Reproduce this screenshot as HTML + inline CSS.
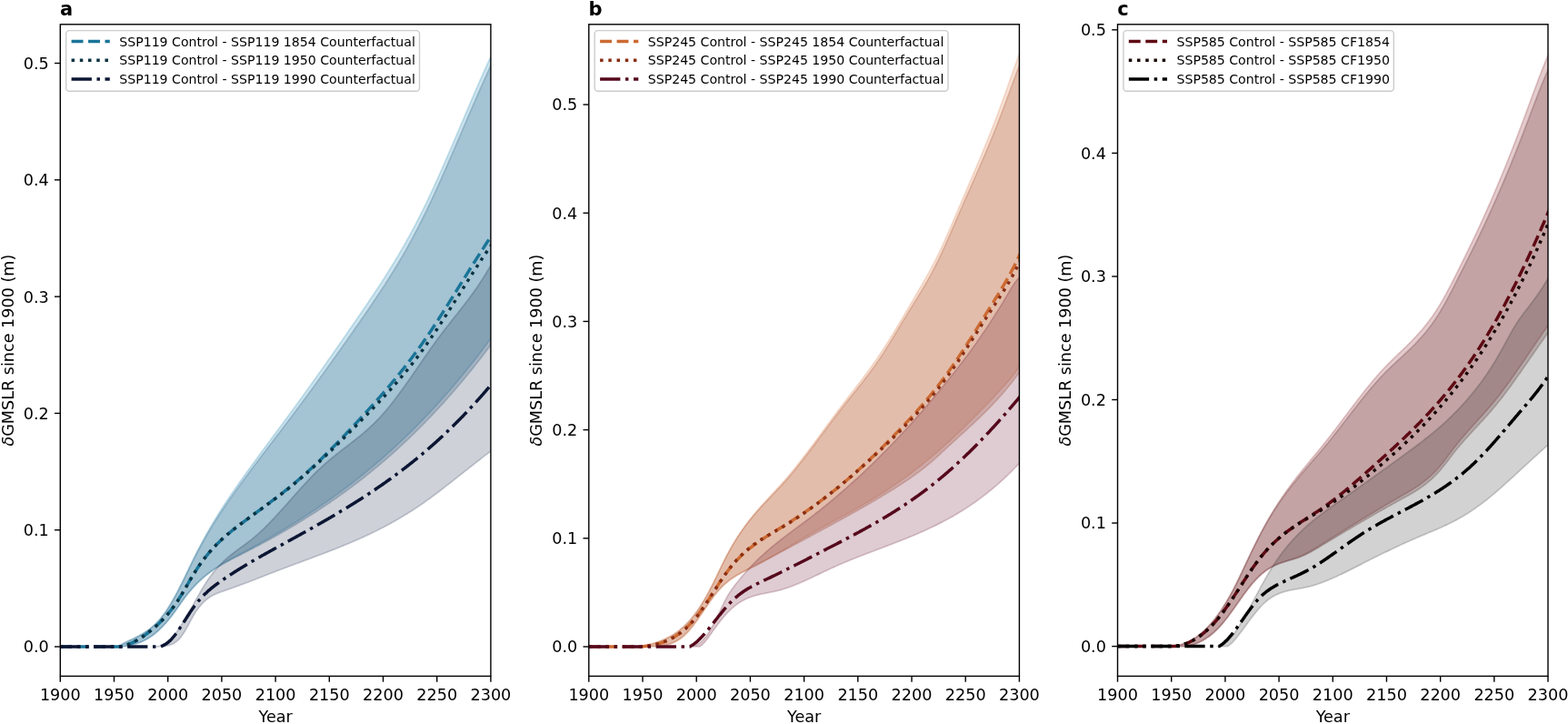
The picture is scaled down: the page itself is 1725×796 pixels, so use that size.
<!DOCTYPE html>
<html><head><meta charset="utf-8"><title>Sea level rise figure</title>
<style>html,body{margin:0;padding:0;background:#fff;}svg{display:block;}</style>
</head><body>
<svg width="1725" height="796" viewBox="0 0 1725 796" font-family='"DejaVu Sans", "Liberation Sans", sans-serif' fill="#000">
<rect width="1725" height="796" fill="#fff"/>
<clipPath id="clip0"><rect x="66.30" y="26.80" width="473.60" height="716.60"/></clipPath>
<g clip-path="url(#clip0)">
<path d="M129.0,711.0 L130.0,710.7 L131.0,710.1 L132.0,709.5 L133.0,709.0 L134.0,708.4 L135.0,707.9 L136.0,707.4 L137.0,706.9 L138.0,706.3 L139.0,705.9 L140.0,705.4 L141.0,704.9 L142.0,704.4 L143.0,703.9 L144.0,703.4 L145.0,703.0 L146.0,702.5 L147.0,702.0 L148.0,701.5 L149.0,701.0 L150.0,700.5 L151.0,700.0 L152.0,699.5 L153.0,699.0 L154.0,698.4 L155.0,697.9 L156.0,697.3 L157.0,696.7 L158.0,696.1 L159.0,695.5 L160.0,694.8 L161.0,694.2 L162.0,693.5 L163.0,692.8 L164.0,692.0 L165.0,691.3 L166.0,690.5 L167.0,689.7 L168.0,688.8 L169.0,687.9 L170.0,687.0 L171.0,686.0 L172.0,685.1 L173.0,684.0 L174.0,683.0 L175.0,681.9 L176.0,680.7 L177.0,679.5 L178.0,678.3 L179.0,677.0 L180.0,675.7 L181.0,674.3 L182.0,672.9 L183.0,671.4 L184.0,669.9 L185.0,668.3 L186.0,666.7 L187.0,665.1 L188.0,663.4 L189.0,661.7 L190.0,660.0 L191.0,658.2 L192.0,656.4 L193.0,654.6 L194.0,652.7 L195.0,650.8 L196.0,648.9 L197.0,646.9 L198.0,645.0 L199.0,643.0 L200.0,640.9 L201.0,638.9 L202.0,636.9 L203.0,634.8 L204.0,632.7 L205.0,630.6 L206.0,628.5 L207.0,626.5 L208.0,624.4 L209.0,622.3 L210.0,620.2 L211.0,618.1 L212.0,616.1 L213.0,614.0 L214.0,612.0 L215.0,610.0 L216.0,608.0 L217.0,606.0 L218.0,604.1 L219.0,602.1 L220.0,600.2 L221.0,598.3 L222.0,596.5 L223.0,594.6 L224.0,592.8 L225.0,590.9 L226.0,589.1 L227.0,587.3 L228.0,585.6 L229.0,583.8 L230.0,582.1 L231.0,580.3 L232.0,578.6 L233.0,576.9 L234.0,575.3 L235.0,573.6 L236.0,571.9 L237.0,570.3 L238.0,568.7 L239.0,567.0 L240.0,565.4 L241.0,563.8 L242.0,562.3 L243.0,560.7 L244.0,559.1 L245.0,557.6 L246.0,556.0 L247.0,554.5 L248.0,553.0 L249.0,551.5 L250.0,550.0 L251.0,548.5 L252.0,547.0 L253.0,545.5 L254.0,544.0 L255.0,542.6 L256.0,541.1 L257.0,539.7 L258.0,538.2 L259.0,536.8 L260.0,535.3 L261.0,533.9 L262.0,532.5 L263.0,531.1 L264.0,529.6 L265.0,528.2 L266.0,526.8 L267.0,525.4 L268.0,524.0 L269.0,522.6 L270.0,521.2 L271.0,519.8 L272.0,518.4 L273.0,517.0 L274.0,515.6 L275.0,514.3 L276.0,512.9 L277.0,511.5 L278.0,510.1 L279.0,508.8 L280.0,507.4 L281.0,506.0 L282.0,504.7 L283.0,503.3 L284.0,501.9 L285.0,500.6 L286.0,499.2 L287.0,497.8 L288.0,496.5 L289.0,495.1 L290.0,493.8 L291.0,492.4 L292.0,491.1 L293.0,489.7 L294.0,488.4 L295.0,487.0 L296.0,485.7 L297.0,484.3 L298.0,483.0 L299.0,481.6 L300.0,480.3 L301.0,478.9 L302.0,477.6 L303.0,476.3 L304.0,474.9 L305.0,473.6 L306.0,472.2 L307.0,470.9 L308.0,469.5 L309.0,468.2 L310.0,466.8 L311.0,465.5 L312.0,464.1 L313.0,462.8 L314.0,461.4 L315.0,460.1 L316.0,458.7 L317.0,457.4 L318.0,456.0 L319.0,454.7 L320.0,453.3 L321.0,451.9 L322.0,450.6 L323.0,449.2 L324.0,447.8 L325.0,446.5 L326.0,445.1 L327.0,443.7 L328.0,442.4 L329.0,441.0 L330.0,439.6 L331.0,438.2 L332.0,436.8 L333.0,435.5 L334.0,434.1 L335.0,432.7 L336.0,431.3 L337.0,429.9 L338.0,428.5 L339.0,427.1 L340.0,425.7 L341.0,424.3 L342.0,423.0 L343.0,421.6 L344.0,420.2 L345.0,418.8 L346.0,417.4 L347.0,415.9 L348.0,414.5 L349.0,413.1 L350.0,411.7 L351.0,410.3 L352.0,408.9 L353.0,407.5 L354.0,406.1 L355.0,404.7 L356.0,403.2 L357.0,401.8 L358.0,400.4 L359.0,399.0 L360.0,397.6 L361.0,396.1 L362.0,394.7 L363.0,393.3 L364.0,391.9 L365.0,390.4 L366.0,389.0 L367.0,387.6 L368.0,386.1 L369.0,384.7 L370.0,383.3 L371.0,381.8 L372.0,380.4 L373.0,379.0 L374.0,377.5 L375.0,376.1 L376.0,374.7 L377.0,373.2 L378.0,371.8 L379.0,370.3 L380.0,368.9 L381.0,367.4 L382.0,366.0 L383.0,364.5 L384.0,363.1 L385.0,361.6 L386.0,360.2 L387.0,358.7 L388.0,357.3 L389.0,355.8 L390.0,354.4 L391.0,352.9 L392.0,351.5 L393.0,350.0 L394.0,348.6 L395.0,347.1 L396.0,345.7 L397.0,344.2 L398.0,342.7 L399.0,341.3 L400.0,339.8 L401.0,338.3 L402.0,336.9 L403.0,335.4 L404.0,333.9 L405.0,332.5 L406.0,331.0 L407.0,329.5 L408.0,328.0 L409.0,326.5 L410.0,325.0 L411.0,323.5 L412.0,322.0 L413.0,320.5 L414.0,319.0 L415.0,317.5 L416.0,316.0 L417.0,314.5 L418.0,312.9 L419.0,311.4 L420.0,309.9 L421.0,308.3 L422.0,306.8 L423.0,305.2 L424.0,303.6 L425.0,302.1 L426.0,300.5 L427.0,298.9 L428.0,297.3 L429.0,295.7 L430.0,294.1 L431.0,292.5 L432.0,290.8 L433.0,289.2 L434.0,287.6 L435.0,285.9 L436.0,284.2 L437.0,282.6 L438.0,280.9 L439.0,279.2 L440.0,277.5 L441.0,275.8 L442.0,274.1 L443.0,272.3 L444.0,270.6 L445.0,268.8 L446.0,267.1 L447.0,265.3 L448.0,263.5 L449.0,261.7 L450.0,259.9 L451.0,258.1 L452.0,256.2 L453.0,254.4 L454.0,252.5 L455.0,250.7 L456.0,248.8 L457.0,246.9 L458.0,245.0 L459.0,243.0 L460.0,241.1 L461.0,239.2 L462.0,237.2 L463.0,235.2 L464.0,233.2 L465.0,231.2 L466.0,229.2 L467.0,227.1 L468.0,225.1 L469.0,223.0 L470.0,220.9 L471.0,218.8 L472.0,216.7 L473.0,214.6 L474.0,212.4 L475.0,210.3 L476.0,208.1 L477.0,206.0 L478.0,203.8 L479.0,201.6 L480.0,199.4 L481.0,197.2 L482.0,194.9 L483.0,192.7 L484.0,190.5 L485.0,188.2 L486.0,186.0 L487.0,183.7 L488.0,181.4 L489.0,179.2 L490.0,176.9 L491.0,174.6 L492.0,172.3 L493.0,170.0 L494.0,167.7 L495.0,165.4 L496.0,163.0 L497.0,160.7 L498.0,158.4 L499.0,156.1 L500.0,153.7 L501.0,151.4 L502.0,149.1 L503.0,146.7 L504.0,144.4 L505.0,142.0 L506.0,139.7 L507.0,137.3 L508.0,135.0 L509.0,132.7 L510.0,130.3 L511.0,128.0 L512.0,125.6 L513.0,123.3 L514.0,121.0 L515.0,118.6 L516.0,116.3 L517.0,114.0 L518.0,111.6 L519.0,109.3 L520.0,107.0 L521.0,104.7 L522.0,102.4 L523.0,100.0 L524.0,97.7 L525.0,95.5 L526.0,93.2 L527.0,90.9 L528.0,88.6 L529.0,86.3 L530.0,84.1 L531.0,81.8 L532.0,79.6 L533.0,77.3 L534.0,75.1 L535.0,72.9 L536.0,70.7 L537.0,68.5 L538.0,66.3 L539.0,64.1 L540.0,62.0 L541.0,59.8 L542.0,57.7 L543.0,55.5 L544.0,53.4 L544.0,366.7 L543.0,368.1 L542.0,369.5 L541.0,370.8 L540.0,372.2 L539.0,373.6 L538.0,374.9 L537.0,376.3 L536.0,377.6 L535.0,379.0 L534.0,380.3 L533.0,381.7 L532.0,383.0 L531.0,384.3 L530.0,385.6 L529.0,386.9 L528.0,388.2 L527.0,389.6 L526.0,390.9 L525.0,392.1 L524.0,393.4 L523.0,394.7 L522.0,396.0 L521.0,397.3 L520.0,398.6 L519.0,399.8 L518.0,401.1 L517.0,402.3 L516.0,403.6 L515.0,404.8 L514.0,406.1 L513.0,407.3 L512.0,408.6 L511.0,409.8 L510.0,411.0 L509.0,412.2 L508.0,413.5 L507.0,414.7 L506.0,415.9 L505.0,417.1 L504.0,418.3 L503.0,419.5 L502.0,420.7 L501.0,421.8 L500.0,423.0 L499.0,424.2 L498.0,425.4 L497.0,426.5 L496.0,427.7 L495.0,428.9 L494.0,430.0 L493.0,431.2 L492.0,432.3 L491.0,433.5 L490.0,434.6 L489.0,435.7 L488.0,436.9 L487.0,438.0 L486.0,439.1 L485.0,440.2 L484.0,441.3 L483.0,442.4 L482.0,443.5 L481.0,444.6 L480.0,445.7 L479.0,446.8 L478.0,447.9 L477.0,449.0 L476.0,450.1 L475.0,451.1 L474.0,452.2 L473.0,453.3 L472.0,454.3 L471.0,455.4 L470.0,456.5 L469.0,457.5 L468.0,458.6 L467.0,459.6 L466.0,460.6 L465.0,461.7 L464.0,462.7 L463.0,463.7 L462.0,464.8 L461.0,465.8 L460.0,466.8 L459.0,467.8 L458.0,468.8 L457.0,469.8 L456.0,470.8 L455.0,471.8 L454.0,472.8 L453.0,473.8 L452.0,474.8 L451.0,475.8 L450.0,476.7 L449.0,477.7 L448.0,478.7 L447.0,479.6 L446.0,480.6 L445.0,481.6 L444.0,482.5 L443.0,483.5 L442.0,484.4 L441.0,485.4 L440.0,486.3 L439.0,487.3 L438.0,488.2 L437.0,489.1 L436.0,490.0 L435.0,491.0 L434.0,491.9 L433.0,492.8 L432.0,493.7 L431.0,494.6 L430.0,495.5 L429.0,496.4 L428.0,497.3 L427.0,498.2 L426.0,499.1 L425.0,500.0 L424.0,500.9 L423.0,501.8 L422.0,502.7 L421.0,503.5 L420.0,504.4 L419.0,505.3 L418.0,506.2 L417.0,507.0 L416.0,507.9 L415.0,508.7 L414.0,509.6 L413.0,510.4 L412.0,511.3 L411.0,512.1 L410.0,513.0 L409.0,513.8 L408.0,514.6 L407.0,515.5 L406.0,516.3 L405.0,517.1 L404.0,517.9 L403.0,518.8 L402.0,519.6 L401.0,520.4 L400.0,521.2 L399.0,522.0 L398.0,522.8 L397.0,523.6 L396.0,524.4 L395.0,525.2 L394.0,526.0 L393.0,526.8 L392.0,527.6 L391.0,528.4 L390.0,529.1 L389.0,529.9 L388.0,530.7 L387.0,531.5 L386.0,532.2 L385.0,533.0 L384.0,533.8 L383.0,534.5 L382.0,535.3 L381.0,536.0 L380.0,536.8 L379.0,537.5 L378.0,538.3 L377.0,539.0 L376.0,539.8 L375.0,540.5 L374.0,541.3 L373.0,542.0 L372.0,542.7 L371.0,543.5 L370.0,544.2 L369.0,544.9 L368.0,545.6 L367.0,546.3 L366.0,547.1 L365.0,547.8 L364.0,548.5 L363.0,549.2 L362.0,549.9 L361.0,550.6 L360.0,551.3 L359.0,552.0 L358.0,552.7 L357.0,553.4 L356.0,554.1 L355.0,554.8 L354.0,555.5 L353.0,556.1 L352.0,556.8 L351.0,557.5 L350.0,558.2 L349.0,558.9 L348.0,559.5 L347.0,560.2 L346.0,560.9 L345.0,561.5 L344.0,562.2 L343.0,562.9 L342.0,563.5 L341.0,564.2 L340.0,564.8 L339.0,565.5 L338.0,566.1 L337.0,566.8 L336.0,567.4 L335.0,568.1 L334.0,568.7 L333.0,569.4 L332.0,570.0 L331.0,570.6 L330.0,571.3 L329.0,571.9 L328.0,572.5 L327.0,573.2 L326.0,573.8 L325.0,574.4 L324.0,575.0 L323.0,575.7 L322.0,576.3 L321.0,576.9 L320.0,577.5 L319.0,578.1 L318.0,578.7 L317.0,579.3 L316.0,580.0 L315.0,580.6 L314.0,581.2 L313.0,581.8 L312.0,582.4 L311.0,583.0 L310.0,583.6 L309.0,584.2 L308.0,584.8 L307.0,585.3 L306.0,585.9 L305.0,586.5 L304.0,587.1 L303.0,587.7 L302.0,588.3 L301.0,588.9 L300.0,589.4 L299.0,590.0 L298.0,590.6 L297.0,591.2 L296.0,591.7 L295.0,592.3 L294.0,592.9 L293.0,593.5 L292.0,594.0 L291.0,594.6 L290.0,595.2 L289.0,595.7 L288.0,596.3 L287.0,596.8 L286.0,597.4 L285.0,598.0 L284.0,598.5 L283.0,599.1 L282.0,599.6 L281.0,600.2 L280.0,600.7 L279.0,601.3 L278.0,601.8 L277.0,602.4 L276.0,602.9 L275.0,603.5 L274.0,604.0 L273.0,604.6 L272.0,605.1 L271.0,605.6 L270.0,606.2 L269.0,606.7 L268.0,607.3 L267.0,607.8 L266.0,608.3 L265.0,608.9 L264.0,609.4 L263.0,609.9 L262.0,610.4 L261.0,611.0 L260.0,611.5 L259.0,612.0 L258.0,612.6 L257.0,613.1 L256.0,613.6 L255.0,614.2 L254.0,614.7 L253.0,615.3 L252.0,615.8 L251.0,616.4 L250.0,616.9 L249.0,617.5 L248.0,618.1 L247.0,618.7 L246.0,619.2 L245.0,619.8 L244.0,620.4 L243.0,621.0 L242.0,621.7 L241.0,622.3 L240.0,622.9 L239.0,623.6 L238.0,624.2 L237.0,624.9 L236.0,625.6 L235.0,626.3 L234.0,627.0 L233.0,627.7 L232.0,628.4 L231.0,629.2 L230.0,629.9 L229.0,630.7 L228.0,631.5 L227.0,632.3 L226.0,633.1 L225.0,634.0 L224.0,634.8 L223.0,635.7 L222.0,636.6 L221.0,637.5 L220.0,638.4 L219.0,639.4 L218.0,640.3 L217.0,641.3 L216.0,642.3 L215.0,643.3 L214.0,644.4 L213.0,645.5 L212.0,646.6 L211.0,647.7 L210.0,648.8 L209.0,650.0 L208.0,651.2 L207.0,652.4 L206.0,653.6 L205.0,654.9 L204.0,656.2 L203.0,657.5 L202.0,658.9 L201.0,660.3 L200.0,661.6 L199.0,663.1 L198.0,664.5 L197.0,665.9 L196.0,667.3 L195.0,668.7 L194.0,670.2 L193.0,671.6 L192.0,672.9 L191.0,674.3 L190.0,675.6 L189.0,676.9 L188.0,678.2 L187.0,679.5 L186.0,680.7 L185.0,681.9 L184.0,683.1 L183.0,684.2 L182.0,685.4 L181.0,686.5 L180.0,687.6 L179.0,688.6 L178.0,689.6 L177.0,690.6 L176.0,691.6 L175.0,692.5 L174.0,693.5 L173.0,694.4 L172.0,695.2 L171.0,696.1 L170.0,696.9 L169.0,697.7 L168.0,698.4 L167.0,699.1 L166.0,699.9 L165.0,700.5 L164.0,701.2 L163.0,701.8 L162.0,702.4 L161.0,703.0 L160.0,703.5 L159.0,704.0 L158.0,704.5 L157.0,705.0 L156.0,705.5 L155.0,705.9 L154.0,706.3 L153.0,706.7 L152.0,707.1 L151.0,707.4 L150.0,707.7 L149.0,708.1 L148.0,708.4 L147.0,708.6 L146.0,708.9 L145.0,709.1 L144.0,709.3 L143.0,709.5 L142.0,709.7 L141.0,709.9 L140.0,710.1 L139.0,710.2 L138.0,710.4 L137.0,710.5 L136.0,710.6 L135.0,710.7 L134.0,710.8 L133.0,710.9 L132.0,710.9 L131.0,711.0 L130.0,711.0 L129.0,711.0 Z" fill="#0578aa" fill-opacity="0.200" stroke="#0578aa" stroke-opacity="0.200" stroke-width="1.74" stroke-linejoin="round"/>
<path d="M129.0,711.0 L130.0,710.7 L131.0,710.1 L132.0,709.5 L133.0,709.0 L134.0,708.4 L135.0,707.9 L136.0,707.4 L137.0,706.9 L138.0,706.4 L139.0,705.9 L140.0,705.4 L141.0,704.9 L142.0,704.4 L143.0,703.9 L144.0,703.4 L145.0,703.0 L146.0,702.5 L147.0,702.0 L148.0,701.5 L149.0,701.0 L150.0,700.5 L151.0,700.0 L152.0,699.5 L153.0,698.9 L154.0,698.4 L155.0,697.8 L156.0,697.3 L157.0,696.7 L158.0,696.1 L159.0,695.4 L160.0,694.8 L161.0,694.1 L162.0,693.4 L163.0,692.7 L164.0,692.0 L165.0,691.2 L166.0,690.4 L167.0,689.6 L168.0,688.8 L169.0,687.9 L170.0,687.0 L171.0,686.0 L172.0,685.0 L173.0,684.0 L174.0,682.9 L175.0,681.8 L176.0,680.7 L177.0,679.5 L178.0,678.3 L179.0,677.0 L180.0,675.7 L181.0,674.4 L182.0,673.0 L183.0,671.5 L184.0,670.0 L185.0,668.5 L186.0,666.9 L187.0,665.3 L188.0,663.7 L189.0,662.0 L190.0,660.3 L191.0,658.5 L192.0,656.8 L193.0,655.0 L194.0,653.1 L195.0,651.3 L196.0,649.4 L197.0,647.5 L198.0,645.5 L199.0,643.6 L200.0,641.6 L201.0,639.6 L202.0,637.6 L203.0,635.6 L204.0,633.5 L205.0,631.5 L206.0,629.4 L207.0,627.4 L208.0,625.3 L209.0,623.3 L210.0,621.3 L211.0,619.2 L212.0,617.2 L213.0,615.2 L214.0,613.2 L215.0,611.3 L216.0,609.3 L217.0,607.4 L218.0,605.5 L219.0,603.6 L220.0,601.8 L221.0,599.9 L222.0,598.1 L223.0,596.3 L224.0,594.5 L225.0,592.7 L226.0,590.9 L227.0,589.2 L228.0,587.5 L229.0,585.8 L230.0,584.1 L231.0,582.4 L232.0,580.7 L233.0,579.1 L234.0,577.4 L235.0,575.8 L236.0,574.2 L237.0,572.6 L238.0,571.0 L239.0,569.4 L240.0,567.9 L241.0,566.3 L242.0,564.8 L243.0,563.3 L244.0,561.8 L245.0,560.3 L246.0,558.8 L247.0,557.3 L248.0,555.8 L249.0,554.3 L250.0,552.9 L251.0,551.4 L252.0,550.0 L253.0,548.5 L254.0,547.1 L255.0,545.7 L256.0,544.3 L257.0,542.9 L258.0,541.5 L259.0,540.1 L260.0,538.7 L261.0,537.3 L262.0,535.9 L263.0,534.5 L264.0,533.1 L265.0,531.8 L266.0,530.4 L267.0,529.0 L268.0,527.7 L269.0,526.3 L270.0,525.0 L271.0,523.6 L272.0,522.3 L273.0,520.9 L274.0,519.6 L275.0,518.2 L276.0,516.9 L277.0,515.5 L278.0,514.2 L279.0,512.9 L280.0,511.5 L281.0,510.2 L282.0,508.9 L283.0,507.6 L284.0,506.2 L285.0,504.9 L286.0,503.6 L287.0,502.3 L288.0,500.9 L289.0,499.6 L290.0,498.3 L291.0,497.0 L292.0,495.7 L293.0,494.4 L294.0,493.0 L295.0,491.7 L296.0,490.4 L297.0,489.1 L298.0,487.8 L299.0,486.5 L300.0,485.2 L301.0,483.9 L302.0,482.6 L303.0,481.2 L304.0,479.9 L305.0,478.6 L306.0,477.3 L307.0,476.0 L308.0,474.7 L309.0,473.4 L310.0,472.1 L311.0,470.7 L312.0,469.4 L313.0,468.1 L314.0,466.8 L315.0,465.5 L316.0,464.2 L317.0,462.8 L318.0,461.5 L319.0,460.2 L320.0,458.9 L321.0,457.5 L322.0,456.2 L323.0,454.9 L324.0,453.5 L325.0,452.2 L326.0,450.9 L327.0,449.5 L328.0,448.2 L329.0,446.9 L330.0,445.5 L331.0,444.2 L332.0,442.8 L333.0,441.5 L334.0,440.1 L335.0,438.8 L336.0,437.4 L337.0,436.1 L338.0,434.7 L339.0,433.3 L340.0,432.0 L341.0,430.6 L342.0,429.3 L343.0,427.9 L344.0,426.5 L345.0,425.2 L346.0,423.8 L347.0,422.4 L348.0,421.0 L349.0,419.7 L350.0,418.3 L351.0,416.9 L352.0,415.5 L353.0,414.1 L354.0,412.8 L355.0,411.4 L356.0,410.0 L357.0,408.6 L358.0,407.2 L359.0,405.8 L360.0,404.4 L361.0,403.0 L362.0,401.6 L363.0,400.2 L364.0,398.8 L365.0,397.4 L366.0,396.0 L367.0,394.6 L368.0,393.2 L369.0,391.8 L370.0,390.4 L371.0,389.0 L372.0,387.6 L373.0,386.2 L374.0,384.8 L375.0,383.4 L376.0,382.0 L377.0,380.6 L378.0,379.1 L379.0,377.7 L380.0,376.3 L381.0,374.9 L382.0,373.5 L383.0,372.0 L384.0,370.6 L385.0,369.2 L386.0,367.8 L387.0,366.3 L388.0,364.9 L389.0,363.5 L390.0,362.1 L391.0,360.6 L392.0,359.2 L393.0,357.8 L394.0,356.3 L395.0,354.9 L396.0,353.4 L397.0,352.0 L398.0,350.6 L399.0,349.1 L400.0,347.7 L401.0,346.2 L402.0,344.8 L403.0,343.3 L404.0,341.9 L405.0,340.4 L406.0,339.0 L407.0,337.5 L408.0,336.0 L409.0,334.6 L410.0,333.1 L411.0,331.6 L412.0,330.1 L413.0,328.6 L414.0,327.1 L415.0,325.6 L416.0,324.1 L417.0,322.6 L418.0,321.1 L419.0,319.6 L420.0,318.1 L421.0,316.5 L422.0,315.0 L423.0,313.5 L424.0,311.9 L425.0,310.3 L426.0,308.8 L427.0,307.2 L428.0,305.6 L429.0,304.0 L430.0,302.4 L431.0,300.8 L432.0,299.2 L433.0,297.6 L434.0,296.0 L435.0,294.3 L436.0,292.7 L437.0,291.0 L438.0,289.4 L439.0,287.7 L440.0,286.0 L441.0,284.3 L442.0,282.6 L443.0,280.9 L444.0,279.1 L445.0,277.4 L446.0,275.7 L447.0,273.9 L448.0,272.1 L449.0,270.3 L450.0,268.5 L451.0,266.7 L452.0,264.9 L453.0,263.1 L454.0,261.2 L455.0,259.4 L456.0,257.5 L457.0,255.6 L458.0,253.7 L459.0,251.8 L460.0,249.9 L461.0,247.9 L462.0,246.0 L463.0,244.0 L464.0,242.0 L465.0,240.0 L466.0,238.0 L467.0,236.0 L468.0,233.9 L469.0,231.9 L470.0,229.8 L471.0,227.7 L472.0,225.6 L473.0,223.5 L474.0,221.4 L475.0,219.3 L476.0,217.1 L477.0,215.0 L478.0,212.8 L479.0,210.6 L480.0,208.4 L481.0,206.2 L482.0,204.0 L483.0,201.8 L484.0,199.6 L485.0,197.3 L486.0,195.1 L487.0,192.8 L488.0,190.6 L489.0,188.3 L490.0,186.1 L491.0,183.8 L492.0,181.5 L493.0,179.2 L494.0,176.9 L495.0,174.6 L496.0,172.3 L497.0,170.0 L498.0,167.7 L499.0,165.4 L500.0,163.1 L501.0,160.7 L502.0,158.4 L503.0,156.1 L504.0,153.8 L505.0,151.5 L506.0,149.1 L507.0,146.8 L508.0,144.5 L509.0,142.1 L510.0,139.8 L511.0,137.5 L512.0,135.2 L513.0,132.8 L514.0,130.5 L515.0,128.2 L516.0,125.9 L517.0,123.6 L518.0,121.2 L519.0,118.9 L520.0,116.6 L521.0,114.3 L522.0,112.0 L523.0,109.7 L524.0,107.5 L525.0,105.2 L526.0,102.9 L527.0,100.6 L528.0,98.4 L529.0,96.1 L530.0,93.9 L531.0,91.7 L532.0,89.4 L533.0,87.2 L534.0,85.0 L535.0,82.8 L536.0,80.6 L537.0,78.4 L538.0,76.2 L539.0,74.1 L540.0,71.9 L541.0,69.8 L542.0,67.7 L543.0,65.6 L544.0,63.5 L544.0,373.8 L543.0,375.1 L542.0,376.5 L541.0,377.8 L540.0,379.2 L539.0,380.5 L538.0,381.9 L537.0,383.2 L536.0,384.5 L535.0,385.8 L534.0,387.2 L533.0,388.5 L532.0,389.8 L531.0,391.1 L530.0,392.4 L529.0,393.7 L528.0,395.0 L527.0,396.3 L526.0,397.5 L525.0,398.8 L524.0,400.1 L523.0,401.3 L522.0,402.6 L521.0,403.9 L520.0,405.1 L519.0,406.4 L518.0,407.6 L517.0,408.8 L516.0,410.1 L515.0,411.3 L514.0,412.5 L513.0,413.7 L512.0,415.0 L511.0,416.2 L510.0,417.4 L509.0,418.6 L508.0,419.8 L507.0,421.0 L506.0,422.1 L505.0,423.3 L504.0,424.5 L503.0,425.7 L502.0,426.8 L501.0,428.0 L500.0,429.2 L499.0,430.3 L498.0,431.5 L497.0,432.6 L496.0,433.8 L495.0,434.9 L494.0,436.0 L493.0,437.2 L492.0,438.3 L491.0,439.4 L490.0,440.5 L489.0,441.7 L488.0,442.8 L487.0,443.9 L486.0,445.0 L485.0,446.1 L484.0,447.2 L483.0,448.2 L482.0,449.3 L481.0,450.4 L480.0,451.5 L479.0,452.5 L478.0,453.6 L477.0,454.7 L476.0,455.7 L475.0,456.8 L474.0,457.8 L473.0,458.9 L472.0,459.9 L471.0,461.0 L470.0,462.0 L469.0,463.0 L468.0,464.1 L467.0,465.1 L466.0,466.1 L465.0,467.1 L464.0,468.1 L463.0,469.1 L462.0,470.1 L461.0,471.1 L460.0,472.1 L459.0,473.1 L458.0,474.1 L457.0,475.1 L456.0,476.1 L455.0,477.1 L454.0,478.0 L453.0,479.0 L452.0,480.0 L451.0,480.9 L450.0,481.9 L449.0,482.8 L448.0,483.8 L447.0,484.7 L446.0,485.7 L445.0,486.6 L444.0,487.5 L443.0,488.5 L442.0,489.4 L441.0,490.3 L440.0,491.3 L439.0,492.2 L438.0,493.1 L437.0,494.0 L436.0,494.9 L435.0,495.8 L434.0,496.7 L433.0,497.6 L432.0,498.5 L431.0,499.4 L430.0,500.3 L429.0,501.2 L428.0,502.0 L427.0,502.9 L426.0,503.8 L425.0,504.7 L424.0,505.5 L423.0,506.4 L422.0,507.2 L421.0,508.1 L420.0,508.9 L419.0,509.8 L418.0,510.6 L417.0,511.5 L416.0,512.3 L415.0,513.2 L414.0,514.0 L413.0,514.8 L412.0,515.6 L411.0,516.5 L410.0,517.3 L409.0,518.1 L408.0,518.9 L407.0,519.7 L406.0,520.5 L405.0,521.3 L404.0,522.1 L403.0,522.9 L402.0,523.7 L401.0,524.5 L400.0,525.3 L399.0,526.1 L398.0,526.9 L397.0,527.7 L396.0,528.4 L395.0,529.2 L394.0,530.0 L393.0,530.8 L392.0,531.5 L391.0,532.3 L390.0,533.0 L389.0,533.8 L388.0,534.6 L387.0,535.3 L386.0,536.1 L385.0,536.8 L384.0,537.5 L383.0,538.3 L382.0,539.0 L381.0,539.8 L380.0,540.5 L379.0,541.2 L378.0,541.9 L377.0,542.7 L376.0,543.4 L375.0,544.1 L374.0,544.8 L373.0,545.5 L372.0,546.2 L371.0,546.9 L370.0,547.7 L369.0,548.4 L368.0,549.1 L367.0,549.7 L366.0,550.4 L365.0,551.1 L364.0,551.8 L363.0,552.5 L362.0,553.2 L361.0,553.9 L360.0,554.6 L359.0,555.2 L358.0,555.9 L357.0,556.6 L356.0,557.2 L355.0,557.9 L354.0,558.6 L353.0,559.2 L352.0,559.9 L351.0,560.6 L350.0,561.2 L349.0,561.9 L348.0,562.5 L347.0,563.2 L346.0,563.8 L345.0,564.5 L344.0,565.1 L343.0,565.7 L342.0,566.4 L341.0,567.0 L340.0,567.6 L339.0,568.3 L338.0,568.9 L337.0,569.5 L336.0,570.1 L335.0,570.8 L334.0,571.4 L333.0,572.0 L332.0,572.6 L331.0,573.2 L330.0,573.8 L329.0,574.4 L328.0,575.1 L327.0,575.7 L326.0,576.3 L325.0,576.9 L324.0,577.5 L323.0,578.1 L322.0,578.7 L321.0,579.2 L320.0,579.8 L319.0,580.4 L318.0,581.0 L317.0,581.6 L316.0,582.2 L315.0,582.8 L314.0,583.3 L313.0,583.9 L312.0,584.5 L311.0,585.1 L310.0,585.6 L309.0,586.2 L308.0,586.8 L307.0,587.3 L306.0,587.9 L305.0,588.5 L304.0,589.0 L303.0,589.6 L302.0,590.2 L301.0,590.7 L300.0,591.3 L299.0,591.8 L298.0,592.4 L297.0,592.9 L296.0,593.5 L295.0,594.0 L294.0,594.6 L293.0,595.1 L292.0,595.7 L291.0,596.2 L290.0,596.7 L289.0,597.3 L288.0,597.8 L287.0,598.3 L286.0,598.9 L285.0,599.4 L284.0,599.9 L283.0,600.5 L282.0,601.0 L281.0,601.5 L280.0,602.0 L279.0,602.6 L278.0,603.1 L277.0,603.6 L276.0,604.1 L275.0,604.6 L274.0,605.2 L273.0,605.7 L272.0,606.2 L271.0,606.7 L270.0,607.2 L269.0,607.7 L268.0,608.2 L267.0,608.7 L266.0,609.3 L265.0,609.8 L264.0,610.3 L263.0,610.8 L262.0,611.3 L261.0,611.8 L260.0,612.3 L259.0,612.8 L258.0,613.3 L257.0,613.8 L256.0,614.3 L255.0,614.8 L254.0,615.3 L253.0,615.9 L252.0,616.4 L251.0,616.9 L250.0,617.4 L249.0,618.0 L248.0,618.5 L247.0,619.1 L246.0,619.6 L245.0,620.2 L244.0,620.8 L243.0,621.4 L242.0,622.0 L241.0,622.6 L240.0,623.2 L239.0,623.8 L238.0,624.4 L237.0,625.1 L236.0,625.7 L235.0,626.4 L234.0,627.1 L233.0,627.8 L232.0,628.5 L231.0,629.2 L230.0,630.0 L229.0,630.7 L228.0,631.5 L227.0,632.3 L226.0,633.1 L225.0,633.9 L224.0,634.8 L223.0,635.6 L222.0,636.5 L221.0,637.4 L220.0,638.3 L219.0,639.3 L218.0,640.2 L217.0,641.2 L216.0,642.2 L215.0,643.2 L214.0,644.3 L213.0,645.3 L212.0,646.4 L211.0,647.5 L210.0,648.7 L209.0,649.9 L208.0,651.0 L207.0,652.3 L206.0,653.5 L205.0,654.8 L204.0,656.1 L203.0,657.4 L202.0,658.8 L201.0,660.2 L200.0,661.6 L199.0,663.0 L198.0,664.4 L197.0,665.8 L196.0,667.3 L195.0,668.7 L194.0,670.1 L193.0,671.5 L192.0,672.9 L191.0,674.3 L190.0,675.7 L189.0,677.0 L188.0,678.3 L187.0,679.5 L186.0,680.8 L185.0,682.0 L184.0,683.2 L183.0,684.3 L182.0,685.4 L181.0,686.5 L180.0,687.6 L179.0,688.7 L178.0,689.7 L177.0,690.7 L176.0,691.7 L175.0,692.6 L174.0,693.5 L173.0,694.4 L172.0,695.3 L171.0,696.1 L170.0,696.9 L169.0,697.7 L168.0,698.5 L167.0,699.2 L166.0,699.9 L165.0,700.6 L164.0,701.2 L163.0,701.8 L162.0,702.4 L161.0,703.0 L160.0,703.5 L159.0,704.1 L158.0,704.6 L157.0,705.0 L156.0,705.5 L155.0,705.9 L154.0,706.3 L153.0,706.7 L152.0,707.1 L151.0,707.4 L150.0,707.7 L149.0,708.0 L148.0,708.3 L147.0,708.6 L146.0,708.9 L145.0,709.1 L144.0,709.3 L143.0,709.5 L142.0,709.7 L141.0,709.9 L140.0,710.1 L139.0,710.2 L138.0,710.4 L137.0,710.5 L136.0,710.6 L135.0,710.7 L134.0,710.8 L133.0,710.9 L132.0,710.9 L131.0,711.0 L130.0,711.0 L129.0,711.0 Z" fill="#003f67" fill-opacity="0.200" stroke="#003f67" stroke-opacity="0.200" stroke-width="1.74" stroke-linejoin="round"/>
<path d="M172.4,711.0 L173.4,710.6 L174.4,710.6 L175.4,710.5 L176.4,710.4 L177.4,710.1 L178.4,709.8 L179.4,709.3 L180.4,708.8 L181.4,708.2 L182.4,707.6 L183.4,706.8 L184.4,706.0 L185.4,705.2 L186.4,704.2 L187.4,703.2 L188.4,702.2 L189.4,701.0 L190.4,699.9 L191.4,698.6 L192.4,697.4 L193.4,696.0 L194.4,694.7 L195.4,693.3 L196.4,691.8 L197.4,690.3 L198.4,688.8 L199.4,687.2 L200.4,685.6 L201.4,684.0 L202.4,682.3 L203.5,680.6 L204.5,678.9 L205.5,677.2 L206.5,675.5 L207.5,673.7 L208.5,671.9 L209.5,670.1 L210.5,668.4 L211.5,666.6 L212.5,664.8 L213.5,663.0 L214.5,661.2 L215.5,659.4 L216.5,657.6 L217.5,655.9 L218.5,654.1 L219.5,652.4 L220.5,650.6 L221.5,648.9 L222.5,647.2 L223.5,645.6 L224.5,644.0 L225.5,642.4 L226.5,640.8 L227.5,639.3 L228.5,637.8 L229.5,636.3 L230.5,634.9 L231.5,633.5 L232.5,632.2 L233.5,630.9 L234.5,629.6 L235.5,628.4 L236.5,627.2 L237.5,626.0 L238.5,624.8 L239.5,623.7 L240.5,622.6 L241.5,621.6 L242.5,620.5 L243.5,619.5 L244.5,618.5 L245.5,617.6 L246.5,616.6 L247.5,615.7 L248.5,614.8 L249.5,613.9 L250.5,613.1 L251.5,612.2 L252.5,611.4 L253.5,610.5 L254.5,609.7 L255.5,608.9 L256.5,608.2 L257.5,607.4 L258.5,606.6 L259.5,605.9 L260.5,605.1 L261.5,604.4 L262.5,603.6 L263.5,602.9 L264.5,602.1 L265.6,601.4 L266.6,600.7 L267.6,600.0 L268.6,599.2 L269.6,598.5 L270.6,597.7 L271.6,597.0 L272.6,596.2 L273.6,595.5 L274.6,594.7 L275.6,593.9 L276.6,593.2 L277.6,592.4 L278.6,591.5 L279.6,590.7 L280.6,589.9 L281.6,589.0 L282.6,588.2 L283.6,587.3 L284.6,586.4 L285.6,585.5 L286.6,584.6 L287.6,583.6 L288.6,582.7 L289.6,581.7 L290.6,580.8 L291.6,579.8 L292.6,578.8 L293.6,577.8 L294.6,576.8 L295.6,575.8 L296.6,574.7 L297.6,573.7 L298.6,572.7 L299.6,571.6 L300.6,570.6 L301.6,569.5 L302.6,568.4 L303.6,567.3 L304.6,566.2 L305.6,565.2 L306.6,564.1 L307.6,563.0 L308.6,561.9 L309.6,560.7 L310.6,559.6 L311.6,558.5 L312.6,557.4 L313.6,556.3 L314.6,555.1 L315.6,554.0 L316.6,552.9 L317.6,551.8 L318.6,550.6 L319.6,549.5 L320.6,548.4 L321.6,547.2 L322.6,546.1 L323.6,545.0 L324.6,543.8 L325.6,542.7 L326.6,541.6 L327.7,540.5 L328.7,539.3 L329.7,538.2 L330.7,537.1 L331.7,536.0 L332.7,534.9 L333.7,533.8 L334.7,532.7 L335.7,531.6 L336.7,530.5 L337.7,529.5 L338.7,528.4 L339.7,527.3 L340.7,526.3 L341.7,525.2 L342.7,524.2 L343.7,523.2 L344.7,522.1 L345.7,521.1 L346.7,520.1 L347.7,519.1 L348.7,518.1 L349.7,517.2 L350.7,516.2 L351.7,515.3 L352.7,514.3 L353.7,513.4 L354.7,512.5 L355.7,511.6 L356.7,510.7 L357.7,509.8 L358.7,508.9 L359.7,508.1 L360.7,507.2 L361.7,506.3 L362.7,505.5 L363.7,504.7 L364.7,503.8 L365.7,503.0 L366.7,502.2 L367.7,501.4 L368.7,500.6 L369.7,499.8 L370.7,499.0 L371.7,498.2 L372.7,497.4 L373.7,496.7 L374.7,495.9 L375.7,495.1 L376.7,494.3 L377.7,493.6 L378.7,492.8 L379.7,492.0 L380.7,491.2 L381.7,490.5 L382.7,489.7 L383.7,488.9 L384.7,488.1 L385.7,487.4 L386.7,486.6 L387.7,485.8 L388.7,485.0 L389.8,484.2 L390.8,483.4 L391.8,482.6 L392.8,481.8 L393.8,481.0 L394.8,480.2 L395.8,479.4 L396.8,478.6 L397.8,477.7 L398.8,476.9 L399.8,476.1 L400.8,475.2 L401.8,474.3 L402.8,473.5 L403.8,472.6 L404.8,471.7 L405.8,470.8 L406.8,469.9 L407.8,468.9 L408.8,468.0 L409.8,467.1 L410.8,466.1 L411.8,465.1 L412.8,464.1 L413.8,463.1 L414.8,462.1 L415.8,461.1 L416.8,460.0 L417.8,459.0 L418.8,457.9 L419.8,456.8 L420.8,455.7 L421.8,454.6 L422.8,453.4 L423.8,452.3 L424.8,451.1 L425.8,449.9 L426.8,448.7 L427.8,447.5 L428.8,446.2 L429.8,445.0 L430.8,443.7 L431.8,442.4 L432.8,441.2 L433.8,439.9 L434.8,438.5 L435.8,437.2 L436.8,435.9 L437.8,434.5 L438.8,433.2 L439.8,431.8 L440.8,430.5 L441.8,429.1 L442.8,427.7 L443.8,426.3 L444.8,424.9 L445.8,423.5 L446.8,422.1 L447.8,420.7 L448.8,419.2 L449.8,417.8 L450.8,416.4 L451.9,414.9 L452.9,413.5 L453.9,412.0 L454.9,410.6 L455.9,409.1 L456.9,407.7 L457.9,406.2 L458.9,404.8 L459.9,403.3 L460.9,401.9 L461.9,400.4 L462.9,398.9 L463.9,397.5 L464.9,396.0 L465.9,394.6 L466.9,393.1 L467.9,391.7 L468.9,390.3 L469.9,388.8 L470.9,387.4 L471.9,386.0 L472.9,384.5 L473.9,383.1 L474.9,381.7 L475.9,380.3 L476.9,378.9 L477.9,377.5 L478.9,376.1 L479.9,374.8 L480.9,373.4 L481.9,372.0 L482.9,370.7 L483.9,369.4 L484.9,368.0 L485.9,366.7 L486.9,365.4 L487.9,364.1 L488.9,362.8 L489.9,361.5 L490.9,360.2 L491.9,358.9 L492.9,357.7 L493.9,356.4 L494.9,355.1 L495.9,353.8 L496.9,352.6 L497.9,351.3 L498.9,350.0 L499.9,348.8 L500.9,347.5 L501.9,346.2 L502.9,345.0 L503.9,343.7 L504.9,342.4 L505.9,341.1 L506.9,339.9 L507.9,338.6 L508.9,337.3 L509.9,336.0 L510.9,334.7 L511.9,333.4 L512.9,332.0 L514.0,330.7 L515.0,329.4 L516.0,328.0 L517.0,326.7 L518.0,325.3 L519.0,323.9 L520.0,322.6 L521.0,321.2 L522.0,319.7 L523.0,318.3 L524.0,316.9 L525.0,315.4 L526.0,314.0 L527.0,312.5 L528.0,311.0 L529.0,309.5 L530.0,307.9 L531.0,306.4 L532.0,304.8 L533.0,303.2 L534.0,301.6 L535.0,300.0 L536.0,298.3 L537.0,296.6 L538.0,294.9 L539.0,293.2 L540.0,291.5 L541.0,289.7 L542.0,287.9 L543.0,286.1 L544.0,284.3 L544.0,493.1 L543.0,493.8 L542.0,494.6 L541.0,495.3 L540.0,496.0 L539.0,496.8 L538.0,497.5 L537.0,498.3 L536.0,499.1 L535.0,499.8 L534.0,500.6 L533.0,501.3 L532.0,502.1 L531.0,502.9 L530.0,503.6 L529.0,504.4 L528.0,505.2 L527.0,506.0 L526.0,506.8 L525.0,507.5 L524.0,508.3 L523.0,509.1 L522.0,509.9 L521.0,510.7 L520.0,511.5 L519.0,512.2 L518.0,513.0 L517.0,513.8 L516.0,514.6 L515.0,515.4 L514.0,516.2 L512.9,517.0 L511.9,517.8 L510.9,518.6 L509.9,519.4 L508.9,520.2 L507.9,521.0 L506.9,521.7 L505.9,522.5 L504.9,523.3 L503.9,524.1 L502.9,524.9 L501.9,525.7 L500.9,526.5 L499.9,527.3 L498.9,528.1 L497.9,528.9 L496.9,529.7 L495.9,530.4 L494.9,531.2 L493.9,532.0 L492.9,532.8 L491.9,533.6 L490.9,534.3 L489.9,535.1 L488.9,535.9 L487.9,536.7 L486.9,537.4 L485.9,538.2 L484.9,539.0 L483.9,539.7 L482.9,540.5 L481.9,541.3 L480.9,542.0 L479.9,542.8 L478.9,543.5 L477.9,544.3 L476.9,545.0 L475.9,545.8 L474.9,546.5 L473.9,547.2 L472.9,548.0 L471.9,548.7 L470.9,549.4 L469.9,550.1 L468.9,550.8 L467.9,551.6 L466.9,552.3 L465.9,553.0 L464.9,553.7 L463.9,554.4 L462.9,555.1 L461.9,555.8 L460.9,556.4 L459.9,557.1 L458.9,557.8 L457.9,558.5 L456.9,559.1 L455.9,559.8 L454.9,560.4 L453.9,561.1 L452.9,561.7 L451.9,562.4 L450.8,563.0 L449.8,563.6 L448.8,564.3 L447.8,564.9 L446.8,565.5 L445.8,566.1 L444.8,566.7 L443.8,567.3 L442.8,567.9 L441.8,568.5 L440.8,569.1 L439.8,569.7 L438.8,570.3 L437.8,570.9 L436.8,571.5 L435.8,572.1 L434.8,572.6 L433.8,573.2 L432.8,573.8 L431.8,574.3 L430.8,574.9 L429.8,575.4 L428.8,576.0 L427.8,576.5 L426.8,577.1 L425.8,577.6 L424.8,578.1 L423.8,578.7 L422.8,579.2 L421.8,579.7 L420.8,580.2 L419.8,580.7 L418.8,581.3 L417.8,581.8 L416.8,582.3 L415.8,582.8 L414.8,583.3 L413.8,583.8 L412.8,584.3 L411.8,584.8 L410.8,585.2 L409.8,585.7 L408.8,586.2 L407.8,586.7 L406.8,587.2 L405.8,587.6 L404.8,588.1 L403.8,588.6 L402.8,589.1 L401.8,589.5 L400.8,590.0 L399.8,590.4 L398.8,590.9 L397.8,591.3 L396.8,591.8 L395.8,592.2 L394.8,592.7 L393.8,593.1 L392.8,593.6 L391.8,594.0 L390.8,594.5 L389.8,594.9 L388.7,595.3 L387.7,595.8 L386.7,596.2 L385.7,596.6 L384.7,597.0 L383.7,597.5 L382.7,597.9 L381.7,598.3 L380.7,598.7 L379.7,599.1 L378.7,599.5 L377.7,599.9 L376.7,600.4 L375.7,600.8 L374.7,601.2 L373.7,601.6 L372.7,602.0 L371.7,602.4 L370.7,602.8 L369.7,603.2 L368.7,603.6 L367.7,604.0 L366.7,604.4 L365.7,604.8 L364.7,605.2 L363.7,605.5 L362.7,605.9 L361.7,606.3 L360.7,606.7 L359.7,607.1 L358.7,607.5 L357.7,607.9 L356.7,608.2 L355.7,608.6 L354.7,609.0 L353.7,609.4 L352.7,609.8 L351.7,610.1 L350.7,610.5 L349.7,610.9 L348.7,611.3 L347.7,611.7 L346.7,612.0 L345.7,612.4 L344.7,612.8 L343.7,613.2 L342.7,613.5 L341.7,613.9 L340.7,614.3 L339.7,614.6 L338.7,615.0 L337.7,615.4 L336.7,615.8 L335.7,616.1 L334.7,616.5 L333.7,616.9 L332.7,617.2 L331.7,617.6 L330.7,618.0 L329.7,618.4 L328.7,618.7 L327.7,619.1 L326.6,619.5 L325.6,619.8 L324.6,620.2 L323.6,620.6 L322.6,621.0 L321.6,621.3 L320.6,621.7 L319.6,622.1 L318.6,622.4 L317.6,622.8 L316.6,623.2 L315.6,623.6 L314.6,623.9 L313.6,624.3 L312.6,624.7 L311.6,625.1 L310.6,625.5 L309.6,625.8 L308.6,626.2 L307.6,626.6 L306.6,627.0 L305.6,627.4 L304.6,627.7 L303.6,628.1 L302.6,628.5 L301.6,628.9 L300.6,629.3 L299.6,629.7 L298.6,630.1 L297.6,630.5 L296.6,630.8 L295.6,631.2 L294.6,631.6 L293.6,632.0 L292.6,632.4 L291.6,632.8 L290.6,633.2 L289.6,633.6 L288.6,634.0 L287.6,634.4 L286.6,634.8 L285.6,635.1 L284.6,635.5 L283.6,635.9 L282.6,636.3 L281.6,636.7 L280.6,637.1 L279.6,637.5 L278.6,637.9 L277.6,638.3 L276.6,638.6 L275.6,639.0 L274.6,639.4 L273.6,639.8 L272.6,640.2 L271.6,640.6 L270.6,640.9 L269.6,641.3 L268.6,641.7 L267.6,642.1 L266.6,642.4 L265.6,642.8 L264.5,643.2 L263.5,643.6 L262.5,643.9 L261.5,644.3 L260.5,644.7 L259.5,645.0 L258.5,645.4 L257.5,645.8 L256.5,646.1 L255.5,646.5 L254.5,646.8 L253.5,647.2 L252.5,647.5 L251.5,647.9 L250.5,648.2 L249.5,648.6 L248.5,648.9 L247.5,649.2 L246.5,649.6 L245.5,649.9 L244.5,650.3 L243.5,650.6 L242.5,651.0 L241.5,651.4 L240.5,651.7 L239.5,652.1 L238.5,652.6 L237.5,653.0 L236.5,653.5 L235.5,653.9 L234.5,654.5 L233.5,655.0 L232.5,655.6 L231.5,656.2 L230.5,656.8 L229.5,657.5 L228.5,658.3 L227.5,659.0 L226.5,659.9 L225.5,660.7 L224.5,661.7 L223.5,662.6 L222.5,663.7 L221.5,664.7 L220.5,665.9 L219.5,667.1 L218.5,668.4 L217.5,669.7 L216.5,671.1 L215.5,672.6 L214.5,674.2 L213.5,675.8 L212.5,677.5 L211.5,679.3 L210.5,681.1 L209.5,682.9 L208.5,684.8 L207.5,686.7 L206.5,688.5 L205.5,690.3 L204.5,692.1 L203.5,693.8 L202.4,695.5 L201.4,697.0 L200.4,698.5 L199.4,699.9 L198.4,701.2 L197.4,702.3 L196.4,703.4 L195.4,704.3 L194.4,705.2 L193.4,705.9 L192.4,706.6 L191.4,707.2 L190.4,707.8 L189.4,708.3 L188.4,708.7 L187.4,709.0 L186.4,709.3 L185.4,709.6 L184.4,709.8 L183.4,710.0 L182.4,710.1 L181.4,710.3 L180.4,710.4 L179.4,710.4 L178.4,710.5 L177.4,710.6 L176.4,710.6 L175.4,710.7 L174.4,710.8 L173.4,710.8 L172.4,711.0 Z" fill="#0c193d" fill-opacity="0.200" stroke="#0c193d" stroke-opacity="0.200" stroke-width="1.74" stroke-linejoin="round"/>
<path d="M66.30,711.00 L120.0,711.0 L121.0,711.0 L122.0,711.0 L123.0,711.0 L124.0,711.0 L125.0,711.0 L126.0,711.0 L127.0,711.0 L128.0,711.0 L129.0,711.0 L130.0,711.0 L131.0,711.0 L132.0,711.0 L133.0,711.0 L134.0,710.7 L135.0,710.5 L136.0,710.2 L137.0,709.9 L138.0,709.6 L139.0,709.3 L140.0,708.9 L141.0,708.5 L142.0,708.1 L143.0,707.7 L144.0,707.3 L145.0,706.8 L146.0,706.4 L147.0,705.9 L148.0,705.4 L149.0,704.8 L150.0,704.3 L151.0,703.7 L152.0,703.1 L153.0,702.5 L154.0,701.9 L155.0,701.3 L156.0,700.6 L157.0,700.0 L158.0,699.3 L159.0,698.6 L160.0,697.9 L161.0,697.2 L162.0,696.4 L163.0,695.6 L164.0,694.9 L165.0,694.1 L166.0,693.3 L167.0,692.4 L168.0,691.6 L169.0,690.7 L170.0,689.9 L171.0,689.0 L172.0,688.1 L173.0,687.2 L174.0,686.3 L175.0,685.3 L176.0,684.3 L177.0,683.3 L178.0,682.3 L179.0,681.3 L180.0,680.3 L181.0,679.2 L182.0,678.1 L183.0,677.0 L184.0,675.8 L185.0,674.6 L186.0,673.4 L187.0,672.2 L188.0,670.9 L189.0,669.6 L190.0,668.3 L191.0,667.0 L192.0,665.6 L193.0,664.1 L194.0,662.7 L195.0,661.2 L196.0,659.7 L197.0,658.1 L198.0,656.5 L199.0,654.9 L200.0,653.3 L201.0,651.6 L202.0,649.9 L203.0,648.2 L204.0,646.5 L205.0,644.8 L206.0,643.1 L207.0,641.4 L208.0,639.6 L209.0,637.9 L210.0,636.2 L211.0,634.6 L212.0,632.9 L213.0,631.3 L214.0,629.7 L215.0,628.1 L216.0,626.6 L217.0,625.0 L218.0,623.5 L219.0,622.1 L220.0,620.6 L221.0,619.2 L222.0,617.9 L223.0,616.5 L224.0,615.2 L225.0,613.9 L226.0,612.6 L227.0,611.3 L228.0,610.1 L229.0,608.9 L230.0,607.7 L231.0,606.6 L232.0,605.4 L233.0,604.3 L234.0,603.2 L235.0,602.1 L236.0,601.0 L237.0,600.0 L238.0,599.0 L239.0,597.9 L240.0,597.0 L241.0,596.0 L242.0,595.0 L243.0,594.1 L244.0,593.1 L245.0,592.2 L246.0,591.3 L247.0,590.4 L248.0,589.5 L249.0,588.7 L250.0,587.8 L251.0,587.0 L252.0,586.1 L253.0,585.3 L254.0,584.5 L255.0,583.7 L256.0,582.9 L257.0,582.1 L258.0,581.3 L259.0,580.5 L260.0,579.8 L261.0,579.0 L262.0,578.2 L263.0,577.5 L264.0,576.7 L265.0,576.0 L266.0,575.2 L267.0,574.5 L268.0,573.8 L269.0,573.0 L270.0,572.3 L271.0,571.5 L272.0,570.8 L273.0,570.1 L274.0,569.3 L275.0,568.6 L276.0,567.9 L277.0,567.1 L278.0,566.4 L279.0,565.7 L280.0,564.9 L281.0,564.2 L282.0,563.5 L283.0,562.7 L284.0,562.0 L285.0,561.3 L286.0,560.6 L287.0,559.8 L288.0,559.1 L289.0,558.4 L290.0,557.6 L291.0,556.9 L292.0,556.1 L293.0,555.4 L294.0,554.7 L295.0,553.9 L296.0,553.2 L297.0,552.4 L298.0,551.7 L299.0,550.9 L300.0,550.2 L301.0,549.4 L302.0,548.7 L303.0,547.9 L304.0,547.2 L305.0,546.4 L306.0,545.6 L307.0,544.9 L308.0,544.1 L309.0,543.3 L310.0,542.6 L311.0,541.8 L312.0,541.0 L313.0,540.2 L314.0,539.4 L315.0,538.6 L316.0,537.8 L317.0,537.0 L318.0,536.2 L319.0,535.4 L320.0,534.6 L321.0,533.8 L322.0,532.9 L323.0,532.1 L324.0,531.3 L325.0,530.4 L326.0,529.6 L327.0,528.7 L328.0,527.9 L329.0,527.0 L330.0,526.2 L331.0,525.3 L332.0,524.4 L333.0,523.5 L334.0,522.6 L335.0,521.8 L336.0,520.9 L337.0,520.0 L338.0,519.1 L339.0,518.1 L340.0,517.2 L341.0,516.3 L342.0,515.4 L343.0,514.5 L344.0,513.5 L345.0,512.6 L346.0,511.7 L347.0,510.7 L348.0,509.8 L349.0,508.8 L350.0,507.9 L351.0,506.9 L352.0,506.0 L353.0,505.0 L354.0,504.0 L355.0,503.1 L356.0,502.1 L357.0,501.1 L358.0,500.1 L359.0,499.1 L360.0,498.1 L361.0,497.1 L362.0,496.1 L363.0,495.1 L364.0,494.1 L365.0,493.1 L366.0,492.1 L367.0,491.1 L368.0,490.1 L369.0,489.1 L370.0,488.0 L371.0,487.0 L372.0,486.0 L373.0,485.0 L374.0,483.9 L375.0,482.9 L376.0,481.8 L377.0,480.8 L378.0,479.8 L379.0,478.7 L380.0,477.7 L381.0,476.6 L382.0,475.6 L383.0,474.5 L384.0,473.4 L385.0,472.4 L386.0,471.3 L387.0,470.3 L388.0,469.2 L389.0,468.1 L390.0,467.0 L391.0,466.0 L392.0,464.9 L393.0,463.8 L394.0,462.7 L395.0,461.7 L396.0,460.6 L397.0,459.5 L398.0,458.4 L399.0,457.3 L400.0,456.2 L401.0,455.2 L402.0,454.1 L403.0,453.0 L404.0,451.9 L405.0,450.8 L406.0,449.7 L407.0,448.6 L408.0,447.5 L409.0,446.4 L410.0,445.3 L411.0,444.1 L412.0,443.0 L413.0,441.9 L414.0,440.8 L415.0,439.7 L416.0,438.5 L417.0,437.4 L418.0,436.3 L419.0,435.1 L420.0,434.0 L421.0,432.8 L422.0,431.7 L423.0,430.5 L424.0,429.4 L425.0,428.2 L426.0,427.0 L427.0,425.9 L428.0,424.7 L429.0,423.5 L430.0,422.3 L431.0,421.1 L432.0,419.9 L433.0,418.7 L434.0,417.5 L435.0,416.3 L436.0,415.1 L437.0,413.9 L438.0,412.7 L439.0,411.4 L440.0,410.2 L441.0,408.9 L442.0,407.7 L443.0,406.4 L444.0,405.2 L445.0,403.9 L446.0,402.6 L447.0,401.3 L448.0,400.0 L449.0,398.7 L450.0,397.4 L451.0,396.1 L452.0,394.8 L453.0,393.5 L454.0,392.1 L455.0,390.8 L456.0,389.4 L457.0,388.1 L458.0,386.7 L459.0,385.3 L460.0,384.0 L461.0,382.6 L462.0,381.2 L463.0,379.8 L464.0,378.4 L465.0,376.9 L466.0,375.5 L467.0,374.1 L468.0,372.6 L469.0,371.2 L470.0,369.7 L471.0,368.2 L472.0,366.7 L473.0,365.3 L474.0,363.8 L475.0,362.3 L476.0,360.8 L477.0,359.2 L478.0,357.7 L479.0,356.2 L480.0,354.7 L481.0,353.1 L482.0,351.6 L483.0,350.0 L484.0,348.5 L485.0,346.9 L486.0,345.4 L487.0,343.8 L488.0,342.2 L489.0,340.7 L490.0,339.1 L491.0,337.5 L492.0,335.9 L493.0,334.3 L494.0,332.7 L495.0,331.1 L496.0,329.5 L497.0,328.0 L498.0,326.4 L499.0,324.8 L500.0,323.1 L501.0,321.5 L502.0,319.9 L503.0,318.3 L504.0,316.7 L505.0,315.1 L506.0,313.5 L507.0,311.9 L508.0,310.3 L509.0,308.7 L510.0,307.1 L511.0,305.5 L512.0,303.9 L513.0,302.3 L514.0,300.7 L515.0,299.1 L516.0,297.5 L517.0,295.9 L518.0,294.3 L519.0,292.7 L520.0,291.1 L521.0,289.5 L522.0,288.0 L523.0,286.4 L524.0,284.8 L525.0,283.2 L526.0,281.7 L527.0,280.1 L528.0,278.5 L529.0,277.0 L530.0,275.4 L531.0,273.9 L532.0,272.4 L533.0,270.8 L534.0,269.3 L535.0,267.8 L536.0,266.3 L537.0,264.8 L538.0,263.3 L539.0,261.8 L540.0,260.3 L541.0,258.8 L542.0,257.3 L543.0,255.8 L544.0,254.4" fill="none" stroke="#1a7598" stroke-width="3.48" stroke-dasharray="12.9 5.57" stroke-linecap="butt" stroke-linejoin="round"/>
<path d="M66.30,711.00 L120.0,711.0 L121.0,711.0 L122.0,711.0 L123.0,711.0 L124.0,711.0 L125.0,711.0 L126.0,711.0 L127.0,711.0 L128.0,711.0 L129.0,711.0 L130.0,711.0 L131.0,711.0 L132.0,711.0 L133.0,711.0 L134.0,710.8 L135.0,710.6 L136.0,710.3 L137.0,710.0 L138.0,709.7 L139.0,709.3 L140.0,709.0 L141.0,708.6 L142.0,708.2 L143.0,707.8 L144.0,707.3 L145.0,706.8 L146.0,706.4 L147.0,705.9 L148.0,705.3 L149.0,704.8 L150.0,704.2 L151.0,703.7 L152.0,703.1 L153.0,702.5 L154.0,701.9 L155.0,701.2 L156.0,700.6 L157.0,699.9 L158.0,699.2 L159.0,698.5 L160.0,697.8 L161.0,697.0 L162.0,696.3 L163.0,695.5 L164.0,694.7 L165.0,693.9 L166.0,693.1 L167.0,692.3 L168.0,691.5 L169.0,690.6 L170.0,689.7 L171.0,688.9 L172.0,688.0 L173.0,687.1 L174.0,686.2 L175.0,685.2 L176.0,684.3 L177.0,683.3 L178.0,682.3 L179.0,681.3 L180.0,680.2 L181.0,679.2 L182.0,678.1 L183.0,677.0 L184.0,675.8 L185.0,674.7 L186.0,673.5 L187.0,672.3 L188.0,671.0 L189.0,669.7 L190.0,668.4 L191.0,667.1 L192.0,665.7 L193.0,664.3 L194.0,662.8 L195.0,661.4 L196.0,659.8 L197.0,658.3 L198.0,656.7 L199.0,655.0 L200.0,653.4 L201.0,651.7 L202.0,650.0 L203.0,648.3 L204.0,646.6 L205.0,644.9 L206.0,643.2 L207.0,641.4 L208.0,639.7 L209.0,638.0 L210.0,636.3 L211.0,634.6 L212.0,632.9 L213.0,631.3 L214.0,629.7 L215.0,628.1 L216.0,626.5 L217.0,625.0 L218.0,623.5 L219.0,622.0 L220.0,620.6 L221.0,619.2 L222.0,617.8 L223.0,616.4 L224.0,615.1 L225.0,613.8 L226.0,612.5 L227.0,611.3 L228.0,610.0 L229.0,608.8 L230.0,607.6 L231.0,606.4 L232.0,605.3 L233.0,604.2 L234.0,603.1 L235.0,602.0 L236.0,600.9 L237.0,599.9 L238.0,598.8 L239.0,597.8 L240.0,596.8 L241.0,595.9 L242.0,594.9 L243.0,594.0 L244.0,593.0 L245.0,592.1 L246.0,591.2 L247.0,590.3 L248.0,589.4 L249.0,588.6 L250.0,587.7 L251.0,586.9 L252.0,586.1 L253.0,585.2 L254.0,584.4 L255.0,583.6 L256.0,582.8 L257.0,582.0 L258.0,581.3 L259.0,580.5 L260.0,579.7 L261.0,578.9 L262.0,578.2 L263.0,577.4 L264.0,576.7 L265.0,575.9 L266.0,575.2 L267.0,574.5 L268.0,573.7 L269.0,573.0 L270.0,572.3 L271.0,571.5 L272.0,570.8 L273.0,570.0 L274.0,569.3 L275.0,568.6 L276.0,567.9 L277.0,567.1 L278.0,566.4 L279.0,565.7 L280.0,564.9 L281.0,564.2 L282.0,563.5 L283.0,562.8 L284.0,562.0 L285.0,561.3 L286.0,560.6 L287.0,559.9 L288.0,559.1 L289.0,558.4 L290.0,557.7 L291.0,556.9 L292.0,556.2 L293.0,555.5 L294.0,554.7 L295.0,554.0 L296.0,553.3 L297.0,552.5 L298.0,551.8 L299.0,551.0 L300.0,550.3 L301.0,549.5 L302.0,548.8 L303.0,548.1 L304.0,547.3 L305.0,546.5 L306.0,545.8 L307.0,545.0 L308.0,544.3 L309.0,543.5 L310.0,542.7 L311.0,542.0 L312.0,541.2 L313.0,540.4 L314.0,539.6 L315.0,538.8 L316.0,538.1 L317.0,537.3 L318.0,536.5 L319.0,535.7 L320.0,534.9 L321.0,534.1 L322.0,533.3 L323.0,532.4 L324.0,531.6 L325.0,530.8 L326.0,530.0 L327.0,529.1 L328.0,528.3 L329.0,527.4 L330.0,526.6 L331.0,525.7 L332.0,524.9 L333.0,524.0 L334.0,523.2 L335.0,522.3 L336.0,521.4 L337.0,520.5 L338.0,519.7 L339.0,518.8 L340.0,517.9 L341.0,517.0 L342.0,516.1 L343.0,515.2 L344.0,514.3 L345.0,513.4 L346.0,512.5 L347.0,511.6 L348.0,510.6 L349.0,509.7 L350.0,508.8 L351.0,507.9 L352.0,506.9 L353.0,506.0 L354.0,505.1 L355.0,504.1 L356.0,503.2 L357.0,502.2 L358.0,501.3 L359.0,500.3 L360.0,499.4 L361.0,498.4 L362.0,497.5 L363.0,496.5 L364.0,495.5 L365.0,494.6 L366.0,493.6 L367.0,492.6 L368.0,491.6 L369.0,490.7 L370.0,489.7 L371.0,488.7 L372.0,487.7 L373.0,486.7 L374.0,485.7 L375.0,484.7 L376.0,483.8 L377.0,482.8 L378.0,481.8 L379.0,480.8 L380.0,479.8 L381.0,478.8 L382.0,477.8 L383.0,476.8 L384.0,475.7 L385.0,474.7 L386.0,473.7 L387.0,472.7 L388.0,471.7 L389.0,470.7 L390.0,469.7 L391.0,468.7 L392.0,467.7 L393.0,466.6 L394.0,465.6 L395.0,464.6 L396.0,463.6 L397.0,462.6 L398.0,461.5 L399.0,460.5 L400.0,459.5 L401.0,458.5 L402.0,457.5 L403.0,456.4 L404.0,455.4 L405.0,454.4 L406.0,453.3 L407.0,452.3 L408.0,451.3 L409.0,450.2 L410.0,449.2 L411.0,448.2 L412.0,447.1 L413.0,446.1 L414.0,445.0 L415.0,444.0 L416.0,442.9 L417.0,441.9 L418.0,440.8 L419.0,439.8 L420.0,438.7 L421.0,437.6 L422.0,436.5 L423.0,435.5 L424.0,434.4 L425.0,433.3 L426.0,432.2 L427.0,431.1 L428.0,430.0 L429.0,428.9 L430.0,427.8 L431.0,426.7 L432.0,425.6 L433.0,424.4 L434.0,423.3 L435.0,422.2 L436.0,421.0 L437.0,419.9 L438.0,418.7 L439.0,417.5 L440.0,416.4 L441.0,415.2 L442.0,414.0 L443.0,412.8 L444.0,411.6 L445.0,410.4 L446.0,409.2 L447.0,408.0 L448.0,406.8 L449.0,405.6 L450.0,404.3 L451.0,403.1 L452.0,401.8 L453.0,400.5 L454.0,399.3 L455.0,398.0 L456.0,396.7 L457.0,395.4 L458.0,394.1 L459.0,392.8 L460.0,391.4 L461.0,390.1 L462.0,388.8 L463.0,387.4 L464.0,386.0 L465.0,384.7 L466.0,383.3 L467.0,381.9 L468.0,380.5 L469.0,379.1 L470.0,377.6 L471.0,376.2 L472.0,374.8 L473.0,373.3 L474.0,371.9 L475.0,370.4 L476.0,368.9 L477.0,367.5 L478.0,366.0 L479.0,364.5 L480.0,363.0 L481.0,361.5 L482.0,359.9 L483.0,358.4 L484.0,356.9 L485.0,355.4 L486.0,353.8 L487.0,352.3 L488.0,350.7 L489.0,349.2 L490.0,347.6 L491.0,346.1 L492.0,344.5 L493.0,343.0 L494.0,341.4 L495.0,339.8 L496.0,338.2 L497.0,336.7 L498.0,335.1 L499.0,333.5 L500.0,331.9 L501.0,330.4 L502.0,328.8 L503.0,327.2 L504.0,325.6 L505.0,324.0 L506.0,322.4 L507.0,320.8 L508.0,319.2 L509.0,317.7 L510.0,316.1 L511.0,314.5 L512.0,312.9 L513.0,311.3 L514.0,309.8 L515.0,308.2 L516.0,306.6 L517.0,305.0 L518.0,303.5 L519.0,301.9 L520.0,300.3 L521.0,298.8 L522.0,297.2 L523.0,295.7 L524.0,294.1 L525.0,292.6 L526.0,291.0 L527.0,289.5 L528.0,288.0 L529.0,286.5 L530.0,284.9 L531.0,283.4 L532.0,281.9 L533.0,280.4 L534.0,278.9 L535.0,277.5 L536.0,276.0 L537.0,274.5 L538.0,273.1 L539.0,271.6 L540.0,270.2 L541.0,268.7 L542.0,267.3 L543.0,265.9 L544.0,264.5" fill="none" stroke="#0a3242" stroke-width="3.48" stroke-dasharray="3.48 5.74" stroke-linecap="butt" stroke-linejoin="round"/>
<path d="M66.30,711.00 L160.0,711.0 L161.0,710.9 L162.0,711.0 L163.0,711.0 L164.0,711.0 L165.0,711.0 L166.0,711.0 L167.0,711.0 L168.0,711.0 L169.0,711.0 L170.0,711.0 L171.0,711.0 L172.0,711.0 L173.0,711.0 L174.0,711.0 L175.0,711.0 L176.0,711.0 L177.0,710.7 L178.0,710.3 L179.0,709.9 L180.0,709.4 L181.0,708.9 L182.0,708.3 L183.0,707.7 L184.0,706.9 L185.0,706.2 L186.0,705.3 L187.0,704.4 L188.0,703.4 L189.0,702.3 L190.0,701.2 L191.0,700.0 L192.0,698.8 L193.0,697.5 L194.0,696.1 L195.0,694.8 L196.0,693.3 L197.0,691.9 L198.0,690.4 L199.0,688.9 L200.0,687.4 L201.0,685.8 L202.0,684.3 L203.0,682.7 L204.0,681.2 L205.0,679.6 L206.0,678.0 L207.0,676.5 L208.0,675.0 L209.0,673.4 L210.0,671.9 L211.0,670.5 L212.0,669.1 L213.0,667.7 L214.0,666.3 L215.0,665.0 L216.0,663.7 L217.0,662.4 L218.0,661.2 L219.0,660.0 L220.0,658.9 L221.0,657.8 L222.0,656.7 L223.0,655.6 L224.0,654.6 L225.0,653.6 L226.0,652.6 L227.0,651.7 L228.0,650.7 L229.0,649.8 L230.0,648.9 L231.0,648.1 L232.0,647.2 L233.0,646.4 L234.0,645.6 L235.0,644.8 L236.0,644.0 L237.0,643.3 L238.0,642.5 L239.0,641.8 L240.0,641.1 L241.0,640.3 L242.0,639.6 L243.0,638.9 L244.0,638.2 L245.0,637.6 L246.0,636.9 L247.0,636.2 L248.0,635.5 L249.0,634.8 L250.0,634.2 L251.0,633.5 L252.0,632.9 L253.0,632.2 L254.0,631.6 L255.0,630.9 L256.0,630.3 L257.0,629.6 L258.0,629.0 L259.0,628.3 L260.0,627.7 L261.0,627.1 L262.0,626.5 L263.0,625.8 L264.0,625.2 L265.0,624.6 L266.0,624.0 L267.0,623.4 L268.0,622.8 L269.0,622.2 L270.0,621.6 L271.0,621.0 L272.0,620.4 L273.0,619.8 L274.0,619.2 L275.0,618.6 L276.0,618.0 L277.0,617.4 L278.0,616.8 L279.0,616.3 L280.0,615.7 L281.0,615.1 L282.0,614.5 L283.0,613.9 L284.0,613.4 L285.0,612.8 L286.0,612.2 L287.0,611.7 L288.0,611.1 L289.0,610.5 L290.0,610.0 L291.0,609.4 L292.0,608.9 L293.0,608.3 L294.0,607.7 L295.0,607.2 L296.0,606.6 L297.0,606.1 L298.0,605.5 L299.0,605.0 L300.0,604.4 L301.0,603.9 L302.0,603.3 L303.0,602.8 L304.0,602.2 L305.0,601.7 L306.0,601.1 L307.0,600.6 L308.0,600.0 L309.0,599.5 L310.0,598.9 L311.0,598.4 L312.0,597.8 L313.0,597.3 L314.0,596.7 L315.0,596.2 L316.0,595.6 L317.0,595.1 L318.0,594.5 L319.0,594.0 L320.0,593.4 L321.0,592.9 L322.0,592.3 L323.0,591.8 L324.0,591.2 L325.0,590.7 L326.0,590.1 L327.0,589.6 L328.0,589.0 L329.0,588.5 L330.0,587.9 L331.0,587.4 L332.0,586.8 L333.0,586.2 L334.0,585.7 L335.0,585.1 L336.0,584.6 L337.0,584.0 L338.0,583.5 L339.0,582.9 L340.0,582.3 L341.0,581.8 L342.0,581.2 L343.0,580.7 L344.0,580.1 L345.0,579.5 L346.0,579.0 L347.0,578.4 L348.0,577.8 L349.0,577.3 L350.0,576.7 L351.0,576.1 L352.0,575.6 L353.0,575.0 L354.0,574.4 L355.0,573.9 L356.0,573.3 L357.0,572.7 L358.0,572.1 L359.0,571.6 L360.0,571.0 L361.0,570.4 L362.0,569.8 L363.0,569.2 L364.0,568.7 L365.0,568.1 L366.0,567.5 L367.0,566.9 L368.0,566.3 L369.0,565.7 L370.0,565.1 L371.0,564.5 L372.0,563.9 L373.0,563.3 L374.0,562.7 L375.0,562.1 L376.0,561.5 L377.0,560.9 L378.0,560.3 L379.0,559.7 L380.0,559.1 L381.0,558.5 L382.0,557.9 L383.0,557.3 L384.0,556.7 L385.0,556.1 L386.0,555.4 L387.0,554.8 L388.0,554.2 L389.0,553.6 L390.0,553.0 L391.0,552.3 L392.0,551.7 L393.0,551.1 L394.0,550.4 L395.0,549.8 L396.0,549.2 L397.0,548.5 L398.0,547.9 L399.0,547.2 L400.0,546.6 L401.0,545.9 L402.0,545.3 L403.0,544.6 L404.0,544.0 L405.0,543.3 L406.0,542.7 L407.0,542.0 L408.0,541.3 L409.0,540.7 L410.0,540.0 L411.0,539.3 L412.0,538.7 L413.0,538.0 L414.0,537.3 L415.0,536.6 L416.0,535.9 L417.0,535.2 L418.0,534.6 L419.0,533.9 L420.0,533.2 L421.0,532.5 L422.0,531.8 L423.0,531.1 L424.0,530.4 L425.0,529.7 L426.0,528.9 L427.0,528.2 L428.0,527.5 L429.0,526.8 L430.0,526.1 L431.0,525.3 L432.0,524.6 L433.0,523.9 L434.0,523.1 L435.0,522.4 L436.0,521.7 L437.0,520.9 L438.0,520.2 L439.0,519.4 L440.0,518.7 L441.0,517.9 L442.0,517.2 L443.0,516.4 L444.0,515.6 L445.0,514.9 L446.0,514.1 L447.0,513.3 L448.0,512.5 L449.0,511.8 L450.0,511.0 L451.0,510.2 L452.0,509.4 L453.0,508.6 L454.0,507.8 L455.0,507.0 L456.0,506.2 L457.0,505.4 L458.0,504.6 L459.0,503.7 L460.0,502.9 L461.0,502.1 L462.0,501.3 L463.0,500.4 L464.0,499.6 L465.0,498.8 L466.0,497.9 L467.0,497.1 L468.0,496.2 L469.0,495.4 L470.0,494.5 L471.0,493.6 L472.0,492.8 L473.0,491.9 L474.0,491.0 L475.0,490.1 L476.0,489.3 L477.0,488.4 L478.0,487.5 L479.0,486.6 L480.0,485.7 L481.0,484.8 L482.0,483.9 L483.0,483.0 L484.0,482.0 L485.0,481.1 L486.0,480.2 L487.0,479.3 L488.0,478.3 L489.0,477.4 L490.0,476.5 L491.0,475.5 L492.0,474.6 L493.0,473.6 L494.0,472.6 L495.0,471.7 L496.0,470.7 L497.0,469.7 L498.0,468.8 L499.0,467.8 L500.0,466.8 L501.0,465.8 L502.0,464.8 L503.0,463.8 L504.0,462.8 L505.0,461.8 L506.0,460.8 L507.0,459.8 L508.0,458.7 L509.0,457.7 L510.0,456.7 L511.0,455.6 L512.0,454.6 L513.0,453.5 L514.0,452.5 L515.0,451.4 L516.0,450.4 L517.0,449.3 L518.0,448.2 L519.0,447.1 L520.0,446.0 L521.0,445.0 L522.0,443.9 L523.0,442.8 L524.0,441.7 L525.0,440.5 L526.0,439.4 L527.0,438.3 L528.0,437.2 L529.0,436.1 L530.0,434.9 L531.0,433.8 L532.0,432.6 L533.0,431.5 L534.0,430.3 L535.0,429.1 L536.0,428.0 L537.0,426.8 L538.0,425.6 L539.0,424.4 L540.0,423.2 L541.0,422.0 L542.0,420.8 L543.0,419.6 L544.0,418.4" fill="none" stroke="#0b1633" stroke-width="3.48" stroke-dasharray="22.3 5.57 3.48 5.57" stroke-linecap="butt" stroke-linejoin="round"/>
</g>
<rect x="66.30" y="26.80" width="473.60" height="716.60" fill="none" stroke="#000" stroke-width="1.4" stroke-linejoin="miter"/>
<line x1="66.30" y1="743.40" x2="66.30" y2="749.70" stroke="#000" stroke-width="1.4"/>
<text x="66.30" y="769.6" text-anchor="middle" font-size="17.60">1900</text>
<line x1="125.50" y1="743.40" x2="125.50" y2="749.70" stroke="#000" stroke-width="1.4"/>
<text x="125.50" y="769.6" text-anchor="middle" font-size="17.60">1950</text>
<line x1="184.70" y1="743.40" x2="184.70" y2="749.70" stroke="#000" stroke-width="1.4"/>
<text x="184.70" y="769.6" text-anchor="middle" font-size="17.60">2000</text>
<line x1="243.90" y1="743.40" x2="243.90" y2="749.70" stroke="#000" stroke-width="1.4"/>
<text x="243.90" y="769.6" text-anchor="middle" font-size="17.60">2050</text>
<line x1="303.10" y1="743.40" x2="303.10" y2="749.70" stroke="#000" stroke-width="1.4"/>
<text x="303.10" y="769.6" text-anchor="middle" font-size="17.60">2100</text>
<line x1="362.30" y1="743.40" x2="362.30" y2="749.70" stroke="#000" stroke-width="1.4"/>
<text x="362.30" y="769.6" text-anchor="middle" font-size="17.60">2150</text>
<line x1="421.50" y1="743.40" x2="421.50" y2="749.70" stroke="#000" stroke-width="1.4"/>
<text x="421.50" y="769.6" text-anchor="middle" font-size="17.60">2200</text>
<line x1="480.70" y1="743.40" x2="480.70" y2="749.70" stroke="#000" stroke-width="1.4"/>
<text x="480.70" y="769.6" text-anchor="middle" font-size="17.60">2250</text>
<line x1="539.90" y1="743.40" x2="539.90" y2="749.70" stroke="#000" stroke-width="1.4"/>
<text x="539.90" y="769.6" text-anchor="middle" font-size="17.60">2300</text>
<line x1="60.00" y1="711.00" x2="66.30" y2="711.00" stroke="#000" stroke-width="1.4"/>
<text x="53.70" y="717.45" text-anchor="end" font-size="17.60">0.0</text>
<line x1="60.00" y1="582.70" x2="66.30" y2="582.70" stroke="#000" stroke-width="1.4"/>
<text x="53.70" y="589.15" text-anchor="end" font-size="17.60">0.1</text>
<line x1="60.00" y1="454.40" x2="66.30" y2="454.40" stroke="#000" stroke-width="1.4"/>
<text x="53.70" y="460.85" text-anchor="end" font-size="17.60">0.2</text>
<line x1="60.00" y1="326.10" x2="66.30" y2="326.10" stroke="#000" stroke-width="1.4"/>
<text x="53.70" y="332.55" text-anchor="end" font-size="17.60">0.3</text>
<line x1="60.00" y1="197.80" x2="66.30" y2="197.80" stroke="#000" stroke-width="1.4"/>
<text x="53.70" y="204.25" text-anchor="end" font-size="17.60">0.4</text>
<line x1="60.00" y1="69.50" x2="66.30" y2="69.50" stroke="#000" stroke-width="1.4"/>
<text x="53.70" y="75.95" text-anchor="end" font-size="17.60">0.5</text>
<text x="303.10" y="794.0" text-anchor="middle" font-size="17.60">Year</text>
<text transform="translate(14.70,385.10) rotate(-90)" text-anchor="middle" font-size="17.60"><tspan font-style="italic">&#948;</tspan>GMSLR since 1900 (m)</text>
<text x="66.10" y="16.80" font-size="21.00" font-weight="bold">a</text>
<rect x="72.70" y="33.60" width="388.80" height="66.60" rx="3.5" ry="3.5" fill="#fff" fill-opacity="0.8" stroke="#cccccc" stroke-width="1.4"/>
<line x1="78.60" y1="45.40" x2="120.80" y2="45.40" stroke="#1a7598" stroke-width="3.48" stroke-dasharray="12.9 5.57"/>
<text x="131.30" y="50.50" font-size="14.10">SSP119 Control - SSP119 1854 Counterfactual</text>
<line x1="78.60" y1="66.20" x2="120.80" y2="66.20" stroke="#0a3242" stroke-width="3.48" stroke-dasharray="3.48 5.74"/>
<text x="131.30" y="71.30" font-size="14.10">SSP119 Control - SSP119 1950 Counterfactual</text>
<line x1="78.60" y1="86.90" x2="120.80" y2="86.90" stroke="#0b1633" stroke-width="3.48" stroke-dasharray="22.3 5.57 3.48 5.57"/>
<text x="131.30" y="92.00" font-size="14.10">SSP119 Control - SSP119 1990 Counterfactual</text>
<clipPath id="clip1"><rect x="647.80" y="26.80" width="473.60" height="716.60"/></clipPath>
<g clip-path="url(#clip1)">
<path d="M705.0,711.0 L706.0,711.0 L707.0,711.0 L708.0,710.7 L709.0,710.4 L710.0,710.1 L711.0,709.8 L712.0,709.4 L713.0,709.1 L714.0,708.8 L715.0,708.5 L716.0,708.2 L717.0,707.9 L718.0,707.6 L719.0,707.3 L720.0,707.0 L721.0,706.6 L722.0,706.3 L723.0,705.9 L724.0,705.6 L725.0,705.2 L726.0,704.8 L727.0,704.5 L728.0,704.1 L729.0,703.7 L730.0,703.2 L731.0,702.8 L732.0,702.4 L733.0,701.9 L734.0,701.4 L735.0,700.9 L736.0,700.4 L737.0,699.9 L738.0,699.3 L739.0,698.7 L740.0,698.2 L741.0,697.5 L742.0,696.9 L743.0,696.3 L744.0,695.6 L745.0,694.9 L746.0,694.1 L747.0,693.4 L748.0,692.6 L749.0,691.8 L750.0,691.0 L751.0,690.1 L752.0,689.2 L753.0,688.3 L754.0,687.3 L755.0,686.3 L756.0,685.3 L757.0,684.3 L758.0,683.2 L759.0,682.0 L760.0,680.9 L761.0,679.7 L762.0,678.5 L763.0,677.2 L764.0,675.9 L765.0,674.5 L766.0,673.2 L767.0,671.7 L768.0,670.3 L769.0,668.8 L770.0,667.3 L771.0,665.7 L772.0,664.1 L773.0,662.4 L774.0,660.8 L775.0,659.1 L776.0,657.3 L777.0,655.6 L778.0,653.8 L779.0,651.9 L780.0,650.1 L781.0,648.2 L782.0,646.3 L783.0,644.3 L784.0,642.4 L785.0,640.4 L786.0,638.3 L787.0,636.3 L788.0,634.3 L789.0,632.2 L790.0,630.1 L791.0,628.1 L792.0,626.0 L793.0,623.9 L794.0,621.9 L795.0,619.8 L796.0,617.8 L797.0,615.8 L798.0,613.9 L799.0,611.9 L800.0,610.0 L801.0,608.2 L802.0,606.3 L803.0,604.5 L804.0,602.7 L805.0,601.0 L806.0,599.3 L807.0,597.6 L808.0,595.9 L809.0,594.3 L810.0,592.7 L811.0,591.1 L812.0,589.5 L813.0,588.0 L814.0,586.5 L815.0,585.0 L816.0,583.6 L817.0,582.1 L818.0,580.7 L819.0,579.3 L820.0,577.9 L821.0,576.6 L822.0,575.2 L823.0,573.9 L824.0,572.6 L825.0,571.3 L826.0,570.0 L827.0,568.8 L828.0,567.6 L829.0,566.3 L830.0,565.1 L831.0,563.9 L832.0,562.7 L833.0,561.5 L834.0,560.4 L835.0,559.2 L836.0,558.1 L837.0,556.9 L838.0,555.8 L839.0,554.7 L840.0,553.6 L841.0,552.5 L842.0,551.4 L843.0,550.3 L844.0,549.2 L845.0,548.1 L846.0,547.0 L847.0,545.9 L848.0,544.8 L849.0,543.7 L850.0,542.6 L851.0,541.6 L852.0,540.5 L853.0,539.4 L854.0,538.3 L855.0,537.2 L856.0,536.1 L857.0,535.0 L858.0,533.9 L859.0,532.8 L860.0,531.7 L861.0,530.6 L862.0,529.4 L863.0,528.3 L864.0,527.1 L865.0,526.0 L866.0,524.8 L867.0,523.6 L868.0,522.5 L869.0,521.3 L870.0,520.1 L871.0,518.8 L872.0,517.6 L873.0,516.4 L874.0,515.2 L875.0,513.9 L876.0,512.7 L877.0,511.4 L878.0,510.1 L879.0,508.9 L880.0,507.6 L881.0,506.3 L882.0,505.0 L883.0,503.7 L884.0,502.4 L885.0,501.1 L886.0,499.8 L887.0,498.5 L888.0,497.2 L889.0,495.9 L890.0,494.5 L891.0,493.2 L892.0,491.9 L893.0,490.5 L894.0,489.2 L895.0,487.8 L896.0,486.5 L897.0,485.1 L898.0,483.8 L899.0,482.4 L900.0,481.1 L901.0,479.7 L902.0,478.4 L903.0,477.0 L904.0,475.7 L905.0,474.3 L906.0,472.9 L907.0,471.6 L908.0,470.2 L909.0,468.9 L910.0,467.5 L911.0,466.1 L912.0,464.8 L913.0,463.4 L914.0,462.1 L915.0,460.7 L916.0,459.4 L917.0,458.0 L918.0,456.7 L919.0,455.3 L920.0,454.0 L921.0,452.6 L922.0,451.3 L923.0,450.0 L924.0,448.7 L925.0,447.3 L926.0,446.0 L927.0,444.7 L928.0,443.4 L929.0,442.1 L930.0,440.8 L931.0,439.5 L932.0,438.2 L933.0,436.9 L934.0,435.6 L935.0,434.3 L936.0,433.0 L937.0,431.7 L938.0,430.4 L939.0,429.1 L940.0,427.8 L941.0,426.5 L942.0,425.2 L943.0,423.9 L944.0,422.6 L945.0,421.3 L946.0,420.0 L947.0,418.7 L948.0,417.4 L949.0,416.1 L950.0,414.7 L951.0,413.4 L952.0,412.1 L953.0,410.7 L954.0,409.4 L955.0,408.0 L956.0,406.7 L957.0,405.3 L958.0,403.9 L959.0,402.5 L960.0,401.1 L961.0,399.7 L962.0,398.3 L963.0,396.9 L964.0,395.4 L965.0,394.0 L966.0,392.5 L967.0,391.0 L968.0,389.5 L969.0,388.0 L970.0,386.5 L971.0,385.0 L972.0,383.5 L973.0,381.9 L974.0,380.4 L975.0,378.8 L976.0,377.2 L977.0,375.6 L978.0,374.0 L979.0,372.4 L980.0,370.8 L981.0,369.2 L982.0,367.6 L983.0,365.9 L984.0,364.3 L985.0,362.6 L986.0,361.0 L987.0,359.3 L988.0,357.6 L989.0,356.0 L990.0,354.3 L991.0,352.6 L992.0,350.9 L993.0,349.2 L994.0,347.6 L995.0,345.9 L996.0,344.2 L997.0,342.5 L998.0,340.8 L999.0,339.1 L1000.0,337.4 L1001.0,335.7 L1002.0,334.0 L1003.0,332.3 L1004.0,330.6 L1005.0,328.9 L1006.0,327.2 L1007.0,325.4 L1008.0,323.7 L1009.0,322.0 L1010.0,320.3 L1011.0,318.6 L1012.0,316.8 L1013.0,315.1 L1014.0,313.4 L1015.0,311.6 L1016.0,309.9 L1017.0,308.1 L1018.0,306.4 L1019.0,304.6 L1020.0,302.8 L1021.0,301.0 L1022.0,299.2 L1023.0,297.4 L1024.0,295.6 L1025.0,293.7 L1026.0,291.8 L1027.0,289.9 L1028.0,288.0 L1029.0,286.1 L1030.0,284.1 L1031.0,282.1 L1032.0,280.1 L1033.0,278.0 L1034.0,275.9 L1035.0,273.8 L1036.0,271.7 L1037.0,269.5 L1038.0,267.3 L1039.0,265.1 L1040.0,262.9 L1041.0,260.6 L1042.0,258.4 L1043.0,256.1 L1044.0,253.8 L1045.0,251.5 L1046.0,249.2 L1047.0,246.9 L1048.0,244.5 L1049.0,242.2 L1050.0,239.8 L1051.0,237.5 L1052.0,235.2 L1053.0,232.8 L1054.0,230.5 L1055.0,228.1 L1056.0,225.8 L1057.0,223.5 L1058.0,221.1 L1059.0,218.8 L1060.0,216.5 L1061.0,214.1 L1062.0,211.8 L1063.0,209.5 L1064.0,207.2 L1065.0,204.8 L1066.0,202.5 L1067.0,200.2 L1068.0,197.9 L1069.0,195.5 L1070.0,193.2 L1071.0,190.8 L1072.0,188.5 L1073.0,186.1 L1074.0,183.8 L1075.0,181.4 L1076.0,179.1 L1077.0,176.7 L1078.0,174.3 L1079.0,171.9 L1080.0,169.5 L1081.0,167.1 L1082.0,164.7 L1083.0,162.2 L1084.0,159.8 L1085.0,157.4 L1086.0,154.9 L1087.0,152.4 L1088.0,149.9 L1089.0,147.4 L1090.0,144.9 L1091.0,142.4 L1092.0,139.8 L1093.0,137.3 L1094.0,134.7 L1095.0,132.1 L1096.0,129.5 L1097.0,126.9 L1098.0,124.2 L1099.0,121.6 L1100.0,118.9 L1101.0,116.2 L1102.0,113.5 L1103.0,110.7 L1104.0,108.0 L1105.0,105.2 L1106.0,102.4 L1107.0,99.6 L1108.0,96.8 L1109.0,93.9 L1110.0,91.1 L1111.0,88.3 L1112.0,85.4 L1113.0,82.6 L1114.0,79.8 L1115.0,76.9 L1116.0,74.1 L1117.0,71.3 L1118.0,68.6 L1119.0,65.8 L1120.0,63.0 L1121.0,60.3 L1122.0,57.6 L1123.0,55.0 L1124.0,52.4 L1125.0,49.8 L1125.0,396.8 L1124.0,398.6 L1123.0,400.3 L1122.0,402.0 L1121.0,403.5 L1120.0,405.1 L1119.0,406.6 L1118.0,408.0 L1117.0,409.4 L1116.0,410.8 L1115.0,412.1 L1114.0,413.4 L1113.0,414.6 L1112.0,415.9 L1111.0,417.1 L1110.0,418.2 L1109.0,419.4 L1108.0,420.5 L1107.0,421.6 L1106.0,422.7 L1105.0,423.9 L1104.0,424.9 L1103.0,426.0 L1102.0,427.1 L1101.0,428.2 L1100.0,429.3 L1099.0,430.4 L1098.0,431.5 L1097.0,432.6 L1096.0,433.6 L1095.0,434.7 L1094.0,435.8 L1093.0,436.8 L1092.0,437.9 L1091.0,439.0 L1090.0,440.0 L1089.0,441.1 L1088.0,442.2 L1087.0,443.2 L1086.0,444.3 L1085.0,445.3 L1084.0,446.3 L1083.0,447.4 L1082.0,448.4 L1081.0,449.5 L1080.0,450.5 L1079.0,451.5 L1078.0,452.5 L1077.0,453.6 L1076.0,454.6 L1075.0,455.6 L1074.0,456.6 L1073.0,457.6 L1072.0,458.6 L1071.0,459.6 L1070.0,460.7 L1069.0,461.7 L1068.0,462.6 L1067.0,463.6 L1066.0,464.6 L1065.0,465.6 L1064.0,466.6 L1063.0,467.6 L1062.0,468.6 L1061.0,469.5 L1060.0,470.5 L1059.0,471.5 L1058.0,472.4 L1057.0,473.4 L1056.0,474.3 L1055.0,475.3 L1054.0,476.2 L1053.0,477.2 L1052.0,478.1 L1051.0,479.1 L1050.0,480.0 L1049.0,480.9 L1048.0,481.9 L1047.0,482.8 L1046.0,483.7 L1045.0,484.6 L1044.0,485.5 L1043.0,486.4 L1042.0,487.3 L1041.0,488.2 L1040.0,489.1 L1039.0,490.0 L1038.0,490.9 L1037.0,491.8 L1036.0,492.7 L1035.0,493.6 L1034.0,494.5 L1033.0,495.3 L1032.0,496.2 L1031.0,497.1 L1030.0,497.9 L1029.0,498.8 L1028.0,499.6 L1027.0,500.5 L1026.0,501.3 L1025.0,502.2 L1024.0,503.0 L1023.0,503.8 L1022.0,504.7 L1021.0,505.5 L1020.0,506.3 L1019.0,507.1 L1018.0,507.9 L1017.0,508.8 L1016.0,509.6 L1015.0,510.4 L1014.0,511.2 L1013.0,512.0 L1012.0,512.8 L1011.0,513.5 L1010.0,514.3 L1009.0,515.1 L1008.0,515.9 L1007.0,516.7 L1006.0,517.4 L1005.0,518.2 L1004.0,519.0 L1003.0,519.7 L1002.0,520.5 L1001.0,521.2 L1000.0,522.0 L999.0,522.7 L998.0,523.4 L997.0,524.2 L996.0,524.9 L995.0,525.6 L994.0,526.4 L993.0,527.1 L992.0,527.8 L991.0,528.5 L990.0,529.2 L989.0,529.9 L988.0,530.6 L987.0,531.3 L986.0,532.0 L985.0,532.7 L984.0,533.4 L983.0,534.1 L982.0,534.8 L981.0,535.4 L980.0,536.1 L979.0,536.8 L978.0,537.4 L977.0,538.1 L976.0,538.8 L975.0,539.4 L974.0,540.1 L973.0,540.7 L972.0,541.3 L971.0,542.0 L970.0,542.6 L969.0,543.3 L968.0,543.9 L967.0,544.5 L966.0,545.1 L965.0,545.7 L964.0,546.4 L963.0,547.0 L962.0,547.6 L961.0,548.2 L960.0,548.8 L959.0,549.4 L958.0,550.0 L957.0,550.6 L956.0,551.2 L955.0,551.8 L954.0,552.4 L953.0,553.0 L952.0,553.5 L951.0,554.1 L950.0,554.7 L949.0,555.3 L948.0,555.9 L947.0,556.4 L946.0,557.0 L945.0,557.6 L944.0,558.1 L943.0,558.7 L942.0,559.3 L941.0,559.8 L940.0,560.4 L939.0,561.0 L938.0,561.5 L937.0,562.1 L936.0,562.6 L935.0,563.2 L934.0,563.7 L933.0,564.3 L932.0,564.9 L931.0,565.4 L930.0,566.0 L929.0,566.5 L928.0,567.1 L927.0,567.6 L926.0,568.2 L925.0,568.7 L924.0,569.2 L923.0,569.8 L922.0,570.3 L921.0,570.9 L920.0,571.4 L919.0,572.0 L918.0,572.5 L917.0,573.1 L916.0,573.6 L915.0,574.2 L914.0,574.7 L913.0,575.3 L912.0,575.8 L911.0,576.4 L910.0,576.9 L909.0,577.5 L908.0,578.0 L907.0,578.6 L906.0,579.1 L905.0,579.7 L904.0,580.2 L903.0,580.8 L902.0,581.3 L901.0,581.9 L900.0,582.5 L899.0,583.0 L898.0,583.6 L897.0,584.1 L896.0,584.7 L895.0,585.3 L894.0,585.8 L893.0,586.4 L892.0,587.0 L891.0,587.5 L890.0,588.1 L889.0,588.7 L888.0,589.3 L887.0,589.9 L886.0,590.4 L885.0,591.0 L884.0,591.6 L883.0,592.2 L882.0,592.8 L881.0,593.4 L880.0,594.0 L879.0,594.5 L878.0,595.1 L877.0,595.7 L876.0,596.3 L875.0,596.9 L874.0,597.5 L873.0,598.1 L872.0,598.7 L871.0,599.3 L870.0,599.9 L869.0,600.5 L868.0,601.1 L867.0,601.7 L866.0,602.3 L865.0,602.9 L864.0,603.4 L863.0,604.0 L862.0,604.6 L861.0,605.2 L860.0,605.8 L859.0,606.4 L858.0,607.0 L857.0,607.6 L856.0,608.2 L855.0,608.7 L854.0,609.3 L853.0,609.9 L852.0,610.5 L851.0,611.1 L850.0,611.6 L849.0,612.2 L848.0,612.8 L847.0,613.3 L846.0,613.9 L845.0,614.5 L844.0,615.0 L843.0,615.6 L842.0,616.2 L841.0,616.7 L840.0,617.3 L839.0,617.8 L838.0,618.4 L837.0,618.9 L836.0,619.4 L835.0,620.0 L834.0,620.5 L833.0,621.0 L832.0,621.6 L831.0,622.1 L830.0,622.6 L829.0,623.1 L828.0,623.6 L827.0,624.1 L826.0,624.6 L825.0,625.1 L824.0,625.6 L823.0,626.1 L822.0,626.6 L821.0,627.1 L820.0,627.6 L819.0,628.0 L818.0,628.5 L817.0,629.0 L816.0,629.5 L815.0,630.0 L814.0,630.6 L813.0,631.1 L812.0,631.6 L811.0,632.2 L810.0,632.8 L809.0,633.4 L808.0,634.0 L807.0,634.6 L806.0,635.2 L805.0,635.9 L804.0,636.6 L803.0,637.3 L802.0,638.0 L801.0,638.8 L800.0,639.6 L799.0,640.4 L798.0,641.2 L797.0,642.1 L796.0,643.0 L795.0,644.0 L794.0,645.0 L793.0,646.0 L792.0,647.1 L791.0,648.2 L790.0,649.3 L789.0,650.5 L788.0,651.7 L787.0,653.0 L786.0,654.3 L785.0,655.6 L784.0,657.0 L783.0,658.4 L782.0,659.8 L781.0,661.3 L780.0,662.7 L779.0,664.2 L778.0,665.7 L777.0,667.2 L776.0,668.7 L775.0,670.2 L774.0,671.7 L773.0,673.2 L772.0,674.7 L771.0,676.2 L770.0,677.7 L769.0,679.2 L768.0,680.7 L767.0,682.1 L766.0,683.5 L765.0,684.9 L764.0,686.3 L763.0,687.7 L762.0,689.0 L761.0,690.3 L760.0,691.5 L759.0,692.7 L758.0,693.9 L757.0,695.0 L756.0,696.1 L755.0,697.1 L754.0,698.1 L753.0,699.0 L752.0,699.9 L751.0,700.7 L750.0,701.4 L749.0,702.2 L748.0,702.8 L747.0,703.5 L746.0,704.1 L745.0,704.6 L744.0,705.1 L743.0,705.6 L742.0,706.1 L741.0,706.5 L740.0,706.9 L739.0,707.2 L738.0,707.5 L737.0,707.8 L736.0,708.1 L735.0,708.3 L734.0,708.5 L733.0,708.7 L732.0,708.9 L731.0,709.0 L730.0,709.1 L729.0,709.3 L728.0,709.4 L727.0,709.5 L726.0,709.5 L725.0,709.6 L724.0,709.7 L723.0,709.7 L722.0,709.8 L721.0,709.8 L720.0,709.8 L719.0,709.9 L718.0,709.9 L717.0,709.9 L716.0,710.0 L715.0,710.0 L714.0,710.1 L713.0,710.2 L712.0,710.2 L711.0,710.3 L710.0,710.4 L709.0,710.5 L708.0,710.6 L707.0,710.8 L706.0,710.9 L705.0,711.0 Z" fill="#d76e32" fill-opacity="0.200" stroke="#d76e32" stroke-opacity="0.200" stroke-width="1.74" stroke-linejoin="round"/>
<path d="M705.0,711.0 L706.0,711.0 L707.0,711.0 L708.0,710.7 L709.0,710.4 L710.0,710.1 L711.0,709.8 L712.0,709.5 L713.0,709.2 L714.0,709.0 L715.0,708.7 L716.0,708.4 L717.0,708.0 L718.0,707.7 L719.0,707.4 L720.0,707.1 L721.0,706.8 L722.0,706.4 L723.0,706.1 L724.0,705.7 L725.0,705.3 L726.0,704.9 L727.0,704.5 L728.0,704.1 L729.0,703.7 L730.0,703.3 L731.0,702.8 L732.0,702.4 L733.0,701.9 L734.0,701.4 L735.0,700.9 L736.0,700.4 L737.0,699.8 L738.0,699.3 L739.0,698.7 L740.0,698.1 L741.0,697.4 L742.0,696.8 L743.0,696.1 L744.0,695.4 L745.0,694.7 L746.0,694.0 L747.0,693.2 L748.0,692.4 L749.0,691.6 L750.0,690.7 L751.0,689.9 L752.0,689.0 L753.0,688.0 L754.0,687.1 L755.0,686.1 L756.0,685.1 L757.0,684.0 L758.0,682.9 L759.0,681.8 L760.0,680.7 L761.0,679.5 L762.0,678.3 L763.0,677.0 L764.0,675.7 L765.0,674.4 L766.0,673.0 L767.0,671.7 L768.0,670.2 L769.0,668.7 L770.0,667.2 L771.0,665.7 L772.0,664.1 L773.0,662.5 L774.0,660.9 L775.0,659.2 L776.0,657.5 L777.0,655.7 L778.0,654.0 L779.0,652.2 L780.0,650.3 L781.0,648.4 L782.0,646.5 L783.0,644.6 L784.0,642.6 L785.0,640.6 L786.0,638.6 L787.0,636.6 L788.0,634.5 L789.0,632.4 L790.0,630.3 L791.0,628.2 L792.0,626.1 L793.0,624.1 L794.0,622.0 L795.0,619.9 L796.0,617.9 L797.0,615.9 L798.0,613.9 L799.0,612.0 L800.0,610.0 L801.0,608.2 L802.0,606.3 L803.0,604.5 L804.0,602.7 L805.0,601.0 L806.0,599.3 L807.0,597.6 L808.0,595.9 L809.0,594.3 L810.0,592.7 L811.0,591.1 L812.0,589.6 L813.0,588.1 L814.0,586.6 L815.0,585.1 L816.0,583.7 L817.0,582.3 L818.0,580.9 L819.0,579.5 L820.0,578.1 L821.0,576.8 L822.0,575.5 L823.0,574.2 L824.0,572.9 L825.0,571.7 L826.0,570.4 L827.0,569.2 L828.0,568.0 L829.0,566.8 L830.0,565.6 L831.0,564.5 L832.0,563.3 L833.0,562.2 L834.0,561.1 L835.0,559.9 L836.0,558.8 L837.0,557.7 L838.0,556.6 L839.0,555.6 L840.0,554.5 L841.0,553.4 L842.0,552.4 L843.0,551.3 L844.0,550.3 L845.0,549.2 L846.0,548.2 L847.0,547.1 L848.0,546.1 L849.0,545.0 L850.0,544.0 L851.0,542.9 L852.0,541.9 L853.0,540.8 L854.0,539.8 L855.0,538.7 L856.0,537.7 L857.0,536.6 L858.0,535.6 L859.0,534.5 L860.0,533.4 L861.0,532.3 L862.0,531.2 L863.0,530.1 L864.0,529.0 L865.0,527.8 L866.0,526.7 L867.0,525.6 L868.0,524.4 L869.0,523.2 L870.0,522.0 L871.0,520.9 L872.0,519.7 L873.0,518.5 L874.0,517.2 L875.0,516.0 L876.0,514.8 L877.0,513.5 L878.0,512.3 L879.0,511.0 L880.0,509.8 L881.0,508.5 L882.0,507.2 L883.0,506.0 L884.0,504.7 L885.0,503.4 L886.0,502.1 L887.0,500.8 L888.0,499.5 L889.0,498.2 L890.0,496.8 L891.0,495.5 L892.0,494.2 L893.0,492.9 L894.0,491.5 L895.0,490.2 L896.0,488.9 L897.0,487.5 L898.0,486.2 L899.0,484.9 L900.0,483.5 L901.0,482.2 L902.0,480.8 L903.0,479.5 L904.0,478.1 L905.0,476.8 L906.0,475.4 L907.0,474.1 L908.0,472.8 L909.0,471.4 L910.0,470.1 L911.0,468.7 L912.0,467.4 L913.0,466.1 L914.0,464.7 L915.0,463.4 L916.0,462.1 L917.0,460.7 L918.0,459.4 L919.0,458.1 L920.0,456.8 L921.0,455.5 L922.0,454.2 L923.0,452.9 L924.0,451.6 L925.0,450.3 L926.0,449.0 L927.0,447.7 L928.0,446.4 L929.0,445.2 L930.0,443.9 L931.0,442.6 L932.0,441.4 L933.0,440.1 L934.0,438.9 L935.0,437.6 L936.0,436.4 L937.0,435.1 L938.0,433.9 L939.0,432.6 L940.0,431.4 L941.0,430.1 L942.0,428.9 L943.0,427.6 L944.0,426.4 L945.0,425.1 L946.0,423.8 L947.0,422.6 L948.0,421.3 L949.0,420.0 L950.0,418.7 L951.0,417.4 L952.0,416.1 L953.0,414.8 L954.0,413.5 L955.0,412.2 L956.0,410.8 L957.0,409.5 L958.0,408.1 L959.0,406.8 L960.0,405.4 L961.0,404.0 L962.0,402.6 L963.0,401.2 L964.0,399.8 L965.0,398.3 L966.0,396.9 L967.0,395.4 L968.0,393.9 L969.0,392.4 L970.0,390.9 L971.0,389.4 L972.0,387.9 L973.0,386.3 L974.0,384.7 L975.0,383.2 L976.0,381.6 L977.0,380.0 L978.0,378.4 L979.0,376.8 L980.0,375.1 L981.0,373.5 L982.0,371.9 L983.0,370.2 L984.0,368.6 L985.0,366.9 L986.0,365.3 L987.0,363.6 L988.0,362.0 L989.0,360.3 L990.0,358.6 L991.0,357.0 L992.0,355.3 L993.0,353.6 L994.0,352.0 L995.0,350.3 L996.0,348.7 L997.0,347.0 L998.0,345.4 L999.0,343.8 L1000.0,342.1 L1001.0,340.5 L1002.0,338.9 L1003.0,337.3 L1004.0,335.7 L1005.0,334.0 L1006.0,332.4 L1007.0,330.8 L1008.0,329.2 L1009.0,327.6 L1010.0,325.9 L1011.0,324.3 L1012.0,322.6 L1013.0,321.0 L1014.0,319.3 L1015.0,317.6 L1016.0,316.0 L1017.0,314.3 L1018.0,312.5 L1019.0,310.8 L1020.0,309.1 L1021.0,307.3 L1022.0,305.5 L1023.0,303.7 L1024.0,301.9 L1025.0,300.1 L1026.0,298.2 L1027.0,296.3 L1028.0,294.4 L1029.0,292.5 L1030.0,290.5 L1031.0,288.5 L1032.0,286.5 L1033.0,284.4 L1034.0,282.3 L1035.0,280.2 L1036.0,278.1 L1037.0,275.9 L1038.0,273.7 L1039.0,271.5 L1040.0,269.3 L1041.0,267.1 L1042.0,264.8 L1043.0,262.5 L1044.0,260.2 L1045.0,258.0 L1046.0,255.7 L1047.0,253.3 L1048.0,251.0 L1049.0,248.7 L1050.0,246.4 L1051.0,244.1 L1052.0,241.7 L1053.0,239.4 L1054.0,237.1 L1055.0,234.8 L1056.0,232.5 L1057.0,230.2 L1058.0,228.0 L1059.0,225.7 L1060.0,223.4 L1061.0,221.1 L1062.0,218.9 L1063.0,216.6 L1064.0,214.3 L1065.0,212.1 L1066.0,209.8 L1067.0,207.6 L1068.0,205.3 L1069.0,203.0 L1070.0,200.8 L1071.0,198.5 L1072.0,196.3 L1073.0,194.0 L1074.0,191.7 L1075.0,189.4 L1076.0,187.2 L1077.0,184.9 L1078.0,182.6 L1079.0,180.3 L1080.0,178.0 L1081.0,175.7 L1082.0,173.3 L1083.0,171.0 L1084.0,168.7 L1085.0,166.3 L1086.0,163.9 L1087.0,161.6 L1088.0,159.2 L1089.0,156.8 L1090.0,154.4 L1091.0,151.9 L1092.0,149.5 L1093.0,147.0 L1094.0,144.5 L1095.0,142.1 L1096.0,139.5 L1097.0,137.0 L1098.0,134.5 L1099.0,131.9 L1100.0,129.3 L1101.0,126.7 L1102.0,124.1 L1103.0,121.4 L1104.0,118.8 L1105.0,116.1 L1106.0,113.4 L1107.0,110.7 L1108.0,107.9 L1109.0,105.2 L1110.0,102.5 L1111.0,99.7 L1112.0,97.0 L1113.0,94.3 L1114.0,91.5 L1115.0,88.8 L1116.0,86.1 L1117.0,83.5 L1118.0,80.8 L1119.0,78.2 L1120.0,75.6 L1121.0,73.0 L1122.0,70.4 L1123.0,67.9 L1124.0,65.5 L1125.0,63.0 L1125.0,404.1 L1124.0,405.6 L1123.0,407.1 L1122.0,408.5 L1121.0,410.0 L1120.0,411.4 L1119.0,412.8 L1118.0,414.1 L1117.0,415.5 L1116.0,416.8 L1115.0,418.1 L1114.0,419.4 L1113.0,420.7 L1112.0,421.9 L1111.0,423.2 L1110.0,424.4 L1109.0,425.6 L1108.0,426.8 L1107.0,428.0 L1106.0,429.2 L1105.0,430.4 L1104.0,431.5 L1103.0,432.7 L1102.0,433.8 L1101.0,435.0 L1100.0,436.1 L1099.0,437.2 L1098.0,438.3 L1097.0,439.4 L1096.0,440.5 L1095.0,441.6 L1094.0,442.6 L1093.0,443.7 L1092.0,444.7 L1091.0,445.8 L1090.0,446.8 L1089.0,447.9 L1088.0,448.9 L1087.0,449.9 L1086.0,450.9 L1085.0,451.9 L1084.0,452.9 L1083.0,453.9 L1082.0,454.9 L1081.0,455.9 L1080.0,456.9 L1079.0,457.8 L1078.0,458.8 L1077.0,459.8 L1076.0,460.7 L1075.0,461.7 L1074.0,462.6 L1073.0,463.6 L1072.0,464.5 L1071.0,465.5 L1070.0,466.4 L1069.0,467.3 L1068.0,468.3 L1067.0,469.2 L1066.0,470.1 L1065.0,471.0 L1064.0,471.9 L1063.0,472.9 L1062.0,473.8 L1061.0,474.7 L1060.0,475.6 L1059.0,476.5 L1058.0,477.4 L1057.0,478.3 L1056.0,479.2 L1055.0,480.2 L1054.0,481.1 L1053.0,482.0 L1052.0,482.9 L1051.0,483.8 L1050.0,484.7 L1049.0,485.6 L1048.0,486.5 L1047.0,487.5 L1046.0,488.4 L1045.0,489.3 L1044.0,490.2 L1043.0,491.1 L1042.0,492.1 L1041.0,493.0 L1040.0,493.9 L1039.0,494.8 L1038.0,495.8 L1037.0,496.7 L1036.0,497.6 L1035.0,498.6 L1034.0,499.5 L1033.0,500.4 L1032.0,501.4 L1031.0,502.3 L1030.0,503.2 L1029.0,504.1 L1028.0,505.0 L1027.0,505.8 L1026.0,506.7 L1025.0,507.6 L1024.0,508.4 L1023.0,509.3 L1022.0,510.1 L1021.0,510.9 L1020.0,511.7 L1019.0,512.6 L1018.0,513.4 L1017.0,514.2 L1016.0,514.9 L1015.0,515.7 L1014.0,516.5 L1013.0,517.3 L1012.0,518.0 L1011.0,518.8 L1010.0,519.5 L1009.0,520.3 L1008.0,521.0 L1007.0,521.7 L1006.0,522.5 L1005.0,523.2 L1004.0,523.9 L1003.0,524.6 L1002.0,525.3 L1001.0,526.0 L1000.0,526.7 L999.0,527.4 L998.0,528.1 L997.0,528.7 L996.0,529.4 L995.0,530.1 L994.0,530.7 L993.0,531.4 L992.0,532.1 L991.0,532.7 L990.0,533.4 L989.0,534.0 L988.0,534.6 L987.0,535.3 L986.0,535.9 L985.0,536.5 L984.0,537.2 L983.0,537.8 L982.0,538.4 L981.0,539.0 L980.0,539.6 L979.0,540.3 L978.0,540.9 L977.0,541.5 L976.0,542.1 L975.0,542.7 L974.0,543.3 L973.0,543.9 L972.0,544.5 L971.0,545.1 L970.0,545.7 L969.0,546.3 L968.0,546.9 L967.0,547.5 L966.0,548.1 L965.0,548.7 L964.0,549.3 L963.0,549.9 L962.0,550.5 L961.0,551.0 L960.0,551.6 L959.0,552.2 L958.0,552.8 L957.0,553.4 L956.0,554.0 L955.0,554.5 L954.0,555.1 L953.0,555.7 L952.0,556.3 L951.0,556.8 L950.0,557.4 L949.0,558.0 L948.0,558.6 L947.0,559.1 L946.0,559.7 L945.0,560.3 L944.0,560.8 L943.0,561.4 L942.0,562.0 L941.0,562.5 L940.0,563.1 L939.0,563.6 L938.0,564.2 L937.0,564.8 L936.0,565.3 L935.0,565.9 L934.0,566.4 L933.0,567.0 L932.0,567.5 L931.0,568.1 L930.0,568.7 L929.0,569.2 L928.0,569.8 L927.0,570.3 L926.0,570.9 L925.0,571.4 L924.0,572.0 L923.0,572.5 L922.0,573.1 L921.0,573.6 L920.0,574.2 L919.0,574.7 L918.0,575.2 L917.0,575.8 L916.0,576.3 L915.0,576.9 L914.0,577.4 L913.0,578.0 L912.0,578.5 L911.0,579.1 L910.0,579.6 L909.0,580.1 L908.0,580.7 L907.0,581.2 L906.0,581.8 L905.0,582.3 L904.0,582.8 L903.0,583.4 L902.0,583.9 L901.0,584.5 L900.0,585.0 L899.0,585.5 L898.0,586.1 L897.0,586.6 L896.0,587.2 L895.0,587.7 L894.0,588.2 L893.0,588.8 L892.0,589.3 L891.0,589.9 L890.0,590.4 L889.0,590.9 L888.0,591.5 L887.0,592.0 L886.0,592.6 L885.0,593.1 L884.0,593.6 L883.0,594.2 L882.0,594.7 L881.0,595.2 L880.0,595.8 L879.0,596.3 L878.0,596.9 L877.0,597.4 L876.0,597.9 L875.0,598.5 L874.0,599.0 L873.0,599.5 L872.0,600.1 L871.0,600.6 L870.0,601.2 L869.0,601.7 L868.0,602.2 L867.0,602.8 L866.0,603.3 L865.0,603.8 L864.0,604.4 L863.0,604.9 L862.0,605.4 L861.0,606.0 L860.0,606.5 L859.0,607.0 L858.0,607.6 L857.0,608.1 L856.0,608.6 L855.0,609.2 L854.0,609.7 L853.0,610.2 L852.0,610.8 L851.0,611.3 L850.0,611.8 L849.0,612.4 L848.0,612.9 L847.0,613.4 L846.0,613.9 L845.0,614.5 L844.0,615.0 L843.0,615.5 L842.0,616.0 L841.0,616.6 L840.0,617.1 L839.0,617.6 L838.0,618.1 L837.0,618.6 L836.0,619.2 L835.0,619.7 L834.0,620.2 L833.0,620.7 L832.0,621.2 L831.0,621.8 L830.0,622.3 L829.0,622.8 L828.0,623.3 L827.0,623.8 L826.0,624.3 L825.0,624.8 L824.0,625.4 L823.0,625.9 L822.0,626.4 L821.0,626.9 L820.0,627.4 L819.0,627.9 L818.0,628.5 L817.0,629.0 L816.0,629.6 L815.0,630.1 L814.0,630.7 L813.0,631.2 L812.0,631.8 L811.0,632.4 L810.0,633.0 L809.0,633.7 L808.0,634.3 L807.0,635.0 L806.0,635.7 L805.0,636.4 L804.0,637.1 L803.0,637.8 L802.0,638.6 L801.0,639.4 L800.0,640.2 L799.0,641.0 L798.0,641.9 L797.0,642.8 L796.0,643.7 L795.0,644.7 L794.0,645.7 L793.0,646.7 L792.0,647.8 L791.0,648.8 L790.0,650.0 L789.0,651.1 L788.0,652.3 L787.0,653.6 L786.0,654.8 L785.0,656.1 L784.0,657.4 L783.0,658.8 L782.0,660.1 L781.0,661.5 L780.0,662.9 L779.0,664.3 L778.0,665.7 L777.0,667.2 L776.0,668.6 L775.0,670.0 L774.0,671.5 L773.0,672.9 L772.0,674.4 L771.0,675.8 L770.0,677.2 L769.0,678.6 L768.0,680.1 L767.0,681.4 L766.0,682.8 L765.0,684.2 L764.0,685.5 L763.0,686.8 L762.0,688.1 L761.0,689.4 L760.0,690.6 L759.0,691.8 L758.0,692.9 L757.0,694.0 L756.0,695.1 L755.0,696.2 L754.0,697.1 L753.0,698.1 L752.0,699.0 L751.0,699.8 L750.0,700.7 L749.0,701.4 L748.0,702.2 L747.0,702.9 L746.0,703.5 L745.0,704.2 L744.0,704.7 L743.0,705.3 L742.0,705.8 L741.0,706.3 L740.0,706.8 L739.0,707.2 L738.0,707.6 L737.0,708.0 L736.0,708.3 L735.0,708.6 L734.0,708.9 L733.0,709.2 L732.0,709.4 L731.0,709.7 L730.0,709.9 L729.0,710.0 L728.0,710.2 L727.0,710.3 L726.0,710.5 L725.0,710.6 L724.0,710.7 L723.0,710.7 L722.0,710.8 L721.0,710.8 L720.0,710.9 L719.0,710.9 L718.0,710.9 L717.0,710.9 L716.0,711.0 L715.0,711.0 L714.0,710.9 L713.0,710.9 L712.0,710.9 L711.0,710.9 L710.0,710.9 L709.0,710.9 L708.0,710.8 L707.0,710.8 L706.0,710.8 L705.0,711.0 Z" fill="#982e00" fill-opacity="0.200" stroke="#982e00" stroke-opacity="0.200" stroke-width="1.74" stroke-linejoin="round"/>
<path d="M759.3,711.0 L760.3,710.8 L761.3,710.7 L762.3,710.5 L763.3,710.3 L764.3,710.0 L765.3,709.5 L766.3,709.1 L767.3,708.5 L768.3,707.9 L769.3,707.1 L770.3,706.4 L771.3,705.5 L772.3,704.5 L773.3,703.5 L774.3,702.4 L775.3,701.3 L776.3,700.0 L777.3,698.7 L778.3,697.3 L779.3,695.9 L780.3,694.3 L781.3,692.7 L782.3,691.0 L783.3,689.3 L784.3,687.5 L785.3,685.6 L786.4,683.6 L787.4,681.6 L788.4,679.6 L789.4,677.5 L790.4,675.3 L791.4,673.2 L792.4,671.1 L793.4,669.0 L794.4,666.9 L795.4,664.8 L796.4,662.8 L797.4,660.8 L798.4,658.9 L799.4,657.0 L800.4,655.3 L801.4,653.6 L802.4,652.0 L803.4,650.5 L804.4,649.0 L805.4,647.6 L806.4,646.2 L807.4,644.9 L808.4,643.6 L809.4,642.3 L810.4,641.0 L811.4,639.7 L812.4,638.5 L813.4,637.2 L814.4,636.0 L815.4,634.8 L816.4,633.6 L817.4,632.4 L818.4,631.3 L819.4,630.1 L820.4,629.0 L821.4,627.9 L822.4,626.8 L823.4,625.7 L824.4,624.6 L825.4,623.5 L826.4,622.5 L827.4,621.4 L828.4,620.4 L829.4,619.4 L830.4,618.4 L831.4,617.4 L832.4,616.4 L833.4,615.4 L834.4,614.4 L835.4,613.5 L836.4,612.5 L837.4,611.6 L838.5,610.7 L839.5,609.8 L840.5,608.9 L841.5,608.0 L842.5,607.1 L843.5,606.2 L844.5,605.3 L845.5,604.4 L846.5,603.6 L847.5,602.7 L848.5,601.9 L849.5,601.0 L850.5,600.2 L851.5,599.4 L852.5,598.6 L853.5,597.8 L854.5,597.0 L855.5,596.2 L856.5,595.4 L857.5,594.6 L858.5,593.8 L859.5,593.0 L860.5,592.2 L861.5,591.5 L862.5,590.7 L863.5,589.9 L864.5,589.2 L865.5,588.4 L866.5,587.6 L867.5,586.9 L868.5,586.1 L869.5,585.4 L870.5,584.6 L871.5,583.9 L872.5,583.1 L873.5,582.4 L874.5,581.7 L875.5,580.9 L876.5,580.2 L877.5,579.4 L878.5,578.7 L879.5,578.0 L880.5,577.2 L881.5,576.5 L882.5,575.7 L883.5,575.0 L884.5,574.2 L885.5,573.5 L886.5,572.7 L887.5,572.0 L888.5,571.2 L889.5,570.5 L890.6,569.7 L891.6,569.0 L892.6,568.2 L893.6,567.4 L894.6,566.6 L895.6,565.9 L896.6,565.1 L897.6,564.3 L898.6,563.5 L899.6,562.7 L900.6,562.0 L901.6,561.2 L902.6,560.4 L903.6,559.6 L904.6,558.8 L905.6,558.0 L906.6,557.2 L907.6,556.4 L908.6,555.5 L909.6,554.7 L910.6,553.9 L911.6,553.1 L912.6,552.3 L913.6,551.4 L914.6,550.6 L915.6,549.8 L916.6,548.9 L917.6,548.1 L918.6,547.2 L919.6,546.4 L920.6,545.5 L921.6,544.7 L922.6,543.8 L923.6,543.0 L924.6,542.1 L925.6,541.3 L926.6,540.4 L927.6,539.5 L928.6,538.6 L929.6,537.8 L930.6,536.9 L931.6,536.0 L932.6,535.1 L933.6,534.2 L934.6,533.3 L935.6,532.4 L936.6,531.5 L937.6,530.6 L938.6,529.7 L939.6,528.8 L940.6,527.9 L941.6,527.0 L942.7,526.1 L943.7,525.2 L944.7,524.2 L945.7,523.3 L946.7,522.4 L947.7,521.5 L948.7,520.5 L949.7,519.6 L950.7,518.6 L951.7,517.7 L952.7,516.7 L953.7,515.8 L954.7,514.8 L955.7,513.9 L956.7,512.9 L957.7,512.0 L958.7,511.0 L959.7,510.0 L960.7,509.0 L961.7,508.1 L962.7,507.1 L963.7,506.1 L964.7,505.1 L965.7,504.1 L966.7,503.1 L967.7,502.1 L968.7,501.1 L969.7,500.1 L970.7,499.1 L971.7,498.1 L972.7,497.1 L973.7,496.1 L974.7,495.1 L975.7,494.1 L976.7,493.0 L977.7,492.0 L978.7,491.0 L979.7,489.9 L980.7,488.9 L981.7,487.9 L982.7,486.8 L983.7,485.8 L984.7,484.7 L985.7,483.7 L986.7,482.6 L987.7,481.5 L988.7,480.5 L989.7,479.4 L990.7,478.3 L991.7,477.3 L992.7,476.2 L993.7,475.1 L994.8,474.0 L995.8,472.9 L996.8,471.8 L997.8,470.7 L998.8,469.7 L999.8,468.6 L1000.8,467.4 L1001.8,466.3 L1002.8,465.2 L1003.8,464.1 L1004.8,463.0 L1005.8,461.9 L1006.8,460.8 L1007.8,459.6 L1008.8,458.5 L1009.8,457.4 L1010.8,456.2 L1011.8,455.1 L1012.8,453.9 L1013.8,452.8 L1014.8,451.6 L1015.8,450.5 L1016.8,449.3 L1017.8,448.2 L1018.8,447.0 L1019.8,445.8 L1020.8,444.7 L1021.8,443.5 L1022.8,442.3 L1023.8,441.1 L1024.8,440.0 L1025.8,438.8 L1026.8,437.6 L1027.8,436.4 L1028.8,435.2 L1029.8,434.0 L1030.8,432.8 L1031.8,431.6 L1032.8,430.4 L1033.8,429.1 L1034.8,427.9 L1035.8,426.7 L1036.8,425.5 L1037.8,424.2 L1038.8,423.0 L1039.8,421.8 L1040.8,420.5 L1041.8,419.3 L1042.8,418.0 L1043.8,416.8 L1044.8,415.5 L1045.8,414.3 L1046.9,413.0 L1047.9,411.8 L1048.9,410.5 L1049.9,409.2 L1050.9,407.9 L1051.9,406.7 L1052.9,405.4 L1053.9,404.1 L1054.9,402.8 L1055.9,401.5 L1056.9,400.2 L1057.9,398.9 L1058.9,397.6 L1059.9,396.2 L1060.9,394.9 L1061.9,393.6 L1062.9,392.3 L1063.9,390.9 L1064.9,389.6 L1065.9,388.2 L1066.9,386.9 L1067.9,385.5 L1068.9,384.1 L1069.9,382.7 L1070.9,381.3 L1071.9,380.0 L1072.9,378.6 L1073.9,377.2 L1074.9,375.7 L1075.9,374.3 L1076.9,372.9 L1077.9,371.5 L1078.9,370.0 L1079.9,368.6 L1080.9,367.1 L1081.9,365.6 L1082.9,364.2 L1083.9,362.7 L1084.9,361.2 L1085.9,359.7 L1086.9,358.2 L1087.9,356.7 L1088.9,355.2 L1089.9,353.6 L1090.9,352.1 L1091.9,350.5 L1092.9,349.0 L1093.9,347.4 L1094.9,345.8 L1095.9,344.2 L1096.9,342.6 L1097.9,341.0 L1099.0,339.4 L1100.0,337.8 L1101.0,336.2 L1102.0,334.5 L1103.0,332.9 L1104.0,331.2 L1105.0,329.5 L1106.0,327.8 L1107.0,326.1 L1108.0,324.4 L1109.0,322.7 L1110.0,321.0 L1111.0,319.3 L1112.0,317.6 L1113.0,316.0 L1114.0,314.4 L1115.0,312.9 L1116.0,311.4 L1117.0,310.1 L1118.0,308.8 L1119.0,307.5 L1120.0,306.4 L1121.0,305.4 L1122.0,304.6 L1123.0,303.8 L1124.0,303.2 L1125.0,302.8 L1125.0,505.4 L1124.0,506.5 L1123.0,507.6 L1122.0,508.7 L1121.0,509.8 L1120.0,510.8 L1119.0,511.9 L1118.0,512.9 L1117.0,514.0 L1116.0,515.0 L1115.0,516.0 L1114.0,517.1 L1113.0,518.1 L1112.0,519.1 L1111.0,520.1 L1110.0,521.0 L1109.0,522.0 L1108.0,523.0 L1107.0,523.9 L1106.0,524.9 L1105.0,525.8 L1104.0,526.8 L1103.0,527.7 L1102.0,528.6 L1101.0,529.5 L1100.0,530.4 L1099.0,531.3 L1097.9,532.2 L1096.9,533.1 L1095.9,533.9 L1094.9,534.8 L1093.9,535.6 L1092.9,536.5 L1091.9,537.3 L1090.9,538.2 L1089.9,539.0 L1088.9,539.8 L1087.9,540.6 L1086.9,541.4 L1085.9,542.2 L1084.9,543.0 L1083.9,543.8 L1082.9,544.6 L1081.9,545.3 L1080.9,546.1 L1079.9,546.9 L1078.9,547.6 L1077.9,548.3 L1076.9,549.1 L1075.9,549.8 L1074.9,550.5 L1073.9,551.3 L1072.9,552.0 L1071.9,552.7 L1070.9,553.4 L1069.9,554.1 L1068.9,554.7 L1067.9,555.4 L1066.9,556.1 L1065.9,556.8 L1064.9,557.4 L1063.9,558.1 L1062.9,558.7 L1061.9,559.4 L1060.9,560.0 L1059.9,560.7 L1058.9,561.3 L1057.9,561.9 L1056.9,562.5 L1055.9,563.1 L1054.9,563.7 L1053.9,564.4 L1052.9,564.9 L1051.9,565.5 L1050.9,566.1 L1049.9,566.7 L1048.9,567.3 L1047.9,567.9 L1046.9,568.4 L1045.8,569.0 L1044.8,569.6 L1043.8,570.1 L1042.8,570.7 L1041.8,571.2 L1040.8,571.7 L1039.8,572.3 L1038.8,572.8 L1037.8,573.3 L1036.8,573.9 L1035.8,574.4 L1034.8,574.9 L1033.8,575.4 L1032.8,575.9 L1031.8,576.4 L1030.8,576.9 L1029.8,577.4 L1028.8,577.9 L1027.8,578.4 L1026.8,578.9 L1025.8,579.4 L1024.8,579.8 L1023.8,580.3 L1022.8,580.8 L1021.8,581.3 L1020.8,581.7 L1019.8,582.2 L1018.8,582.6 L1017.8,583.1 L1016.8,583.6 L1015.8,584.0 L1014.8,584.4 L1013.8,584.9 L1012.8,585.3 L1011.8,585.8 L1010.8,586.2 L1009.8,586.6 L1008.8,587.1 L1007.8,587.5 L1006.8,587.9 L1005.8,588.4 L1004.8,588.8 L1003.8,589.2 L1002.8,589.6 L1001.8,590.0 L1000.8,590.4 L999.8,590.9 L998.8,591.3 L997.8,591.7 L996.8,592.1 L995.8,592.5 L994.8,592.9 L993.7,593.3 L992.7,593.7 L991.7,594.1 L990.7,594.5 L989.7,594.9 L988.7,595.3 L987.7,595.7 L986.7,596.0 L985.7,596.4 L984.7,596.8 L983.7,597.2 L982.7,597.6 L981.7,598.0 L980.7,598.4 L979.7,598.7 L978.7,599.1 L977.7,599.5 L976.7,599.9 L975.7,600.3 L974.7,600.7 L973.7,601.0 L972.7,601.4 L971.7,601.8 L970.7,602.2 L969.7,602.6 L968.7,602.9 L967.7,603.3 L966.7,603.7 L965.7,604.1 L964.7,604.4 L963.7,604.8 L962.7,605.2 L961.7,605.6 L960.7,606.0 L959.7,606.3 L958.7,606.7 L957.7,607.1 L956.7,607.5 L955.7,607.9 L954.7,608.2 L953.7,608.6 L952.7,609.0 L951.7,609.4 L950.7,609.8 L949.7,610.2 L948.7,610.6 L947.7,611.0 L946.7,611.3 L945.7,611.7 L944.7,612.1 L943.7,612.5 L942.7,612.9 L941.6,613.3 L940.6,613.7 L939.6,614.1 L938.6,614.5 L937.6,614.9 L936.6,615.3 L935.6,615.7 L934.6,616.1 L933.6,616.5 L932.6,617.0 L931.6,617.4 L930.6,617.8 L929.6,618.2 L928.6,618.6 L927.6,619.0 L926.6,619.5 L925.6,619.9 L924.6,620.3 L923.6,620.8 L922.6,621.2 L921.6,621.6 L920.6,622.1 L919.6,622.5 L918.6,623.0 L917.6,623.4 L916.6,623.9 L915.6,624.3 L914.6,624.8 L913.6,625.2 L912.6,625.7 L911.6,626.2 L910.6,626.6 L909.6,627.1 L908.6,627.6 L907.6,628.0 L906.6,628.5 L905.6,629.0 L904.6,629.5 L903.6,630.0 L902.6,630.4 L901.6,630.9 L900.6,631.4 L899.6,631.9 L898.6,632.4 L897.6,632.8 L896.6,633.3 L895.6,633.8 L894.6,634.3 L893.6,634.8 L892.6,635.2 L891.6,635.7 L890.6,636.2 L889.5,636.6 L888.5,637.1 L887.5,637.6 L886.5,638.0 L885.5,638.5 L884.5,638.9 L883.5,639.4 L882.5,639.8 L881.5,640.3 L880.5,640.7 L879.5,641.1 L878.5,641.6 L877.5,642.0 L876.5,642.4 L875.5,642.8 L874.5,643.2 L873.5,643.6 L872.5,644.0 L871.5,644.4 L870.5,644.8 L869.5,645.1 L868.5,645.5 L867.5,645.9 L866.5,646.2 L865.5,646.5 L864.5,646.9 L863.5,647.2 L862.5,647.5 L861.5,647.8 L860.5,648.1 L859.5,648.4 L858.5,648.7 L857.5,648.9 L856.5,649.2 L855.5,649.5 L854.5,649.7 L853.5,649.9 L852.5,650.1 L851.5,650.4 L850.5,650.6 L849.5,650.8 L848.5,651.0 L847.5,651.2 L846.5,651.4 L845.5,651.6 L844.5,651.8 L843.5,652.0 L842.5,652.2 L841.5,652.4 L840.5,652.6 L839.5,652.8 L838.5,653.0 L837.4,653.2 L836.4,653.4 L835.4,653.7 L834.4,653.9 L833.4,654.2 L832.4,654.4 L831.4,654.7 L830.4,655.0 L829.4,655.3 L828.4,655.6 L827.4,655.9 L826.4,656.3 L825.4,656.7 L824.4,657.0 L823.4,657.4 L822.4,657.8 L821.4,658.3 L820.4,658.7 L819.4,659.2 L818.4,659.7 L817.4,660.2 L816.4,660.8 L815.4,661.4 L814.4,662.0 L813.4,662.6 L812.4,663.3 L811.4,664.0 L810.4,664.7 L809.4,665.4 L808.4,666.2 L807.4,667.0 L806.4,667.9 L805.4,668.7 L804.4,669.6 L803.4,670.6 L802.4,671.6 L801.4,672.6 L800.4,673.6 L799.4,674.7 L798.4,675.7 L797.4,676.9 L796.4,678.0 L795.4,679.2 L794.4,680.4 L793.4,681.6 L792.4,682.9 L791.4,684.2 L790.4,685.5 L789.4,686.8 L788.4,688.2 L787.4,689.6 L786.4,691.0 L785.3,692.4 L784.3,693.8 L783.3,695.3 L782.3,696.7 L781.3,698.1 L780.3,699.5 L779.3,700.9 L778.3,702.2 L777.3,703.5 L776.3,704.7 L775.3,705.9 L774.3,707.0 L773.3,708.0 L772.3,709.0 L771.3,709.9 L770.3,710.7 L769.3,711.0 L768.3,711.0 L767.3,711.0 L766.3,711.0 L765.3,711.0 L764.3,711.0 L763.3,711.0 L762.3,711.0 L761.3,711.0 L760.3,711.0 L759.3,711.0 Z" fill="#58001e" fill-opacity="0.200" stroke="#58001e" stroke-opacity="0.200" stroke-width="1.74" stroke-linejoin="round"/>
<path d="M647.80,711.00 L700.0,711.0 L701.0,711.0 L702.0,711.0 L703.0,711.0 L704.0,711.0 L705.0,710.9 L706.0,710.8 L707.0,710.7 L708.0,710.7 L709.0,710.6 L710.0,710.5 L711.0,710.3 L712.0,710.2 L713.0,710.1 L714.0,709.9 L715.0,709.8 L716.0,709.6 L717.0,709.5 L718.0,709.3 L719.0,709.1 L720.0,708.9 L721.0,708.6 L722.0,708.4 L723.0,708.2 L724.0,707.9 L725.0,707.6 L726.0,707.3 L727.0,707.0 L728.0,706.7 L729.0,706.3 L730.0,706.0 L731.0,705.6 L732.0,705.2 L733.0,704.8 L734.0,704.4 L735.0,703.9 L736.0,703.5 L737.0,703.0 L738.0,702.5 L739.0,701.9 L740.0,701.4 L741.0,700.8 L742.0,700.2 L743.0,699.6 L744.0,699.0 L745.0,698.3 L746.0,697.6 L747.0,696.9 L748.0,696.2 L749.0,695.4 L750.0,694.6 L751.0,693.8 L752.0,693.0 L753.0,692.1 L754.0,691.2 L755.0,690.3 L756.0,689.3 L757.0,688.4 L758.0,687.4 L759.0,686.3 L760.0,685.3 L761.0,684.2 L762.0,683.0 L763.0,681.9 L764.0,680.7 L765.0,679.5 L766.0,678.2 L767.0,676.9 L768.0,675.6 L769.0,674.3 L770.0,672.9 L771.0,671.6 L772.0,670.2 L773.0,668.7 L774.0,667.3 L775.0,665.8 L776.0,664.4 L777.0,662.9 L778.0,661.4 L779.0,659.9 L780.0,658.4 L781.0,656.8 L782.0,655.3 L783.0,653.8 L784.0,652.2 L785.0,650.7 L786.0,649.2 L787.0,647.6 L788.0,646.1 L789.0,644.6 L790.0,643.0 L791.0,641.5 L792.0,640.0 L793.0,638.5 L794.0,637.1 L795.0,635.6 L796.0,634.2 L797.0,632.7 L798.0,631.3 L799.0,629.9 L800.0,628.6 L801.0,627.3 L802.0,625.9 L803.0,624.7 L804.0,623.4 L805.0,622.2 L806.0,621.0 L807.0,619.8 L808.0,618.7 L809.0,617.6 L810.0,616.5 L811.0,615.4 L812.0,614.4 L813.0,613.4 L814.0,612.4 L815.0,611.4 L816.0,610.5 L817.0,609.5 L818.0,608.6 L819.0,607.7 L820.0,606.9 L821.0,606.0 L822.0,605.2 L823.0,604.3 L824.0,603.5 L825.0,602.7 L826.0,601.9 L827.0,601.2 L828.0,600.4 L829.0,599.6 L830.0,598.9 L831.0,598.2 L832.0,597.5 L833.0,596.8 L834.0,596.1 L835.0,595.4 L836.0,594.7 L837.0,594.0 L838.0,593.3 L839.0,592.7 L840.0,592.0 L841.0,591.4 L842.0,590.7 L843.0,590.1 L844.0,589.4 L845.0,588.8 L846.0,588.2 L847.0,587.5 L848.0,586.9 L849.0,586.3 L850.0,585.7 L851.0,585.1 L852.0,584.5 L853.0,583.9 L854.0,583.2 L855.0,582.6 L856.0,582.0 L857.0,581.4 L858.0,580.8 L859.0,580.2 L860.0,579.6 L861.0,579.0 L862.0,578.4 L863.0,577.7 L864.0,577.1 L865.0,576.5 L866.0,575.9 L867.0,575.2 L868.0,574.6 L869.0,574.0 L870.0,573.3 L871.0,572.7 L872.0,572.0 L873.0,571.4 L874.0,570.7 L875.0,570.1 L876.0,569.4 L877.0,568.8 L878.0,568.1 L879.0,567.5 L880.0,566.8 L881.0,566.1 L882.0,565.5 L883.0,564.8 L884.0,564.1 L885.0,563.4 L886.0,562.8 L887.0,562.1 L888.0,561.4 L889.0,560.7 L890.0,560.0 L891.0,559.3 L892.0,558.6 L893.0,557.9 L894.0,557.2 L895.0,556.5 L896.0,555.7 L897.0,555.0 L898.0,554.3 L899.0,553.6 L900.0,552.9 L901.0,552.1 L902.0,551.4 L903.0,550.6 L904.0,549.9 L905.0,549.2 L906.0,548.4 L907.0,547.7 L908.0,546.9 L909.0,546.1 L910.0,545.4 L911.0,544.6 L912.0,543.8 L913.0,543.0 L914.0,542.3 L915.0,541.5 L916.0,540.7 L917.0,539.9 L918.0,539.1 L919.0,538.3 L920.0,537.5 L921.0,536.7 L922.0,535.9 L923.0,535.1 L924.0,534.2 L925.0,533.4 L926.0,532.6 L927.0,531.8 L928.0,530.9 L929.0,530.1 L930.0,529.2 L931.0,528.4 L932.0,527.5 L933.0,526.7 L934.0,525.8 L935.0,524.9 L936.0,524.1 L937.0,523.2 L938.0,522.3 L939.0,521.4 L940.0,520.6 L941.0,519.7 L942.0,518.8 L943.0,517.9 L944.0,517.0 L945.0,516.1 L946.0,515.2 L947.0,514.3 L948.0,513.4 L949.0,512.4 L950.0,511.5 L951.0,510.6 L952.0,509.7 L953.0,508.7 L954.0,507.8 L955.0,506.9 L956.0,505.9 L957.0,505.0 L958.0,504.0 L959.0,503.1 L960.0,502.1 L961.0,501.2 L962.0,500.2 L963.0,499.3 L964.0,498.3 L965.0,497.3 L966.0,496.3 L967.0,495.4 L968.0,494.4 L969.0,493.4 L970.0,492.4 L971.0,491.4 L972.0,490.4 L973.0,489.5 L974.0,488.5 L975.0,487.5 L976.0,486.5 L977.0,485.4 L978.0,484.4 L979.0,483.4 L980.0,482.4 L981.0,481.4 L982.0,480.4 L983.0,479.4 L984.0,478.3 L985.0,477.3 L986.0,476.3 L987.0,475.2 L988.0,474.2 L989.0,473.2 L990.0,472.1 L991.0,471.1 L992.0,470.0 L993.0,469.0 L994.0,467.9 L995.0,466.9 L996.0,465.8 L997.0,464.8 L998.0,463.7 L999.0,462.6 L1000.0,461.5 L1001.0,460.5 L1002.0,459.4 L1003.0,458.3 L1004.0,457.2 L1005.0,456.1 L1006.0,455.0 L1007.0,453.9 L1008.0,452.8 L1009.0,451.6 L1010.0,450.5 L1011.0,449.4 L1012.0,448.2 L1013.0,447.1 L1014.0,446.0 L1015.0,444.8 L1016.0,443.6 L1017.0,442.5 L1018.0,441.3 L1019.0,440.1 L1020.0,438.9 L1021.0,437.7 L1022.0,436.5 L1023.0,435.3 L1024.0,434.1 L1025.0,432.9 L1026.0,431.6 L1027.0,430.4 L1028.0,429.1 L1029.0,427.9 L1030.0,426.6 L1031.0,425.3 L1032.0,424.1 L1033.0,422.8 L1034.0,421.5 L1035.0,420.2 L1036.0,418.8 L1037.0,417.5 L1038.0,416.2 L1039.0,414.8 L1040.0,413.5 L1041.0,412.1 L1042.0,410.7 L1043.0,409.3 L1044.0,407.9 L1045.0,406.5 L1046.0,405.1 L1047.0,403.7 L1048.0,402.3 L1049.0,400.8 L1050.0,399.4 L1051.0,397.9 L1052.0,396.4 L1053.0,394.9 L1054.0,393.4 L1055.0,391.9 L1056.0,390.4 L1057.0,388.9 L1058.0,387.4 L1059.0,385.9 L1060.0,384.4 L1061.0,382.8 L1062.0,381.3 L1063.0,379.7 L1064.0,378.2 L1065.0,376.6 L1066.0,375.0 L1067.0,373.5 L1068.0,371.9 L1069.0,370.3 L1070.0,368.7 L1071.0,367.1 L1072.0,365.5 L1073.0,364.0 L1074.0,362.4 L1075.0,360.8 L1076.0,359.2 L1077.0,357.6 L1078.0,356.0 L1079.0,354.3 L1080.0,352.7 L1081.0,351.1 L1082.0,349.5 L1083.0,347.9 L1084.0,346.3 L1085.0,344.7 L1086.0,343.1 L1087.0,341.5 L1088.0,339.9 L1089.0,338.3 L1090.0,336.7 L1091.0,335.1 L1092.0,333.5 L1093.0,331.9 L1094.0,330.2 L1095.0,328.6 L1096.0,327.0 L1097.0,325.4 L1098.0,323.8 L1099.0,322.2 L1100.0,320.5 L1101.0,318.9 L1102.0,317.2 L1103.0,315.5 L1104.0,313.8 L1105.0,312.1 L1106.0,310.4 L1107.0,308.7 L1108.0,306.9 L1109.0,305.1 L1110.0,303.3 L1111.0,301.5 L1112.0,299.7 L1113.0,297.8 L1114.0,295.9 L1115.0,294.0 L1116.0,292.0 L1117.0,290.1 L1118.0,288.1 L1119.0,286.0 L1120.0,283.9 L1121.0,281.8 L1122.0,279.7 L1123.0,277.5 L1124.0,275.3 L1125.0,273.1" fill="none" stroke="#cc6a32" stroke-width="3.48" stroke-dasharray="12.9 5.57" stroke-linecap="butt" stroke-linejoin="round"/>
<path d="M647.80,711.00 L700.0,711.0 L701.0,711.0 L702.0,711.0 L703.0,711.0 L704.0,711.0 L705.0,710.9 L706.0,710.8 L707.0,710.7 L708.0,710.6 L709.0,710.4 L710.0,710.3 L711.0,710.2 L712.0,710.0 L713.0,709.9 L714.0,709.7 L715.0,709.5 L716.0,709.4 L717.0,709.2 L718.0,709.0 L719.0,708.8 L720.0,708.6 L721.0,708.3 L722.0,708.1 L723.0,707.9 L724.0,707.6 L725.0,707.3 L726.0,707.0 L727.0,706.7 L728.0,706.4 L729.0,706.1 L730.0,705.7 L731.0,705.4 L732.0,705.0 L733.0,704.6 L734.0,704.2 L735.0,703.7 L736.0,703.3 L737.0,702.8 L738.0,702.3 L739.0,701.8 L740.0,701.3 L741.0,700.7 L742.0,700.1 L743.0,699.6 L744.0,698.9 L745.0,698.3 L746.0,697.6 L747.0,696.9 L748.0,696.2 L749.0,695.5 L750.0,694.7 L751.0,693.9 L752.0,693.1 L753.0,692.2 L754.0,691.4 L755.0,690.5 L756.0,689.5 L757.0,688.6 L758.0,687.6 L759.0,686.6 L760.0,685.5 L761.0,684.4 L762.0,683.3 L763.0,682.2 L764.0,681.0 L765.0,679.8 L766.0,678.5 L767.0,677.3 L768.0,676.0 L769.0,674.6 L770.0,673.3 L771.0,671.9 L772.0,670.5 L773.0,669.1 L774.0,667.6 L775.0,666.1 L776.0,664.7 L777.0,663.2 L778.0,661.7 L779.0,660.2 L780.0,658.6 L781.0,657.1 L782.0,655.5 L783.0,654.0 L784.0,652.5 L785.0,650.9 L786.0,649.4 L787.0,647.8 L788.0,646.3 L789.0,644.7 L790.0,643.2 L791.0,641.7 L792.0,640.1 L793.0,638.6 L794.0,637.2 L795.0,635.7 L796.0,634.2 L797.0,632.8 L798.0,631.3 L799.0,629.9 L800.0,628.6 L801.0,627.2 L802.0,625.9 L803.0,624.6 L804.0,623.3 L805.0,622.1 L806.0,620.8 L807.0,619.6 L808.0,618.5 L809.0,617.3 L810.0,616.2 L811.0,615.1 L812.0,614.1 L813.0,613.0 L814.0,612.0 L815.0,611.0 L816.0,610.0 L817.0,609.1 L818.0,608.1 L819.0,607.2 L820.0,606.3 L821.0,605.4 L822.0,604.6 L823.0,603.7 L824.0,602.9 L825.0,602.1 L826.0,601.3 L827.0,600.5 L828.0,599.8 L829.0,599.0 L830.0,598.3 L831.0,597.6 L832.0,596.9 L833.0,596.2 L834.0,595.5 L835.0,594.8 L836.0,594.1 L837.0,593.5 L838.0,592.8 L839.0,592.2 L840.0,591.6 L841.0,591.0 L842.0,590.3 L843.0,589.7 L844.0,589.1 L845.0,588.5 L846.0,588.0 L847.0,587.4 L848.0,586.8 L849.0,586.2 L850.0,585.6 L851.0,585.0 L852.0,584.5 L853.0,583.9 L854.0,583.3 L855.0,582.7 L856.0,582.2 L857.0,581.6 L858.0,581.0 L859.0,580.4 L860.0,579.8 L861.0,579.3 L862.0,578.7 L863.0,578.1 L864.0,577.5 L865.0,576.9 L866.0,576.2 L867.0,575.6 L868.0,575.0 L869.0,574.4 L870.0,573.8 L871.0,573.1 L872.0,572.5 L873.0,571.8 L874.0,571.2 L875.0,570.6 L876.0,569.9 L877.0,569.2 L878.0,568.6 L879.0,567.9 L880.0,567.2 L881.0,566.6 L882.0,565.9 L883.0,565.2 L884.0,564.5 L885.0,563.8 L886.0,563.1 L887.0,562.4 L888.0,561.7 L889.0,561.0 L890.0,560.3 L891.0,559.6 L892.0,558.9 L893.0,558.2 L894.0,557.4 L895.0,556.7 L896.0,556.0 L897.0,555.2 L898.0,554.5 L899.0,553.8 L900.0,553.0 L901.0,552.3 L902.0,551.5 L903.0,550.8 L904.0,550.0 L905.0,549.2 L906.0,548.5 L907.0,547.7 L908.0,546.9 L909.0,546.2 L910.0,545.4 L911.0,544.6 L912.0,543.8 L913.0,543.0 L914.0,542.2 L915.0,541.4 L916.0,540.6 L917.0,539.8 L918.0,539.0 L919.0,538.2 L920.0,537.4 L921.0,536.6 L922.0,535.8 L923.0,535.0 L924.0,534.1 L925.0,533.3 L926.0,532.5 L927.0,531.7 L928.0,530.8 L929.0,530.0 L930.0,529.2 L931.0,528.3 L932.0,527.5 L933.0,526.6 L934.0,525.8 L935.0,524.9 L936.0,524.1 L937.0,523.2 L938.0,522.3 L939.0,521.5 L940.0,520.6 L941.0,519.7 L942.0,518.9 L943.0,518.0 L944.0,517.1 L945.0,516.2 L946.0,515.4 L947.0,514.5 L948.0,513.6 L949.0,512.7 L950.0,511.8 L951.0,510.9 L952.0,510.0 L953.0,509.1 L954.0,508.2 L955.0,507.3 L956.0,506.4 L957.0,505.5 L958.0,504.5 L959.0,503.6 L960.0,502.7 L961.0,501.8 L962.0,500.9 L963.0,499.9 L964.0,499.0 L965.0,498.1 L966.0,497.1 L967.0,496.2 L968.0,495.3 L969.0,494.3 L970.0,493.4 L971.0,492.4 L972.0,491.5 L973.0,490.5 L974.0,489.5 L975.0,488.6 L976.0,487.6 L977.0,486.7 L978.0,485.7 L979.0,484.7 L980.0,483.7 L981.0,482.8 L982.0,481.8 L983.0,480.8 L984.0,479.8 L985.0,478.8 L986.0,477.9 L987.0,476.9 L988.0,475.9 L989.0,474.9 L990.0,473.9 L991.0,472.9 L992.0,471.9 L993.0,470.9 L994.0,469.9 L995.0,468.8 L996.0,467.8 L997.0,466.8 L998.0,465.8 L999.0,464.7 L1000.0,463.7 L1001.0,462.7 L1002.0,461.6 L1003.0,460.6 L1004.0,459.5 L1005.0,458.5 L1006.0,457.4 L1007.0,456.3 L1008.0,455.3 L1009.0,454.2 L1010.0,453.1 L1011.0,452.0 L1012.0,450.9 L1013.0,449.8 L1014.0,448.7 L1015.0,447.6 L1016.0,446.4 L1017.0,445.3 L1018.0,444.2 L1019.0,443.0 L1020.0,441.9 L1021.0,440.7 L1022.0,439.5 L1023.0,438.4 L1024.0,437.2 L1025.0,436.0 L1026.0,434.8 L1027.0,433.6 L1028.0,432.4 L1029.0,431.1 L1030.0,429.9 L1031.0,428.6 L1032.0,427.4 L1033.0,426.1 L1034.0,424.9 L1035.0,423.6 L1036.0,422.3 L1037.0,421.0 L1038.0,419.7 L1039.0,418.3 L1040.0,417.0 L1041.0,415.6 L1042.0,414.3 L1043.0,412.9 L1044.0,411.5 L1045.0,410.2 L1046.0,408.8 L1047.0,407.3 L1048.0,405.9 L1049.0,404.5 L1050.0,403.0 L1051.0,401.6 L1052.0,400.1 L1053.0,398.7 L1054.0,397.2 L1055.0,395.7 L1056.0,394.2 L1057.0,392.7 L1058.0,391.2 L1059.0,389.7 L1060.0,388.2 L1061.0,386.6 L1062.0,385.1 L1063.0,383.6 L1064.0,382.0 L1065.0,380.5 L1066.0,379.0 L1067.0,377.4 L1068.0,375.9 L1069.0,374.3 L1070.0,372.7 L1071.0,371.2 L1072.0,369.6 L1073.0,368.1 L1074.0,366.5 L1075.0,364.9 L1076.0,363.4 L1077.0,361.8 L1078.0,360.2 L1079.0,358.7 L1080.0,357.1 L1081.0,355.5 L1082.0,354.0 L1083.0,352.4 L1084.0,350.9 L1085.0,349.3 L1086.0,347.8 L1087.0,346.2 L1088.0,344.7 L1089.0,343.2 L1090.0,341.7 L1091.0,340.1 L1092.0,338.6 L1093.0,337.1 L1094.0,335.6 L1095.0,334.1 L1096.0,332.5 L1097.0,331.0 L1098.0,329.5 L1099.0,328.0 L1100.0,326.4 L1101.0,324.9 L1102.0,323.3 L1103.0,321.7 L1104.0,320.1 L1105.0,318.5 L1106.0,316.9 L1107.0,315.2 L1108.0,313.6 L1109.0,311.9 L1110.0,310.2 L1111.0,308.4 L1112.0,306.7 L1113.0,304.9 L1114.0,303.1 L1115.0,301.2 L1116.0,299.3 L1117.0,297.4 L1118.0,295.4 L1119.0,293.4 L1120.0,291.4 L1121.0,289.3 L1122.0,287.2 L1123.0,285.1 L1124.0,282.9 L1125.0,280.6" fill="none" stroke="#8a2e14" stroke-width="3.48" stroke-dasharray="3.48 5.74" stroke-linecap="butt" stroke-linejoin="round"/>
<path d="M647.80,711.00 L745.0,711.0 L746.0,711.0 L747.0,711.0 L748.0,711.0 L749.0,711.0 L750.0,711.0 L751.0,711.0 L752.0,711.0 L753.0,711.0 L754.0,711.0 L755.0,711.0 L756.0,711.0 L757.0,711.0 L758.0,711.0 L759.0,710.9 L760.0,710.3 L761.0,709.8 L762.0,709.1 L763.0,708.4 L764.0,707.7 L765.0,706.9 L766.0,706.1 L767.0,705.2 L768.0,704.3 L769.0,703.3 L770.0,702.3 L771.0,701.3 L772.0,700.2 L773.0,699.2 L774.0,698.0 L775.0,696.9 L776.0,695.7 L777.0,694.6 L778.0,693.4 L779.0,692.2 L780.0,690.9 L781.0,689.7 L782.0,688.4 L783.0,687.2 L784.0,685.9 L785.0,684.6 L786.0,683.4 L787.0,682.1 L788.0,680.8 L789.0,679.6 L790.0,678.3 L791.0,677.0 L792.0,675.8 L793.0,674.6 L794.0,673.3 L795.0,672.1 L796.0,670.9 L797.0,669.7 L798.0,668.5 L799.0,667.4 L800.0,666.3 L801.0,665.2 L802.0,664.1 L803.0,663.0 L804.0,662.0 L805.0,661.0 L806.0,660.0 L807.0,659.1 L808.0,658.1 L809.0,657.3 L810.0,656.4 L811.0,655.6 L812.0,654.7 L813.0,653.9 L814.0,653.2 L815.0,652.4 L816.0,651.7 L817.0,651.0 L818.0,650.3 L819.0,649.6 L820.0,649.0 L821.0,648.3 L822.0,647.7 L823.0,647.1 L824.0,646.5 L825.0,646.0 L826.0,645.4 L827.0,644.8 L828.0,644.3 L829.0,643.8 L830.0,643.2 L831.0,642.7 L832.0,642.2 L833.0,641.7 L834.0,641.2 L835.0,640.8 L836.0,640.3 L837.0,639.8 L838.0,639.3 L839.0,638.9 L840.0,638.4 L841.0,637.9 L842.0,637.4 L843.0,637.0 L844.0,636.5 L845.0,636.0 L846.0,635.6 L847.0,635.1 L848.0,634.6 L849.0,634.1 L850.0,633.6 L851.0,633.2 L852.0,632.7 L853.0,632.2 L854.0,631.7 L855.0,631.2 L856.0,630.7 L857.0,630.2 L858.0,629.8 L859.0,629.3 L860.0,628.8 L861.0,628.3 L862.0,627.8 L863.0,627.3 L864.0,626.8 L865.0,626.3 L866.0,625.8 L867.0,625.3 L868.0,624.8 L869.0,624.3 L870.0,623.8 L871.0,623.3 L872.0,622.8 L873.0,622.3 L874.0,621.8 L875.0,621.3 L876.0,620.8 L877.0,620.3 L878.0,619.8 L879.0,619.2 L880.0,618.7 L881.0,618.2 L882.0,617.7 L883.0,617.2 L884.0,616.7 L885.0,616.2 L886.0,615.7 L887.0,615.2 L888.0,614.7 L889.0,614.1 L890.0,613.6 L891.0,613.1 L892.0,612.6 L893.0,612.1 L894.0,611.6 L895.0,611.1 L896.0,610.5 L897.0,610.0 L898.0,609.5 L899.0,609.0 L900.0,608.5 L901.0,608.0 L902.0,607.5 L903.0,606.9 L904.0,606.4 L905.0,605.9 L906.0,605.4 L907.0,604.9 L908.0,604.4 L909.0,603.8 L910.0,603.3 L911.0,602.8 L912.0,602.3 L913.0,601.8 L914.0,601.3 L915.0,600.8 L916.0,600.2 L917.0,599.7 L918.0,599.2 L919.0,598.7 L920.0,598.2 L921.0,597.7 L922.0,597.1 L923.0,596.6 L924.0,596.1 L925.0,595.6 L926.0,595.1 L927.0,594.5 L928.0,594.0 L929.0,593.5 L930.0,593.0 L931.0,592.4 L932.0,591.9 L933.0,591.4 L934.0,590.9 L935.0,590.3 L936.0,589.8 L937.0,589.3 L938.0,588.7 L939.0,588.2 L940.0,587.7 L941.0,587.1 L942.0,586.6 L943.0,586.1 L944.0,585.5 L945.0,585.0 L946.0,584.4 L947.0,583.9 L948.0,583.4 L949.0,582.8 L950.0,582.3 L951.0,581.7 L952.0,581.2 L953.0,580.6 L954.0,580.0 L955.0,579.5 L956.0,578.9 L957.0,578.4 L958.0,577.8 L959.0,577.2 L960.0,576.7 L961.0,576.1 L962.0,575.5 L963.0,575.0 L964.0,574.4 L965.0,573.8 L966.0,573.2 L967.0,572.6 L968.0,572.1 L969.0,571.5 L970.0,570.9 L971.0,570.3 L972.0,569.7 L973.0,569.1 L974.0,568.5 L975.0,567.9 L976.0,567.3 L977.0,566.7 L978.0,566.1 L979.0,565.5 L980.0,564.9 L981.0,564.2 L982.0,563.6 L983.0,563.0 L984.0,562.4 L985.0,561.7 L986.0,561.1 L987.0,560.5 L988.0,559.8 L989.0,559.2 L990.0,558.5 L991.0,557.9 L992.0,557.2 L993.0,556.6 L994.0,555.9 L995.0,555.3 L996.0,554.6 L997.0,553.9 L998.0,553.3 L999.0,552.6 L1000.0,551.9 L1001.0,551.2 L1002.0,550.5 L1003.0,549.8 L1004.0,549.1 L1005.0,548.4 L1006.0,547.7 L1007.0,547.0 L1008.0,546.3 L1009.0,545.6 L1010.0,544.9 L1011.0,544.2 L1012.0,543.4 L1013.0,542.7 L1014.0,542.0 L1015.0,541.2 L1016.0,540.5 L1017.0,539.7 L1018.0,539.0 L1019.0,538.2 L1020.0,537.5 L1021.0,536.7 L1022.0,535.9 L1023.0,535.2 L1024.0,534.4 L1025.0,533.6 L1026.0,532.8 L1027.0,532.0 L1028.0,531.2 L1029.0,530.4 L1030.0,529.6 L1031.0,528.8 L1032.0,528.0 L1033.0,527.2 L1034.0,526.3 L1035.0,525.5 L1036.0,524.7 L1037.0,523.8 L1038.0,523.0 L1039.0,522.1 L1040.0,521.3 L1041.0,520.4 L1042.0,519.6 L1043.0,518.7 L1044.0,517.8 L1045.0,516.9 L1046.0,516.1 L1047.0,515.2 L1048.0,514.3 L1049.0,513.4 L1050.0,512.5 L1051.0,511.6 L1052.0,510.6 L1053.0,509.7 L1054.0,508.8 L1055.0,507.9 L1056.0,507.0 L1057.0,506.0 L1058.0,505.1 L1059.0,504.1 L1060.0,503.2 L1061.0,502.2 L1062.0,501.3 L1063.0,500.3 L1064.0,499.3 L1065.0,498.4 L1066.0,497.4 L1067.0,496.4 L1068.0,495.4 L1069.0,494.4 L1070.0,493.5 L1071.0,492.5 L1072.0,491.5 L1073.0,490.4 L1074.0,489.4 L1075.0,488.4 L1076.0,487.4 L1077.0,486.4 L1078.0,485.4 L1079.0,484.3 L1080.0,483.3 L1081.0,482.2 L1082.0,481.2 L1083.0,480.2 L1084.0,479.1 L1085.0,478.0 L1086.0,477.0 L1087.0,475.9 L1088.0,474.9 L1089.0,473.8 L1090.0,472.7 L1091.0,471.6 L1092.0,470.5 L1093.0,469.5 L1094.0,468.4 L1095.0,467.3 L1096.0,466.2 L1097.0,465.1 L1098.0,464.0 L1099.0,462.8 L1100.0,461.7 L1101.0,460.6 L1102.0,459.5 L1103.0,458.4 L1104.0,457.2 L1105.0,456.1 L1106.0,455.0 L1107.0,453.8 L1108.0,452.7 L1109.0,451.5 L1110.0,450.4 L1111.0,449.2 L1112.0,448.0 L1113.0,446.9 L1114.0,445.7 L1115.0,444.5 L1116.0,443.4 L1117.0,442.2 L1118.0,441.0 L1119.0,439.8 L1120.0,438.6 L1121.0,437.4 L1122.0,436.2 L1123.0,435.0 L1124.0,433.8 L1125.0,432.6" fill="none" stroke="#55081c" stroke-width="3.48" stroke-dasharray="22.3 5.57 3.48 5.57" stroke-linecap="butt" stroke-linejoin="round"/>
</g>
<rect x="647.80" y="26.80" width="473.60" height="716.60" fill="none" stroke="#000" stroke-width="1.4" stroke-linejoin="miter"/>
<line x1="647.80" y1="743.40" x2="647.80" y2="749.70" stroke="#000" stroke-width="1.4"/>
<text x="647.80" y="769.6" text-anchor="middle" font-size="17.60">1900</text>
<line x1="707.00" y1="743.40" x2="707.00" y2="749.70" stroke="#000" stroke-width="1.4"/>
<text x="707.00" y="769.6" text-anchor="middle" font-size="17.60">1950</text>
<line x1="766.20" y1="743.40" x2="766.20" y2="749.70" stroke="#000" stroke-width="1.4"/>
<text x="766.20" y="769.6" text-anchor="middle" font-size="17.60">2000</text>
<line x1="825.40" y1="743.40" x2="825.40" y2="749.70" stroke="#000" stroke-width="1.4"/>
<text x="825.40" y="769.6" text-anchor="middle" font-size="17.60">2050</text>
<line x1="884.60" y1="743.40" x2="884.60" y2="749.70" stroke="#000" stroke-width="1.4"/>
<text x="884.60" y="769.6" text-anchor="middle" font-size="17.60">2100</text>
<line x1="943.80" y1="743.40" x2="943.80" y2="749.70" stroke="#000" stroke-width="1.4"/>
<text x="943.80" y="769.6" text-anchor="middle" font-size="17.60">2150</text>
<line x1="1003.00" y1="743.40" x2="1003.00" y2="749.70" stroke="#000" stroke-width="1.4"/>
<text x="1003.00" y="769.6" text-anchor="middle" font-size="17.60">2200</text>
<line x1="1062.20" y1="743.40" x2="1062.20" y2="749.70" stroke="#000" stroke-width="1.4"/>
<text x="1062.20" y="769.6" text-anchor="middle" font-size="17.60">2250</text>
<line x1="1121.40" y1="743.40" x2="1121.40" y2="749.70" stroke="#000" stroke-width="1.4"/>
<text x="1121.40" y="769.6" text-anchor="middle" font-size="17.60">2300</text>
<line x1="641.50" y1="711.00" x2="647.80" y2="711.00" stroke="#000" stroke-width="1.4"/>
<text x="635.20" y="717.45" text-anchor="end" font-size="17.60">0.0</text>
<line x1="641.50" y1="591.80" x2="647.80" y2="591.80" stroke="#000" stroke-width="1.4"/>
<text x="635.20" y="598.25" text-anchor="end" font-size="17.60">0.1</text>
<line x1="641.50" y1="472.60" x2="647.80" y2="472.60" stroke="#000" stroke-width="1.4"/>
<text x="635.20" y="479.05" text-anchor="end" font-size="17.60">0.2</text>
<line x1="641.50" y1="353.40" x2="647.80" y2="353.40" stroke="#000" stroke-width="1.4"/>
<text x="635.20" y="359.85" text-anchor="end" font-size="17.60">0.3</text>
<line x1="641.50" y1="234.20" x2="647.80" y2="234.20" stroke="#000" stroke-width="1.4"/>
<text x="635.20" y="240.65" text-anchor="end" font-size="17.60">0.4</text>
<line x1="641.50" y1="115.00" x2="647.80" y2="115.00" stroke="#000" stroke-width="1.4"/>
<text x="635.20" y="121.45" text-anchor="end" font-size="17.60">0.5</text>
<text x="884.60" y="794.0" text-anchor="middle" font-size="17.60">Year</text>
<text transform="translate(596.20,385.10) rotate(-90)" text-anchor="middle" font-size="17.60"><tspan font-style="italic">&#948;</tspan>GMSLR since 1900 (m)</text>
<text x="647.60" y="16.80" font-size="21.00" font-weight="bold">b</text>
<rect x="654.20" y="33.60" width="388.80" height="66.60" rx="3.5" ry="3.5" fill="#fff" fill-opacity="0.8" stroke="#cccccc" stroke-width="1.4"/>
<line x1="660.10" y1="45.40" x2="702.30" y2="45.40" stroke="#cc6a32" stroke-width="3.48" stroke-dasharray="12.9 5.57"/>
<text x="712.80" y="50.50" font-size="14.10">SSP245 Control - SSP245 1854 Counterfactual</text>
<line x1="660.10" y1="66.20" x2="702.30" y2="66.20" stroke="#8a2e14" stroke-width="3.48" stroke-dasharray="3.48 5.74"/>
<text x="712.80" y="71.30" font-size="14.10">SSP245 Control - SSP245 1950 Counterfactual</text>
<line x1="660.10" y1="86.90" x2="702.30" y2="86.90" stroke="#55081c" stroke-width="3.48" stroke-dasharray="22.3 5.57 3.48 5.57"/>
<text x="712.80" y="92.00" font-size="14.10">SSP245 Control - SSP245 1990 Counterfactual</text>
<clipPath id="clip2"><rect x="1229.50" y="26.80" width="473.50" height="716.60"/></clipPath>
<g clip-path="url(#clip2)">
<path d="M1288.0,710.6 L1289.0,710.3 L1290.0,710.3 L1291.0,710.2 L1292.0,710.1 L1293.0,710.0 L1294.0,709.8 L1295.0,709.7 L1296.0,709.5 L1297.0,709.3 L1298.0,709.0 L1299.0,708.8 L1300.0,708.5 L1301.0,708.2 L1302.0,707.8 L1303.0,707.5 L1304.0,707.1 L1305.0,706.7 L1306.0,706.3 L1307.0,705.8 L1308.0,705.3 L1309.0,704.8 L1310.0,704.3 L1311.0,703.7 L1312.0,703.1 L1313.0,702.5 L1314.0,701.9 L1315.0,701.2 L1316.0,700.5 L1317.0,699.8 L1318.0,699.1 L1319.0,698.3 L1320.0,697.5 L1321.0,696.7 L1322.0,695.8 L1323.0,694.9 L1324.0,694.0 L1325.0,693.1 L1326.0,692.1 L1327.0,691.1 L1328.0,690.1 L1329.0,689.1 L1330.0,688.0 L1331.0,686.9 L1332.0,685.8 L1333.0,684.6 L1334.0,683.4 L1335.0,682.2 L1336.0,681.0 L1337.0,679.7 L1338.0,678.4 L1339.0,677.0 L1340.0,675.7 L1341.0,674.3 L1342.0,672.9 L1343.0,671.4 L1344.0,669.9 L1345.0,668.4 L1346.0,666.8 L1347.0,665.3 L1348.0,663.7 L1349.0,662.0 L1350.0,660.3 L1351.0,658.6 L1352.0,656.9 L1353.0,655.1 L1354.0,653.3 L1355.0,651.5 L1356.0,649.7 L1357.0,647.8 L1358.0,645.8 L1359.0,643.9 L1360.0,641.9 L1361.0,639.9 L1362.0,637.8 L1363.0,635.8 L1364.0,633.7 L1365.0,631.6 L1366.0,629.5 L1367.0,627.4 L1368.0,625.3 L1369.0,623.2 L1370.0,621.1 L1371.0,618.9 L1372.0,616.8 L1373.0,614.7 L1374.0,612.6 L1375.0,610.5 L1376.0,608.4 L1377.0,606.3 L1378.0,604.2 L1379.0,602.2 L1380.0,600.1 L1381.0,598.1 L1382.0,596.0 L1383.0,594.0 L1384.0,592.0 L1385.0,590.0 L1386.0,588.1 L1387.0,586.1 L1388.0,584.2 L1389.0,582.3 L1390.0,580.4 L1391.0,578.6 L1392.0,576.7 L1393.0,574.9 L1394.0,573.1 L1395.0,571.4 L1396.0,569.6 L1397.0,567.9 L1398.0,566.2 L1399.0,564.5 L1400.0,562.9 L1401.0,561.2 L1402.0,559.6 L1403.0,558.0 L1404.0,556.4 L1405.0,554.9 L1406.0,553.3 L1407.0,551.8 L1408.0,550.3 L1409.0,548.8 L1410.0,547.3 L1411.0,545.8 L1412.0,544.4 L1413.0,543.0 L1414.0,541.5 L1415.0,540.1 L1416.0,538.7 L1417.0,537.4 L1418.0,536.0 L1419.0,534.6 L1420.0,533.3 L1421.0,531.9 L1422.0,530.6 L1423.0,529.3 L1424.0,528.0 L1425.0,526.7 L1426.0,525.4 L1427.0,524.1 L1428.0,522.9 L1429.0,521.6 L1430.0,520.4 L1431.0,519.1 L1432.0,517.9 L1433.0,516.6 L1434.0,515.4 L1435.0,514.2 L1436.0,512.9 L1437.0,511.7 L1438.0,510.5 L1439.0,509.3 L1440.0,508.1 L1441.0,506.8 L1442.0,505.6 L1443.0,504.4 L1444.0,503.2 L1445.0,502.0 L1446.0,500.8 L1447.0,499.6 L1448.0,498.4 L1449.0,497.2 L1450.0,495.9 L1451.0,494.7 L1452.0,493.5 L1453.0,492.3 L1454.0,491.1 L1455.0,489.8 L1456.0,488.6 L1457.0,487.3 L1458.0,486.1 L1459.0,484.8 L1460.0,483.6 L1461.0,482.3 L1462.0,481.0 L1463.0,479.7 L1464.0,478.5 L1465.0,477.2 L1466.0,475.9 L1467.0,474.6 L1468.0,473.3 L1469.0,472.0 L1470.0,470.7 L1471.0,469.4 L1472.0,468.0 L1473.0,466.7 L1474.0,465.4 L1475.0,464.1 L1476.0,462.8 L1477.0,461.4 L1478.0,460.1 L1479.0,458.8 L1480.0,457.5 L1481.0,456.2 L1482.0,454.8 L1483.0,453.5 L1484.0,452.2 L1485.0,450.9 L1486.0,449.5 L1487.0,448.2 L1488.0,446.9 L1489.0,445.6 L1490.0,444.3 L1491.0,443.0 L1492.0,441.7 L1493.0,440.4 L1494.0,439.1 L1495.0,437.8 L1496.0,436.5 L1497.0,435.2 L1498.0,433.9 L1499.0,432.7 L1500.0,431.4 L1501.0,430.1 L1502.0,428.9 L1503.0,427.6 L1504.0,426.4 L1505.0,425.2 L1506.0,423.9 L1507.0,422.7 L1508.0,421.5 L1509.0,420.3 L1510.0,419.1 L1511.0,417.9 L1512.0,416.7 L1513.0,415.6 L1514.0,414.4 L1515.0,413.2 L1516.0,412.1 L1517.0,411.0 L1518.0,409.9 L1519.0,408.8 L1520.0,407.7 L1521.0,406.6 L1522.0,405.5 L1523.0,404.4 L1524.0,403.4 L1525.0,402.4 L1526.0,401.3 L1527.0,400.3 L1528.0,399.3 L1529.0,398.3 L1530.0,397.3 L1531.0,396.3 L1532.0,395.3 L1533.0,394.4 L1534.0,393.4 L1535.0,392.4 L1536.0,391.5 L1537.0,390.5 L1538.0,389.5 L1539.0,388.6 L1540.0,387.6 L1541.0,386.7 L1542.0,385.7 L1543.0,384.8 L1544.0,383.8 L1545.0,382.8 L1546.0,381.9 L1547.0,380.9 L1548.0,379.9 L1549.0,378.9 L1550.0,377.9 L1551.0,376.9 L1552.0,375.9 L1553.0,374.9 L1554.0,373.9 L1555.0,372.8 L1556.0,371.8 L1557.0,370.7 L1558.0,369.7 L1559.0,368.6 L1560.0,367.5 L1561.0,366.4 L1562.0,365.2 L1563.0,364.1 L1564.0,362.9 L1565.0,361.8 L1566.0,360.6 L1567.0,359.4 L1568.0,358.1 L1569.0,356.9 L1570.0,355.6 L1571.0,354.3 L1572.0,353.0 L1573.0,351.6 L1574.0,350.3 L1575.0,348.9 L1576.0,347.5 L1577.0,346.0 L1578.0,344.6 L1579.0,343.1 L1580.0,341.6 L1581.0,340.0 L1582.0,338.4 L1583.0,336.8 L1584.0,335.2 L1585.0,333.5 L1586.0,331.8 L1587.0,330.1 L1588.0,328.3 L1589.0,326.5 L1590.0,324.7 L1591.0,322.9 L1592.0,321.0 L1593.0,319.1 L1594.0,317.2 L1595.0,315.3 L1596.0,313.4 L1597.0,311.5 L1598.0,309.5 L1599.0,307.5 L1600.0,305.6 L1601.0,303.6 L1602.0,301.6 L1603.0,299.6 L1604.0,297.6 L1605.0,295.6 L1606.0,293.6 L1607.0,291.6 L1608.0,289.5 L1609.0,287.5 L1610.0,285.5 L1611.0,283.5 L1612.0,281.5 L1613.0,279.4 L1614.0,277.4 L1615.0,275.3 L1616.0,273.3 L1617.0,271.2 L1618.0,269.1 L1619.0,267.1 L1620.0,265.0 L1621.0,262.9 L1622.0,260.8 L1623.0,258.7 L1624.0,256.6 L1625.0,254.4 L1626.0,252.3 L1627.0,250.2 L1628.0,248.0 L1629.0,245.8 L1630.0,243.6 L1631.0,241.5 L1632.0,239.3 L1633.0,237.0 L1634.0,234.8 L1635.0,232.6 L1636.0,230.4 L1637.0,228.1 L1638.0,225.8 L1639.0,223.6 L1640.0,221.3 L1641.0,219.0 L1642.0,216.7 L1643.0,214.4 L1644.0,212.0 L1645.0,209.7 L1646.0,207.3 L1647.0,205.0 L1648.0,202.6 L1649.0,200.2 L1650.0,197.8 L1651.0,195.4 L1652.0,193.0 L1653.0,190.6 L1654.0,188.2 L1655.0,185.7 L1656.0,183.3 L1657.0,180.8 L1658.0,178.3 L1659.0,175.8 L1660.0,173.3 L1661.0,170.8 L1662.0,168.3 L1663.0,165.7 L1664.0,163.2 L1665.0,160.6 L1666.0,158.1 L1667.0,155.5 L1668.0,152.9 L1669.0,150.3 L1670.0,147.7 L1671.0,145.0 L1672.0,142.4 L1673.0,139.8 L1674.0,137.1 L1675.0,134.4 L1676.0,131.8 L1677.0,129.1 L1678.0,126.4 L1679.0,123.6 L1680.0,120.9 L1681.0,118.2 L1682.0,115.5 L1683.0,112.8 L1684.0,110.1 L1685.0,107.3 L1686.0,104.6 L1687.0,101.9 L1688.0,99.2 L1689.0,96.5 L1690.0,93.9 L1691.0,91.2 L1692.0,88.5 L1693.0,85.9 L1694.0,83.3 L1695.0,80.7 L1696.0,78.1 L1697.0,75.6 L1698.0,73.1 L1699.0,70.6 L1700.0,68.1 L1701.0,65.7 L1702.0,63.2 L1703.0,60.9 L1704.0,58.5 L1705.0,56.2 L1706.0,54.0 L1706.0,353.7 L1705.0,355.1 L1704.0,356.5 L1703.0,357.9 L1702.0,359.4 L1701.0,360.8 L1700.0,362.2 L1699.0,363.7 L1698.0,365.1 L1697.0,366.6 L1696.0,368.0 L1695.0,369.5 L1694.0,370.9 L1693.0,372.4 L1692.0,373.8 L1691.0,375.3 L1690.0,376.8 L1689.0,378.2 L1688.0,379.7 L1687.0,381.2 L1686.0,382.7 L1685.0,384.1 L1684.0,385.6 L1683.0,387.1 L1682.0,388.6 L1681.0,390.0 L1680.0,391.5 L1679.0,393.0 L1678.0,394.4 L1677.0,395.9 L1676.0,397.4 L1675.0,398.8 L1674.0,400.3 L1673.0,401.8 L1672.0,403.2 L1671.0,404.7 L1670.0,406.1 L1669.0,407.5 L1668.0,409.0 L1667.0,410.4 L1666.0,411.8 L1665.0,413.3 L1664.0,414.7 L1663.0,416.1 L1662.0,417.5 L1661.0,418.9 L1660.0,420.3 L1659.0,421.6 L1658.0,423.0 L1657.0,424.4 L1656.0,425.7 L1655.0,427.1 L1654.0,428.4 L1653.0,429.8 L1652.0,431.1 L1651.0,432.4 L1650.0,433.7 L1649.0,435.0 L1648.0,436.2 L1647.0,437.5 L1646.0,438.8 L1645.0,440.0 L1644.0,441.2 L1643.0,442.5 L1642.0,443.7 L1641.0,444.9 L1640.0,446.0 L1639.0,447.2 L1638.0,448.4 L1637.0,449.5 L1636.0,450.7 L1635.0,451.8 L1634.0,453.0 L1633.0,454.1 L1632.0,455.2 L1631.0,456.3 L1630.0,457.4 L1629.0,458.5 L1628.0,459.6 L1627.0,460.7 L1626.0,461.8 L1625.0,462.9 L1624.0,464.0 L1623.0,465.1 L1622.0,466.2 L1621.0,467.3 L1620.0,468.5 L1619.0,469.6 L1618.0,470.7 L1617.0,471.8 L1616.0,472.9 L1615.0,474.0 L1614.0,475.2 L1613.0,476.3 L1612.0,477.4 L1611.0,478.6 L1610.0,479.8 L1609.0,480.9 L1608.0,482.1 L1607.0,483.3 L1606.0,484.5 L1605.0,485.7 L1604.0,487.0 L1603.0,488.2 L1602.0,489.5 L1601.0,490.8 L1600.0,492.0 L1599.0,493.3 L1598.0,494.7 L1597.0,496.0 L1596.0,497.3 L1595.0,498.7 L1594.0,500.0 L1593.0,501.3 L1592.0,502.7 L1591.0,504.0 L1590.0,505.3 L1589.0,506.6 L1588.0,507.9 L1587.0,509.2 L1586.0,510.4 L1585.0,511.6 L1584.0,512.8 L1583.0,514.0 L1582.0,515.1 L1581.0,516.2 L1580.0,517.3 L1579.0,518.3 L1578.0,519.3 L1577.0,520.3 L1576.0,521.3 L1575.0,522.3 L1574.0,523.2 L1573.0,524.1 L1572.0,525.0 L1571.0,525.8 L1570.0,526.7 L1569.0,527.5 L1568.0,528.3 L1567.0,529.1 L1566.0,529.9 L1565.0,530.6 L1564.0,531.4 L1563.0,532.1 L1562.0,532.8 L1561.0,533.5 L1560.0,534.2 L1559.0,534.9 L1558.0,535.5 L1557.0,536.2 L1556.0,536.8 L1555.0,537.5 L1554.0,538.1 L1553.0,538.7 L1552.0,539.3 L1551.0,539.9 L1550.0,540.5 L1549.0,541.1 L1548.0,541.7 L1547.0,542.3 L1546.0,542.8 L1545.0,543.4 L1544.0,544.0 L1543.0,544.6 L1542.0,545.1 L1541.0,545.7 L1540.0,546.3 L1539.0,546.9 L1538.0,547.4 L1537.0,548.0 L1536.0,548.6 L1535.0,549.2 L1534.0,549.8 L1533.0,550.3 L1532.0,550.9 L1531.0,551.5 L1530.0,552.1 L1529.0,552.7 L1528.0,553.3 L1527.0,553.8 L1526.0,554.4 L1525.0,555.0 L1524.0,555.6 L1523.0,556.2 L1522.0,556.8 L1521.0,557.4 L1520.0,558.0 L1519.0,558.6 L1518.0,559.2 L1517.0,559.8 L1516.0,560.4 L1515.0,561.0 L1514.0,561.6 L1513.0,562.2 L1512.0,562.8 L1511.0,563.4 L1510.0,564.0 L1509.0,564.6 L1508.0,565.2 L1507.0,565.8 L1506.0,566.4 L1505.0,567.0 L1504.0,567.6 L1503.0,568.2 L1502.0,568.8 L1501.0,569.4 L1500.0,570.0 L1499.0,570.6 L1498.0,571.2 L1497.0,571.8 L1496.0,572.4 L1495.0,573.1 L1494.0,573.7 L1493.0,574.3 L1492.0,574.9 L1491.0,575.5 L1490.0,576.1 L1489.0,576.7 L1488.0,577.4 L1487.0,578.0 L1486.0,578.6 L1485.0,579.2 L1484.0,579.8 L1483.0,580.4 L1482.0,581.1 L1481.0,581.7 L1480.0,582.3 L1479.0,582.9 L1478.0,583.6 L1477.0,584.2 L1476.0,584.8 L1475.0,585.4 L1474.0,586.0 L1473.0,586.7 L1472.0,587.3 L1471.0,587.9 L1470.0,588.5 L1469.0,589.2 L1468.0,589.8 L1467.0,590.4 L1466.0,591.0 L1465.0,591.7 L1464.0,592.3 L1463.0,592.9 L1462.0,593.6 L1461.0,594.2 L1460.0,594.8 L1459.0,595.4 L1458.0,596.1 L1457.0,596.7 L1456.0,597.3 L1455.0,598.0 L1454.0,598.6 L1453.0,599.2 L1452.0,599.9 L1451.0,600.5 L1450.0,601.1 L1449.0,601.7 L1448.0,602.3 L1447.0,603.0 L1446.0,603.6 L1445.0,604.2 L1444.0,604.7 L1443.0,605.3 L1442.0,605.9 L1441.0,606.5 L1440.0,607.0 L1439.0,607.6 L1438.0,608.1 L1437.0,608.6 L1436.0,609.1 L1435.0,609.6 L1434.0,610.1 L1433.0,610.5 L1432.0,611.0 L1431.0,611.4 L1430.0,611.8 L1429.0,612.2 L1428.0,612.6 L1427.0,613.0 L1426.0,613.3 L1425.0,613.7 L1424.0,614.0 L1423.0,614.3 L1422.0,614.6 L1421.0,615.0 L1420.0,615.3 L1419.0,615.6 L1418.0,615.9 L1417.0,616.2 L1416.0,616.5 L1415.0,616.8 L1414.0,617.1 L1413.0,617.5 L1412.0,617.8 L1411.0,618.1 L1410.0,618.5 L1409.0,618.9 L1408.0,619.2 L1407.0,619.6 L1406.0,620.0 L1405.0,620.4 L1404.0,620.9 L1403.0,621.3 L1402.0,621.8 L1401.0,622.3 L1400.0,622.8 L1399.0,623.4 L1398.0,623.9 L1397.0,624.5 L1396.0,625.2 L1395.0,625.8 L1394.0,626.5 L1393.0,627.2 L1392.0,627.9 L1391.0,628.7 L1390.0,629.5 L1389.0,630.3 L1388.0,631.1 L1387.0,632.0 L1386.0,632.9 L1385.0,633.9 L1384.0,634.8 L1383.0,635.8 L1382.0,636.9 L1381.0,637.9 L1380.0,639.0 L1379.0,640.1 L1378.0,641.3 L1377.0,642.4 L1376.0,643.7 L1375.0,644.9 L1374.0,646.2 L1373.0,647.4 L1372.0,648.7 L1371.0,650.1 L1370.0,651.4 L1369.0,652.8 L1368.0,654.1 L1367.0,655.5 L1366.0,656.9 L1365.0,658.3 L1364.0,659.7 L1363.0,661.2 L1362.0,662.6 L1361.0,664.0 L1360.0,665.4 L1359.0,666.8 L1358.0,668.3 L1357.0,669.7 L1356.0,671.1 L1355.0,672.5 L1354.0,673.8 L1353.0,675.2 L1352.0,676.5 L1351.0,677.9 L1350.0,679.2 L1349.0,680.5 L1348.0,681.8 L1347.0,683.0 L1346.0,684.2 L1345.0,685.4 L1344.0,686.6 L1343.0,687.7 L1342.0,688.8 L1341.0,689.9 L1340.0,690.9 L1339.0,691.9 L1338.0,692.9 L1337.0,693.9 L1336.0,694.8 L1335.0,695.7 L1334.0,696.5 L1333.0,697.4 L1332.0,698.2 L1331.0,699.0 L1330.0,699.7 L1329.0,700.4 L1328.0,701.1 L1327.0,701.8 L1326.0,702.5 L1325.0,703.1 L1324.0,703.7 L1323.0,704.2 L1322.0,704.8 L1321.0,705.3 L1320.0,705.8 L1319.0,706.3 L1318.0,706.7 L1317.0,707.1 L1316.0,707.5 L1315.0,707.9 L1314.0,708.3 L1313.0,708.6 L1312.0,708.9 L1311.0,709.2 L1310.0,709.4 L1309.0,709.7 L1308.0,709.9 L1307.0,710.1 L1306.0,710.3 L1305.0,710.4 L1304.0,710.6 L1303.0,710.6 L1302.0,710.6 L1301.0,710.6 L1300.0,710.6 L1299.0,710.6 L1298.0,710.6 L1297.0,710.6 L1296.0,710.6 L1295.0,710.6 L1294.0,710.6 L1293.0,710.6 L1292.0,710.6 L1291.0,710.6 L1290.0,710.6 L1289.0,710.5 L1288.0,710.6 Z" fill="#78000a" fill-opacity="0.200" stroke="#78000a" stroke-opacity="0.200" stroke-width="1.74" stroke-linejoin="round"/>
<path d="M1288.0,710.6 L1289.0,710.4 L1290.0,710.3 L1291.0,710.2 L1292.0,710.1 L1293.0,710.0 L1294.0,709.8 L1295.0,709.6 L1296.0,709.4 L1297.0,709.2 L1298.0,709.0 L1299.0,708.7 L1300.0,708.4 L1301.0,708.1 L1302.0,707.8 L1303.0,707.4 L1304.0,707.0 L1305.0,706.6 L1306.0,706.2 L1307.0,705.7 L1308.0,705.2 L1309.0,704.7 L1310.0,704.2 L1311.0,703.6 L1312.0,703.1 L1313.0,702.4 L1314.0,701.8 L1315.0,701.1 L1316.0,700.5 L1317.0,699.7 L1318.0,699.0 L1319.0,698.2 L1320.0,697.5 L1321.0,696.6 L1322.0,695.8 L1323.0,694.9 L1324.0,694.0 L1325.0,693.1 L1326.0,692.1 L1327.0,691.1 L1328.0,690.1 L1329.0,689.1 L1330.0,688.0 L1331.0,686.9 L1332.0,685.8 L1333.0,684.6 L1334.0,683.5 L1335.0,682.2 L1336.0,681.0 L1337.0,679.7 L1338.0,678.4 L1339.0,677.1 L1340.0,675.7 L1341.0,674.3 L1342.0,672.9 L1343.0,671.5 L1344.0,670.0 L1345.0,668.4 L1346.0,666.9 L1347.0,665.3 L1348.0,663.7 L1349.0,662.1 L1350.0,660.4 L1351.0,658.7 L1352.0,656.9 L1353.0,655.2 L1354.0,653.4 L1355.0,651.5 L1356.0,649.7 L1357.0,647.8 L1358.0,645.8 L1359.0,643.9 L1360.0,641.9 L1361.0,639.9 L1362.0,637.8 L1363.0,635.8 L1364.0,633.7 L1365.0,631.6 L1366.0,629.5 L1367.0,627.4 L1368.0,625.3 L1369.0,623.1 L1370.0,621.0 L1371.0,618.9 L1372.0,616.8 L1373.0,614.7 L1374.0,612.6 L1375.0,610.5 L1376.0,608.4 L1377.0,606.4 L1378.0,604.3 L1379.0,602.3 L1380.0,600.2 L1381.0,598.2 L1382.0,596.2 L1383.0,594.3 L1384.0,592.3 L1385.0,590.4 L1386.0,588.5 L1387.0,586.6 L1388.0,584.7 L1389.0,582.8 L1390.0,581.0 L1391.0,579.2 L1392.0,577.4 L1393.0,575.6 L1394.0,573.9 L1395.0,572.2 L1396.0,570.5 L1397.0,568.8 L1398.0,567.2 L1399.0,565.6 L1400.0,564.0 L1401.0,562.4 L1402.0,560.8 L1403.0,559.3 L1404.0,557.7 L1405.0,556.2 L1406.0,554.7 L1407.0,553.3 L1408.0,551.8 L1409.0,550.4 L1410.0,549.0 L1411.0,547.6 L1412.0,546.2 L1413.0,544.8 L1414.0,543.4 L1415.0,542.1 L1416.0,540.7 L1417.0,539.4 L1418.0,538.1 L1419.0,536.8 L1420.0,535.5 L1421.0,534.3 L1422.0,533.0 L1423.0,531.7 L1424.0,530.5 L1425.0,529.3 L1426.0,528.0 L1427.0,526.8 L1428.0,525.6 L1429.0,524.4 L1430.0,523.2 L1431.0,522.0 L1432.0,520.8 L1433.0,519.6 L1434.0,518.5 L1435.0,517.3 L1436.0,516.1 L1437.0,514.9 L1438.0,513.8 L1439.0,512.6 L1440.0,511.5 L1441.0,510.3 L1442.0,509.1 L1443.0,508.0 L1444.0,506.8 L1445.0,505.7 L1446.0,504.5 L1447.0,503.3 L1448.0,502.2 L1449.0,501.0 L1450.0,499.9 L1451.0,498.7 L1452.0,497.5 L1453.0,496.3 L1454.0,495.1 L1455.0,494.0 L1456.0,492.8 L1457.0,491.6 L1458.0,490.3 L1459.0,489.1 L1460.0,487.9 L1461.0,486.7 L1462.0,485.4 L1463.0,484.2 L1464.0,482.9 L1465.0,481.7 L1466.0,480.4 L1467.0,479.2 L1468.0,477.9 L1469.0,476.6 L1470.0,475.4 L1471.0,474.1 L1472.0,472.8 L1473.0,471.5 L1474.0,470.2 L1475.0,468.9 L1476.0,467.6 L1477.0,466.3 L1478.0,465.0 L1479.0,463.8 L1480.0,462.5 L1481.0,461.2 L1482.0,459.9 L1483.0,458.6 L1484.0,457.3 L1485.0,456.0 L1486.0,454.7 L1487.0,453.4 L1488.0,452.1 L1489.0,450.8 L1490.0,449.5 L1491.0,448.2 L1492.0,446.9 L1493.0,445.7 L1494.0,444.4 L1495.0,443.1 L1496.0,441.9 L1497.0,440.6 L1498.0,439.3 L1499.0,438.1 L1500.0,436.8 L1501.0,435.6 L1502.0,434.4 L1503.0,433.1 L1504.0,431.9 L1505.0,430.7 L1506.0,429.5 L1507.0,428.3 L1508.0,427.1 L1509.0,425.9 L1510.0,424.8 L1511.0,423.6 L1512.0,422.5 L1513.0,421.3 L1514.0,420.2 L1515.0,419.1 L1516.0,417.9 L1517.0,416.8 L1518.0,415.7 L1519.0,414.7 L1520.0,413.6 L1521.0,412.5 L1522.0,411.5 L1523.0,410.5 L1524.0,409.4 L1525.0,408.4 L1526.0,407.4 L1527.0,406.5 L1528.0,405.5 L1529.0,404.5 L1530.0,403.6 L1531.0,402.6 L1532.0,401.7 L1533.0,400.7 L1534.0,399.8 L1535.0,398.9 L1536.0,397.9 L1537.0,397.0 L1538.0,396.1 L1539.0,395.2 L1540.0,394.2 L1541.0,393.3 L1542.0,392.4 L1543.0,391.5 L1544.0,390.5 L1545.0,389.6 L1546.0,388.7 L1547.0,387.7 L1548.0,386.8 L1549.0,385.8 L1550.0,384.9 L1551.0,383.9 L1552.0,383.0 L1553.0,382.0 L1554.0,381.0 L1555.0,380.0 L1556.0,379.0 L1557.0,378.0 L1558.0,376.9 L1559.0,375.9 L1560.0,374.8 L1561.0,373.7 L1562.0,372.6 L1563.0,371.5 L1564.0,370.4 L1565.0,369.2 L1566.0,368.1 L1567.0,366.9 L1568.0,365.7 L1569.0,364.5 L1570.0,363.2 L1571.0,362.0 L1572.0,360.7 L1573.0,359.4 L1574.0,358.0 L1575.0,356.7 L1576.0,355.3 L1577.0,353.9 L1578.0,352.4 L1579.0,351.0 L1580.0,349.5 L1581.0,347.9 L1582.0,346.4 L1583.0,344.8 L1584.0,343.2 L1585.0,341.5 L1586.0,339.8 L1587.0,338.1 L1588.0,336.4 L1589.0,334.6 L1590.0,332.8 L1591.0,331.0 L1592.0,329.1 L1593.0,327.3 L1594.0,325.4 L1595.0,323.5 L1596.0,321.6 L1597.0,319.7 L1598.0,317.7 L1599.0,315.8 L1600.0,313.8 L1601.0,311.9 L1602.0,309.9 L1603.0,307.9 L1604.0,306.0 L1605.0,304.0 L1606.0,302.0 L1607.0,300.1 L1608.0,298.1 L1609.0,296.1 L1610.0,294.1 L1611.0,292.2 L1612.0,290.2 L1613.0,288.2 L1614.0,286.2 L1615.0,284.2 L1616.0,282.2 L1617.0,280.2 L1618.0,278.2 L1619.0,276.2 L1620.0,274.2 L1621.0,272.1 L1622.0,270.1 L1623.0,268.1 L1624.0,266.0 L1625.0,264.0 L1626.0,261.9 L1627.0,259.8 L1628.0,257.7 L1629.0,255.6 L1630.0,253.5 L1631.0,251.4 L1632.0,249.3 L1633.0,247.2 L1634.0,245.0 L1635.0,242.9 L1636.0,240.7 L1637.0,238.5 L1638.0,236.3 L1639.0,234.1 L1640.0,231.9 L1641.0,229.7 L1642.0,227.5 L1643.0,225.3 L1644.0,223.0 L1645.0,220.8 L1646.0,218.5 L1647.0,216.2 L1648.0,213.9 L1649.0,211.7 L1650.0,209.3 L1651.0,207.0 L1652.0,204.7 L1653.0,202.4 L1654.0,200.0 L1655.0,197.6 L1656.0,195.3 L1657.0,192.9 L1658.0,190.5 L1659.0,188.1 L1660.0,185.7 L1661.0,183.3 L1662.0,180.8 L1663.0,178.4 L1664.0,175.9 L1665.0,173.4 L1666.0,170.9 L1667.0,168.4 L1668.0,165.9 L1669.0,163.4 L1670.0,160.9 L1671.0,158.3 L1672.0,155.8 L1673.0,153.2 L1674.0,150.6 L1675.0,148.1 L1676.0,145.5 L1677.0,142.8 L1678.0,140.2 L1679.0,137.6 L1680.0,134.9 L1681.0,132.3 L1682.0,129.7 L1683.0,127.0 L1684.0,124.4 L1685.0,121.7 L1686.0,119.1 L1687.0,116.5 L1688.0,113.8 L1689.0,111.2 L1690.0,108.6 L1691.0,106.0 L1692.0,103.5 L1693.0,100.9 L1694.0,98.4 L1695.0,95.9 L1696.0,93.4 L1697.0,90.9 L1698.0,88.5 L1699.0,86.1 L1700.0,83.7 L1701.0,81.3 L1702.0,79.0 L1703.0,76.7 L1704.0,74.5 L1705.0,72.3 L1706.0,70.1 L1706.0,361.7 L1705.0,363.1 L1704.0,364.5 L1703.0,365.9 L1702.0,367.3 L1701.0,368.7 L1700.0,370.1 L1699.0,371.5 L1698.0,372.9 L1697.0,374.4 L1696.0,375.8 L1695.0,377.2 L1694.0,378.6 L1693.0,380.1 L1692.0,381.5 L1691.0,383.0 L1690.0,384.4 L1689.0,385.8 L1688.0,387.3 L1687.0,388.7 L1686.0,390.2 L1685.0,391.6 L1684.0,393.1 L1683.0,394.5 L1682.0,396.0 L1681.0,397.4 L1680.0,398.9 L1679.0,400.3 L1678.0,401.8 L1677.0,403.2 L1676.0,404.6 L1675.0,406.1 L1674.0,407.5 L1673.0,408.9 L1672.0,410.4 L1671.0,411.8 L1670.0,413.2 L1669.0,414.6 L1668.0,416.0 L1667.0,417.4 L1666.0,418.8 L1665.0,420.2 L1664.0,421.6 L1663.0,423.0 L1662.0,424.4 L1661.0,425.7 L1660.0,427.1 L1659.0,428.4 L1658.0,429.8 L1657.0,431.1 L1656.0,432.4 L1655.0,433.8 L1654.0,435.1 L1653.0,436.4 L1652.0,437.7 L1651.0,439.0 L1650.0,440.2 L1649.0,441.5 L1648.0,442.7 L1647.0,444.0 L1646.0,445.2 L1645.0,446.4 L1644.0,447.6 L1643.0,448.8 L1642.0,450.0 L1641.0,451.2 L1640.0,452.3 L1639.0,453.5 L1638.0,454.6 L1637.0,455.7 L1636.0,456.9 L1635.0,458.0 L1634.0,459.1 L1633.0,460.2 L1632.0,461.3 L1631.0,462.4 L1630.0,463.4 L1629.0,464.5 L1628.0,465.6 L1627.0,466.7 L1626.0,467.8 L1625.0,468.8 L1624.0,469.9 L1623.0,471.0 L1622.0,472.1 L1621.0,473.1 L1620.0,474.2 L1619.0,475.3 L1618.0,476.4 L1617.0,477.5 L1616.0,478.6 L1615.0,479.7 L1614.0,480.8 L1613.0,481.9 L1612.0,483.0 L1611.0,484.1 L1610.0,485.3 L1609.0,486.4 L1608.0,487.6 L1607.0,488.7 L1606.0,489.9 L1605.0,491.1 L1604.0,492.3 L1603.0,493.5 L1602.0,494.8 L1601.0,496.0 L1600.0,497.3 L1599.0,498.5 L1598.0,499.8 L1597.0,501.1 L1596.0,502.4 L1595.0,503.7 L1594.0,505.1 L1593.0,506.4 L1592.0,507.7 L1591.0,509.0 L1590.0,510.3 L1589.0,511.5 L1588.0,512.8 L1587.0,514.0 L1586.0,515.2 L1585.0,516.4 L1584.0,517.6 L1583.0,518.7 L1582.0,519.8 L1581.0,520.9 L1580.0,521.9 L1579.0,523.0 L1578.0,524.0 L1577.0,524.9 L1576.0,525.9 L1575.0,526.8 L1574.0,527.7 L1573.0,528.6 L1572.0,529.4 L1571.0,530.3 L1570.0,531.1 L1569.0,531.9 L1568.0,532.7 L1567.0,533.4 L1566.0,534.2 L1565.0,534.9 L1564.0,535.6 L1563.0,536.3 L1562.0,537.0 L1561.0,537.7 L1560.0,538.3 L1559.0,539.0 L1558.0,539.6 L1557.0,540.2 L1556.0,540.8 L1555.0,541.5 L1554.0,542.1 L1553.0,542.6 L1552.0,543.2 L1551.0,543.8 L1550.0,544.4 L1549.0,544.9 L1548.0,545.5 L1547.0,546.0 L1546.0,546.6 L1545.0,547.1 L1544.0,547.7 L1543.0,548.2 L1542.0,548.8 L1541.0,549.3 L1540.0,549.9 L1539.0,550.4 L1538.0,551.0 L1537.0,551.5 L1536.0,552.1 L1535.0,552.6 L1534.0,553.2 L1533.0,553.8 L1532.0,554.3 L1531.0,554.9 L1530.0,555.4 L1529.0,556.0 L1528.0,556.5 L1527.0,557.1 L1526.0,557.7 L1525.0,558.2 L1524.0,558.8 L1523.0,559.4 L1522.0,559.9 L1521.0,560.5 L1520.0,561.1 L1519.0,561.6 L1518.0,562.2 L1517.0,562.8 L1516.0,563.3 L1515.0,563.9 L1514.0,564.5 L1513.0,565.0 L1512.0,565.6 L1511.0,566.2 L1510.0,566.8 L1509.0,567.3 L1508.0,567.9 L1507.0,568.5 L1506.0,569.1 L1505.0,569.7 L1504.0,570.2 L1503.0,570.8 L1502.0,571.4 L1501.0,572.0 L1500.0,572.6 L1499.0,573.1 L1498.0,573.7 L1497.0,574.3 L1496.0,574.9 L1495.0,575.5 L1494.0,576.1 L1493.0,576.6 L1492.0,577.2 L1491.0,577.8 L1490.0,578.4 L1489.0,579.0 L1488.0,579.6 L1487.0,580.2 L1486.0,580.8 L1485.0,581.4 L1484.0,582.0 L1483.0,582.5 L1482.0,583.1 L1481.0,583.7 L1480.0,584.3 L1479.0,584.9 L1478.0,585.5 L1477.0,586.1 L1476.0,586.7 L1475.0,587.3 L1474.0,587.9 L1473.0,588.5 L1472.0,589.1 L1471.0,589.7 L1470.0,590.3 L1469.0,590.9 L1468.0,591.5 L1467.0,592.1 L1466.0,592.7 L1465.0,593.3 L1464.0,593.9 L1463.0,594.5 L1462.0,595.1 L1461.0,595.7 L1460.0,596.3 L1459.0,596.9 L1458.0,597.5 L1457.0,598.1 L1456.0,598.7 L1455.0,599.3 L1454.0,599.9 L1453.0,600.6 L1452.0,601.2 L1451.0,601.8 L1450.0,602.4 L1449.0,602.9 L1448.0,603.5 L1447.0,604.1 L1446.0,604.7 L1445.0,605.3 L1444.0,605.8 L1443.0,606.4 L1442.0,606.9 L1441.0,607.5 L1440.0,608.0 L1439.0,608.5 L1438.0,609.0 L1437.0,609.5 L1436.0,610.0 L1435.0,610.5 L1434.0,610.9 L1433.0,611.3 L1432.0,611.8 L1431.0,612.2 L1430.0,612.5 L1429.0,612.9 L1428.0,613.3 L1427.0,613.6 L1426.0,613.9 L1425.0,614.2 L1424.0,614.6 L1423.0,614.9 L1422.0,615.2 L1421.0,615.4 L1420.0,615.7 L1419.0,616.0 L1418.0,616.3 L1417.0,616.6 L1416.0,616.9 L1415.0,617.2 L1414.0,617.5 L1413.0,617.8 L1412.0,618.1 L1411.0,618.4 L1410.0,618.7 L1409.0,619.1 L1408.0,619.4 L1407.0,619.8 L1406.0,620.2 L1405.0,620.6 L1404.0,621.0 L1403.0,621.4 L1402.0,621.9 L1401.0,622.4 L1400.0,622.9 L1399.0,623.4 L1398.0,624.0 L1397.0,624.6 L1396.0,625.2 L1395.0,625.8 L1394.0,626.5 L1393.0,627.2 L1392.0,627.9 L1391.0,628.7 L1390.0,629.5 L1389.0,630.3 L1388.0,631.1 L1387.0,632.0 L1386.0,632.9 L1385.0,633.9 L1384.0,634.8 L1383.0,635.8 L1382.0,636.8 L1381.0,637.9 L1380.0,639.0 L1379.0,640.1 L1378.0,641.2 L1377.0,642.4 L1376.0,643.6 L1375.0,644.9 L1374.0,646.1 L1373.0,647.4 L1372.0,648.7 L1371.0,650.1 L1370.0,651.4 L1369.0,652.8 L1368.0,654.1 L1367.0,655.5 L1366.0,656.9 L1365.0,658.3 L1364.0,659.7 L1363.0,661.2 L1362.0,662.6 L1361.0,664.0 L1360.0,665.4 L1359.0,666.8 L1358.0,668.3 L1357.0,669.7 L1356.0,671.1 L1355.0,672.5 L1354.0,673.8 L1353.0,675.2 L1352.0,676.6 L1351.0,677.9 L1350.0,679.2 L1349.0,680.5 L1348.0,681.8 L1347.0,683.0 L1346.0,684.2 L1345.0,685.4 L1344.0,686.6 L1343.0,687.7 L1342.0,688.8 L1341.0,689.9 L1340.0,690.9 L1339.0,691.9 L1338.0,692.9 L1337.0,693.9 L1336.0,694.8 L1335.0,695.7 L1334.0,696.6 L1333.0,697.4 L1332.0,698.2 L1331.0,699.0 L1330.0,699.7 L1329.0,700.5 L1328.0,701.1 L1327.0,701.8 L1326.0,702.5 L1325.0,703.1 L1324.0,703.7 L1323.0,704.2 L1322.0,704.8 L1321.0,705.3 L1320.0,705.8 L1319.0,706.3 L1318.0,706.7 L1317.0,707.1 L1316.0,707.5 L1315.0,707.9 L1314.0,708.3 L1313.0,708.6 L1312.0,708.9 L1311.0,709.2 L1310.0,709.4 L1309.0,709.7 L1308.0,709.9 L1307.0,710.1 L1306.0,710.3 L1305.0,710.4 L1304.0,710.6 L1303.0,710.6 L1302.0,710.6 L1301.0,710.6 L1300.0,710.6 L1299.0,710.6 L1298.0,710.6 L1297.0,710.6 L1296.0,710.6 L1295.0,710.6 L1294.0,710.6 L1293.0,710.6 L1292.0,710.6 L1291.0,710.6 L1290.0,710.6 L1289.0,710.5 L1288.0,710.6 Z" fill="#3f0000" fill-opacity="0.200" stroke="#3f0000" stroke-opacity="0.200" stroke-width="1.74" stroke-linejoin="round"/>
<path d="M1339.3,710.6 L1340.3,710.2 L1341.3,710.1 L1342.3,709.9 L1343.3,709.6 L1344.3,709.2 L1345.3,708.8 L1346.3,708.2 L1347.3,707.5 L1348.3,706.8 L1349.3,706.0 L1350.3,705.1 L1351.3,704.2 L1352.3,703.1 L1353.3,702.0 L1354.3,700.9 L1355.3,699.7 L1356.3,698.4 L1357.3,697.1 L1358.3,695.7 L1359.3,694.2 L1360.3,692.8 L1361.3,691.2 L1362.3,689.7 L1363.3,688.1 L1364.3,686.4 L1365.3,684.8 L1366.4,683.1 L1367.4,681.3 L1368.4,679.6 L1369.4,677.8 L1370.4,676.0 L1371.4,674.2 L1372.4,672.4 L1373.4,670.6 L1374.4,668.7 L1375.4,666.9 L1376.4,665.0 L1377.4,663.2 L1378.4,661.3 L1379.4,659.4 L1380.4,657.6 L1381.4,655.7 L1382.4,653.8 L1383.4,652.0 L1384.4,650.1 L1385.4,648.3 L1386.4,646.4 L1387.4,644.6 L1388.4,642.8 L1389.4,641.0 L1390.4,639.2 L1391.4,637.4 L1392.4,635.6 L1393.4,633.9 L1394.4,632.2 L1395.4,630.5 L1396.4,628.8 L1397.4,627.2 L1398.4,625.5 L1399.4,623.9 L1400.4,622.4 L1401.4,620.8 L1402.4,619.3 L1403.4,617.8 L1404.4,616.3 L1405.4,614.9 L1406.4,613.4 L1407.4,612.0 L1408.4,610.6 L1409.4,609.3 L1410.4,607.9 L1411.4,606.6 L1412.4,605.3 L1413.4,604.0 L1414.4,602.8 L1415.4,601.5 L1416.4,600.3 L1417.4,599.1 L1418.5,597.9 L1419.5,596.8 L1420.5,595.6 L1421.5,594.5 L1422.5,593.4 L1423.5,592.3 L1424.5,591.2 L1425.5,590.1 L1426.5,589.1 L1427.5,588.1 L1428.5,587.0 L1429.5,586.0 L1430.5,585.0 L1431.5,584.1 L1432.5,583.1 L1433.5,582.2 L1434.5,581.2 L1435.5,580.3 L1436.5,579.4 L1437.5,578.5 L1438.5,577.6 L1439.5,576.7 L1440.5,575.9 L1441.5,575.0 L1442.5,574.2 L1443.5,573.3 L1444.5,572.5 L1445.5,571.7 L1446.5,570.9 L1447.5,570.1 L1448.5,569.3 L1449.5,568.5 L1450.5,567.7 L1451.5,567.0 L1452.5,566.2 L1453.5,565.4 L1454.5,564.7 L1455.5,563.9 L1456.5,563.2 L1457.5,562.5 L1458.5,561.7 L1459.5,561.0 L1460.5,560.3 L1461.5,559.6 L1462.5,558.8 L1463.5,558.1 L1464.5,557.4 L1465.5,556.7 L1466.5,556.0 L1467.5,555.3 L1468.5,554.6 L1469.5,553.9 L1470.6,553.1 L1471.6,552.4 L1472.6,551.7 L1473.6,551.0 L1474.6,550.3 L1475.6,549.6 L1476.6,548.9 L1477.6,548.2 L1478.6,547.5 L1479.6,546.8 L1480.6,546.1 L1481.6,545.3 L1482.6,544.6 L1483.6,543.9 L1484.6,543.2 L1485.6,542.5 L1486.6,541.8 L1487.6,541.1 L1488.6,540.4 L1489.6,539.7 L1490.6,539.0 L1491.6,538.2 L1492.6,537.5 L1493.6,536.8 L1494.6,536.1 L1495.6,535.4 L1496.6,534.7 L1497.6,534.0 L1498.6,533.3 L1499.6,532.5 L1500.6,531.8 L1501.6,531.1 L1502.6,530.4 L1503.6,529.7 L1504.6,529.0 L1505.6,528.3 L1506.6,527.6 L1507.6,526.8 L1508.6,526.1 L1509.6,525.4 L1510.6,524.7 L1511.6,524.0 L1512.6,523.3 L1513.6,522.5 L1514.6,521.8 L1515.6,521.1 L1516.6,520.4 L1517.6,519.7 L1518.6,519.0 L1519.6,518.2 L1520.6,517.5 L1521.6,516.8 L1522.7,516.1 L1523.7,515.4 L1524.7,514.6 L1525.7,513.9 L1526.7,513.2 L1527.7,512.5 L1528.7,511.7 L1529.7,511.0 L1530.7,510.3 L1531.7,509.6 L1532.7,508.8 L1533.7,508.1 L1534.7,507.4 L1535.7,506.7 L1536.7,505.9 L1537.7,505.2 L1538.7,504.5 L1539.7,503.8 L1540.7,503.0 L1541.7,502.3 L1542.7,501.6 L1543.7,500.8 L1544.7,500.1 L1545.7,499.4 L1546.7,498.6 L1547.7,497.9 L1548.7,497.2 L1549.7,496.4 L1550.7,495.7 L1551.7,495.0 L1552.7,494.2 L1553.7,493.5 L1554.7,492.8 L1555.7,492.0 L1556.7,491.3 L1557.7,490.5 L1558.7,489.8 L1559.7,489.0 L1560.7,488.2 L1561.7,487.5 L1562.7,486.7 L1563.7,485.9 L1564.7,485.2 L1565.7,484.4 L1566.7,483.6 L1567.7,482.8 L1568.7,482.0 L1569.7,481.3 L1570.7,480.5 L1571.7,479.7 L1572.7,478.9 L1573.7,478.0 L1574.7,477.2 L1575.8,476.4 L1576.8,475.6 L1577.8,474.7 L1578.8,473.9 L1579.8,473.1 L1580.8,472.2 L1581.8,471.4 L1582.8,470.5 L1583.8,469.6 L1584.8,468.7 L1585.8,467.9 L1586.8,467.0 L1587.8,466.1 L1588.8,465.2 L1589.8,464.3 L1590.8,463.3 L1591.8,462.4 L1592.8,461.5 L1593.8,460.5 L1594.8,459.6 L1595.8,458.6 L1596.8,457.6 L1597.8,456.7 L1598.8,455.7 L1599.8,454.7 L1600.8,453.7 L1601.8,452.6 L1602.8,451.6 L1603.8,450.6 L1604.8,449.5 L1605.8,448.5 L1606.8,447.4 L1607.8,446.3 L1608.8,445.2 L1609.8,444.1 L1610.8,443.0 L1611.8,441.9 L1612.8,440.8 L1613.8,439.6 L1614.8,438.5 L1615.8,437.3 L1616.8,436.1 L1617.8,434.9 L1618.8,433.7 L1619.8,432.5 L1620.8,431.3 L1621.8,430.0 L1622.8,428.8 L1623.8,427.5 L1624.8,426.2 L1625.8,424.9 L1626.8,423.6 L1627.9,422.3 L1628.9,420.9 L1629.9,419.5 L1630.9,418.2 L1631.9,416.8 L1632.9,415.3 L1633.9,413.9 L1634.9,412.5 L1635.9,411.0 L1636.9,409.5 L1637.9,408.0 L1638.9,406.5 L1639.9,404.9 L1640.9,403.3 L1641.9,401.8 L1642.9,400.1 L1643.9,398.5 L1644.9,396.9 L1645.9,395.2 L1646.9,393.5 L1647.9,391.8 L1648.9,390.0 L1649.9,388.3 L1650.9,386.5 L1651.9,384.7 L1652.9,382.9 L1653.9,381.1 L1654.9,379.2 L1655.9,377.4 L1656.9,375.6 L1657.9,373.7 L1658.9,371.9 L1659.9,370.1 L1660.9,368.3 L1661.9,366.5 L1662.9,364.8 L1663.9,363.0 L1664.9,361.3 L1665.9,359.6 L1666.9,358.0 L1667.9,356.4 L1668.9,354.8 L1669.9,353.3 L1670.9,351.8 L1671.9,350.3 L1672.9,348.9 L1673.9,347.5 L1674.9,346.2 L1675.9,344.8 L1676.9,343.5 L1677.9,342.2 L1678.9,340.9 L1680.0,339.6 L1681.0,338.3 L1682.0,337.0 L1683.0,335.6 L1684.0,334.3 L1685.0,333.0 L1686.0,331.7 L1687.0,330.3 L1688.0,328.9 L1689.0,327.6 L1690.0,326.2 L1691.0,324.8 L1692.0,323.3 L1693.0,321.9 L1694.0,320.4 L1695.0,318.9 L1696.0,317.4 L1697.0,315.9 L1698.0,314.3 L1699.0,312.7 L1700.0,311.1 L1701.0,309.5 L1702.0,307.8 L1703.0,306.0 L1704.0,304.3 L1705.0,302.5 L1706.0,300.7 L1706.0,486.6 L1705.0,487.5 L1704.0,488.3 L1703.0,489.2 L1702.0,490.1 L1701.0,491.0 L1700.0,491.8 L1699.0,492.7 L1698.0,493.6 L1697.0,494.5 L1696.0,495.4 L1695.0,496.3 L1694.0,497.2 L1693.0,498.1 L1692.0,499.0 L1691.0,500.0 L1690.0,500.9 L1689.0,501.8 L1688.0,502.7 L1687.0,503.6 L1686.0,504.5 L1685.0,505.5 L1684.0,506.4 L1683.0,507.3 L1682.0,508.2 L1681.0,509.2 L1680.0,510.1 L1678.9,511.0 L1677.9,511.9 L1676.9,512.9 L1675.9,513.8 L1674.9,514.7 L1673.9,515.7 L1672.9,516.6 L1671.9,517.5 L1670.9,518.4 L1669.9,519.4 L1668.9,520.3 L1667.9,521.2 L1666.9,522.1 L1665.9,523.1 L1664.9,524.0 L1663.9,524.9 L1662.9,525.8 L1661.9,526.7 L1660.9,527.6 L1659.9,528.5 L1658.9,529.4 L1657.9,530.3 L1656.9,531.2 L1655.9,532.1 L1654.9,533.0 L1653.9,533.9 L1652.9,534.8 L1651.9,535.7 L1650.9,536.6 L1649.9,537.4 L1648.9,538.3 L1647.9,539.2 L1646.9,540.0 L1645.9,540.9 L1644.9,541.8 L1643.9,542.6 L1642.9,543.4 L1641.9,544.3 L1640.9,545.1 L1639.9,545.9 L1638.9,546.8 L1637.9,547.6 L1636.9,548.4 L1635.9,549.2 L1634.9,550.0 L1633.9,550.8 L1632.9,551.6 L1631.9,552.3 L1630.9,553.1 L1629.9,553.9 L1628.9,554.6 L1627.9,555.4 L1626.8,556.1 L1625.8,556.8 L1624.8,557.6 L1623.8,558.3 L1622.8,559.0 L1621.8,559.7 L1620.8,560.4 L1619.8,561.1 L1618.8,561.8 L1617.8,562.4 L1616.8,563.1 L1615.8,563.7 L1614.8,564.4 L1613.8,565.0 L1612.8,565.6 L1611.8,566.2 L1610.8,566.8 L1609.8,567.4 L1608.8,568.0 L1607.8,568.6 L1606.8,569.2 L1605.8,569.7 L1604.8,570.3 L1603.8,570.8 L1602.8,571.4 L1601.8,571.9 L1600.8,572.4 L1599.8,573.0 L1598.8,573.5 L1597.8,574.0 L1596.8,574.5 L1595.8,575.0 L1594.8,575.5 L1593.8,576.0 L1592.8,576.5 L1591.8,576.9 L1590.8,577.4 L1589.8,577.9 L1588.8,578.3 L1587.8,578.8 L1586.8,579.3 L1585.8,579.7 L1584.8,580.2 L1583.8,580.6 L1582.8,581.0 L1581.8,581.5 L1580.8,581.9 L1579.8,582.4 L1578.8,582.8 L1577.8,583.2 L1576.8,583.6 L1575.8,584.1 L1574.7,584.5 L1573.7,584.9 L1572.7,585.3 L1571.7,585.8 L1570.7,586.2 L1569.7,586.6 L1568.7,587.0 L1567.7,587.4 L1566.7,587.9 L1565.7,588.3 L1564.7,588.7 L1563.7,589.1 L1562.7,589.5 L1561.7,590.0 L1560.7,590.4 L1559.7,590.8 L1558.7,591.2 L1557.7,591.7 L1556.7,592.1 L1555.7,592.5 L1554.7,592.9 L1553.7,593.4 L1552.7,593.8 L1551.7,594.3 L1550.7,594.7 L1549.7,595.2 L1548.7,595.6 L1547.7,596.0 L1546.7,596.5 L1545.7,596.9 L1544.7,597.4 L1543.7,597.9 L1542.7,598.3 L1541.7,598.8 L1540.7,599.2 L1539.7,599.7 L1538.7,600.2 L1537.7,600.6 L1536.7,601.1 L1535.7,601.6 L1534.7,602.1 L1533.7,602.5 L1532.7,603.0 L1531.7,603.5 L1530.7,604.0 L1529.7,604.4 L1528.7,604.9 L1527.7,605.4 L1526.7,605.9 L1525.7,606.4 L1524.7,606.9 L1523.7,607.3 L1522.7,607.8 L1521.6,608.3 L1520.6,608.8 L1519.6,609.3 L1518.6,609.8 L1517.6,610.3 L1516.6,610.8 L1515.6,611.3 L1514.6,611.8 L1513.6,612.3 L1512.6,612.8 L1511.6,613.3 L1510.6,613.8 L1509.6,614.3 L1508.6,614.8 L1507.6,615.3 L1506.6,615.8 L1505.6,616.3 L1504.6,616.8 L1503.6,617.3 L1502.6,617.8 L1501.6,618.3 L1500.6,618.8 L1499.6,619.3 L1498.6,619.8 L1497.6,620.4 L1496.6,620.9 L1495.6,621.4 L1494.6,621.9 L1493.6,622.4 L1492.6,622.9 L1491.6,623.4 L1490.6,623.9 L1489.6,624.4 L1488.6,624.9 L1487.6,625.4 L1486.6,625.9 L1485.6,626.4 L1484.6,626.9 L1483.6,627.4 L1482.6,627.9 L1481.6,628.4 L1480.6,628.9 L1479.6,629.4 L1478.6,629.9 L1477.6,630.4 L1476.6,630.9 L1475.6,631.4 L1474.6,631.8 L1473.6,632.3 L1472.6,632.8 L1471.6,633.3 L1470.6,633.7 L1469.5,634.2 L1468.5,634.6 L1467.5,635.1 L1466.5,635.5 L1465.5,636.0 L1464.5,636.4 L1463.5,636.8 L1462.5,637.3 L1461.5,637.7 L1460.5,638.1 L1459.5,638.5 L1458.5,638.9 L1457.5,639.3 L1456.5,639.7 L1455.5,640.1 L1454.5,640.5 L1453.5,640.8 L1452.5,641.2 L1451.5,641.5 L1450.5,641.9 L1449.5,642.2 L1448.5,642.6 L1447.5,642.9 L1446.5,643.2 L1445.5,643.5 L1444.5,643.8 L1443.5,644.1 L1442.5,644.4 L1441.5,644.6 L1440.5,644.9 L1439.5,645.1 L1438.5,645.4 L1437.5,645.6 L1436.5,645.8 L1435.5,646.0 L1434.5,646.2 L1433.5,646.4 L1432.5,646.6 L1431.5,646.8 L1430.5,647.0 L1429.5,647.2 L1428.5,647.3 L1427.5,647.5 L1426.5,647.7 L1425.5,647.9 L1424.5,648.0 L1423.5,648.2 L1422.5,648.4 L1421.5,648.6 L1420.5,648.8 L1419.5,649.0 L1418.5,649.2 L1417.4,649.4 L1416.4,649.7 L1415.4,649.9 L1414.4,650.2 L1413.4,650.5 L1412.4,650.8 L1411.4,651.1 L1410.4,651.4 L1409.4,651.7 L1408.4,652.1 L1407.4,652.5 L1406.4,652.9 L1405.4,653.4 L1404.4,653.8 L1403.4,654.3 L1402.4,654.8 L1401.4,655.4 L1400.4,655.9 L1399.4,656.5 L1398.4,657.2 L1397.4,657.8 L1396.4,658.5 L1395.4,659.3 L1394.4,660.0 L1393.4,660.9 L1392.4,661.7 L1391.4,662.6 L1390.4,663.5 L1389.4,664.5 L1388.4,665.5 L1387.4,666.5 L1386.4,667.6 L1385.4,668.7 L1384.4,669.8 L1383.4,671.0 L1382.4,672.2 L1381.4,673.4 L1380.4,674.7 L1379.4,675.9 L1378.4,677.2 L1377.4,678.5 L1376.4,679.8 L1375.4,681.1 L1374.4,682.5 L1373.4,683.8 L1372.4,685.2 L1371.4,686.6 L1370.4,687.9 L1369.4,689.3 L1368.4,690.7 L1367.4,692.1 L1366.4,693.4 L1365.3,694.8 L1364.3,696.1 L1363.3,697.5 L1362.3,698.8 L1361.3,700.0 L1360.3,701.3 L1359.3,702.5 L1358.3,703.6 L1357.3,704.7 L1356.3,705.8 L1355.3,706.8 L1354.3,707.7 L1353.3,708.6 L1352.3,709.4 L1351.3,710.1 L1350.3,710.6 L1349.3,710.6 L1348.3,710.6 L1347.3,710.6 L1346.3,710.6 L1345.3,710.6 L1344.3,710.6 L1343.3,710.6 L1342.3,710.6 L1341.3,710.6 L1340.3,710.6 L1339.3,710.6 Z" fill="#1e1e1e" fill-opacity="0.200" stroke="#1e1e1e" stroke-opacity="0.200" stroke-width="1.74" stroke-linejoin="round"/>
<path d="M1229.50,710.60 L1280.0,710.6 L1281.0,710.2 L1282.0,710.4 L1283.0,710.5 L1284.0,710.6 L1285.0,710.6 L1286.0,710.6 L1287.0,710.6 L1288.0,710.6 L1289.0,710.6 L1290.0,710.6 L1291.0,710.6 L1292.0,710.6 L1293.0,710.5 L1294.0,710.3 L1295.0,710.2 L1296.0,710.0 L1297.0,709.8 L1298.0,709.6 L1299.0,709.4 L1300.0,709.1 L1301.0,708.9 L1302.0,708.6 L1303.0,708.2 L1304.0,707.9 L1305.0,707.5 L1306.0,707.1 L1307.0,706.7 L1308.0,706.3 L1309.0,705.8 L1310.0,705.3 L1311.0,704.8 L1312.0,704.3 L1313.0,703.8 L1314.0,703.2 L1315.0,702.6 L1316.0,702.0 L1317.0,701.3 L1318.0,700.7 L1319.0,700.0 L1320.0,699.3 L1321.0,698.5 L1322.0,697.8 L1323.0,697.0 L1324.0,696.2 L1325.0,695.3 L1326.0,694.5 L1327.0,693.6 L1328.0,692.7 L1329.0,691.8 L1330.0,690.8 L1331.0,689.8 L1332.0,688.8 L1333.0,687.8 L1334.0,686.8 L1335.0,685.7 L1336.0,684.6 L1337.0,683.5 L1338.0,682.3 L1339.0,681.2 L1340.0,680.0 L1341.0,678.7 L1342.0,677.5 L1343.0,676.2 L1344.0,674.9 L1345.0,673.6 L1346.0,672.3 L1347.0,670.9 L1348.0,669.5 L1349.0,668.1 L1350.0,666.7 L1351.0,665.3 L1352.0,663.8 L1353.0,662.4 L1354.0,660.9 L1355.0,659.4 L1356.0,657.9 L1357.0,656.4 L1358.0,654.9 L1359.0,653.4 L1360.0,651.8 L1361.0,650.3 L1362.0,648.8 L1363.0,647.2 L1364.0,645.7 L1365.0,644.1 L1366.0,642.6 L1367.0,641.0 L1368.0,639.5 L1369.0,638.0 L1370.0,636.5 L1371.0,634.9 L1372.0,633.4 L1373.0,631.9 L1374.0,630.4 L1375.0,629.0 L1376.0,627.5 L1377.0,626.0 L1378.0,624.6 L1379.0,623.2 L1380.0,621.8 L1381.0,620.4 L1382.0,619.0 L1383.0,617.7 L1384.0,616.3 L1385.0,615.0 L1386.0,613.8 L1387.0,612.5 L1388.0,611.3 L1389.0,610.1 L1390.0,608.9 L1391.0,607.7 L1392.0,606.6 L1393.0,605.5 L1394.0,604.4 L1395.0,603.3 L1396.0,602.2 L1397.0,601.2 L1398.0,600.2 L1399.0,599.2 L1400.0,598.2 L1401.0,597.2 L1402.0,596.3 L1403.0,595.3 L1404.0,594.4 L1405.0,593.5 L1406.0,592.6 L1407.0,591.7 L1408.0,590.9 L1409.0,590.0 L1410.0,589.2 L1411.0,588.4 L1412.0,587.6 L1413.0,586.8 L1414.0,586.0 L1415.0,585.2 L1416.0,584.5 L1417.0,583.7 L1418.0,583.0 L1419.0,582.3 L1420.0,581.6 L1421.0,580.8 L1422.0,580.1 L1423.0,579.4 L1424.0,578.8 L1425.0,578.1 L1426.0,577.4 L1427.0,576.7 L1428.0,576.1 L1429.0,575.4 L1430.0,574.7 L1431.0,574.1 L1432.0,573.4 L1433.0,572.8 L1434.0,572.2 L1435.0,571.5 L1436.0,570.9 L1437.0,570.2 L1438.0,569.6 L1439.0,569.0 L1440.0,568.3 L1441.0,567.7 L1442.0,567.1 L1443.0,566.4 L1444.0,565.8 L1445.0,565.1 L1446.0,564.5 L1447.0,563.8 L1448.0,563.2 L1449.0,562.5 L1450.0,561.9 L1451.0,561.2 L1452.0,560.5 L1453.0,559.9 L1454.0,559.2 L1455.0,558.5 L1456.0,557.8 L1457.0,557.1 L1458.0,556.4 L1459.0,555.7 L1460.0,554.9 L1461.0,554.2 L1462.0,553.5 L1463.0,552.7 L1464.0,552.0 L1465.0,551.2 L1466.0,550.5 L1467.0,549.7 L1468.0,549.0 L1469.0,548.2 L1470.0,547.4 L1471.0,546.6 L1472.0,545.8 L1473.0,545.0 L1474.0,544.2 L1475.0,543.4 L1476.0,542.6 L1477.0,541.8 L1478.0,541.0 L1479.0,540.2 L1480.0,539.4 L1481.0,538.5 L1482.0,537.7 L1483.0,536.9 L1484.0,536.0 L1485.0,535.2 L1486.0,534.3 L1487.0,533.5 L1488.0,532.6 L1489.0,531.8 L1490.0,530.9 L1491.0,530.0 L1492.0,529.2 L1493.0,528.3 L1494.0,527.4 L1495.0,526.6 L1496.0,525.7 L1497.0,524.8 L1498.0,523.9 L1499.0,523.1 L1500.0,522.2 L1501.0,521.3 L1502.0,520.4 L1503.0,519.5 L1504.0,518.6 L1505.0,517.7 L1506.0,516.9 L1507.0,516.0 L1508.0,515.1 L1509.0,514.2 L1510.0,513.3 L1511.0,512.4 L1512.0,511.5 L1513.0,510.6 L1514.0,509.7 L1515.0,508.8 L1516.0,507.9 L1517.0,507.0 L1518.0,506.1 L1519.0,505.2 L1520.0,504.3 L1521.0,503.4 L1522.0,502.5 L1523.0,501.6 L1524.0,500.7 L1525.0,499.8 L1526.0,498.9 L1527.0,498.0 L1528.0,497.1 L1529.0,496.1 L1530.0,495.2 L1531.0,494.3 L1532.0,493.4 L1533.0,492.5 L1534.0,491.5 L1535.0,490.6 L1536.0,489.7 L1537.0,488.8 L1538.0,487.8 L1539.0,486.9 L1540.0,485.9 L1541.0,485.0 L1542.0,484.1 L1543.0,483.1 L1544.0,482.2 L1545.0,481.2 L1546.0,480.3 L1547.0,479.3 L1548.0,478.3 L1549.0,477.4 L1550.0,476.4 L1551.0,475.4 L1552.0,474.4 L1553.0,473.4 L1554.0,472.5 L1555.0,471.5 L1556.0,470.5 L1557.0,469.5 L1558.0,468.5 L1559.0,467.5 L1560.0,466.4 L1561.0,465.4 L1562.0,464.4 L1563.0,463.4 L1564.0,462.3 L1565.0,461.3 L1566.0,460.3 L1567.0,459.2 L1568.0,458.2 L1569.0,457.1 L1570.0,456.0 L1571.0,455.0 L1572.0,453.9 L1573.0,452.8 L1574.0,451.7 L1575.0,450.6 L1576.0,449.5 L1577.0,448.4 L1578.0,447.3 L1579.0,446.2 L1580.0,445.1 L1581.0,443.9 L1582.0,442.8 L1583.0,441.6 L1584.0,440.5 L1585.0,439.3 L1586.0,438.2 L1587.0,437.0 L1588.0,435.8 L1589.0,434.6 L1590.0,433.4 L1591.0,432.2 L1592.0,431.0 L1593.0,429.8 L1594.0,428.6 L1595.0,427.3 L1596.0,426.1 L1597.0,424.8 L1598.0,423.6 L1599.0,422.3 L1600.0,421.0 L1601.0,419.8 L1602.0,418.5 L1603.0,417.2 L1604.0,415.9 L1605.0,414.5 L1606.0,413.2 L1607.0,411.9 L1608.0,410.5 L1609.0,409.2 L1610.0,407.8 L1611.0,406.4 L1612.0,405.1 L1613.0,403.7 L1614.0,402.3 L1615.0,400.9 L1616.0,399.4 L1617.0,398.0 L1618.0,396.6 L1619.0,395.1 L1620.0,393.7 L1621.0,392.2 L1622.0,390.7 L1623.0,389.2 L1624.0,387.7 L1625.0,386.2 L1626.0,384.7 L1627.0,383.1 L1628.0,381.6 L1629.0,380.0 L1630.0,378.5 L1631.0,376.9 L1632.0,375.3 L1633.0,373.7 L1634.0,372.1 L1635.0,370.5 L1636.0,368.8 L1637.0,367.2 L1638.0,365.5 L1639.0,363.8 L1640.0,362.2 L1641.0,360.5 L1642.0,358.8 L1643.0,357.1 L1644.0,355.3 L1645.0,353.6 L1646.0,351.8 L1647.0,350.1 L1648.0,348.3 L1649.0,346.5 L1650.0,344.7 L1651.0,342.9 L1652.0,341.1 L1653.0,339.3 L1654.0,337.4 L1655.0,335.6 L1656.0,333.7 L1657.0,331.8 L1658.0,329.9 L1659.0,328.0 L1660.0,326.1 L1661.0,324.2 L1662.0,322.3 L1663.0,320.3 L1664.0,318.4 L1665.0,316.4 L1666.0,314.5 L1667.0,312.5 L1668.0,310.5 L1669.0,308.5 L1670.0,306.5 L1671.0,304.4 L1672.0,302.4 L1673.0,300.3 L1674.0,298.3 L1675.0,296.2 L1676.0,294.1 L1677.0,292.0 L1678.0,289.9 L1679.0,287.8 L1680.0,285.7 L1681.0,283.6 L1682.0,281.4 L1683.0,279.3 L1684.0,277.1 L1685.0,274.9 L1686.0,272.8 L1687.0,270.6 L1688.0,268.4 L1689.0,266.1 L1690.0,263.9 L1691.0,261.7 L1692.0,259.4 L1693.0,257.2 L1694.0,254.9 L1695.0,252.6 L1696.0,250.3 L1697.0,248.0 L1698.0,245.7 L1699.0,243.4 L1700.0,241.1 L1701.0,238.7 L1702.0,236.4 L1703.0,234.0 L1704.0,231.7 L1705.0,229.3 L1706.0,226.9" fill="none" stroke="#5e0a14" stroke-width="3.48" stroke-dasharray="12.9 5.57" stroke-linecap="butt" stroke-linejoin="round"/>
<path d="M1229.50,710.60 L1280.0,710.6 L1281.0,710.4 L1282.0,710.5 L1283.0,710.5 L1284.0,710.6 L1285.0,710.6 L1286.0,710.6 L1287.0,710.6 L1288.0,710.6 L1289.0,710.6 L1290.0,710.6 L1291.0,710.5 L1292.0,710.4 L1293.0,710.3 L1294.0,710.2 L1295.0,710.0 L1296.0,709.9 L1297.0,709.7 L1298.0,709.5 L1299.0,709.2 L1300.0,709.0 L1301.0,708.7 L1302.0,708.4 L1303.0,708.1 L1304.0,707.7 L1305.0,707.4 L1306.0,707.0 L1307.0,706.6 L1308.0,706.1 L1309.0,705.7 L1310.0,705.2 L1311.0,704.7 L1312.0,704.2 L1313.0,703.6 L1314.0,703.1 L1315.0,702.5 L1316.0,701.9 L1317.0,701.2 L1318.0,700.6 L1319.0,699.9 L1320.0,699.2 L1321.0,698.5 L1322.0,697.7 L1323.0,697.0 L1324.0,696.2 L1325.0,695.3 L1326.0,694.5 L1327.0,693.6 L1328.0,692.7 L1329.0,691.8 L1330.0,690.9 L1331.0,689.9 L1332.0,688.9 L1333.0,687.9 L1334.0,686.9 L1335.0,685.8 L1336.0,684.7 L1337.0,683.6 L1338.0,682.5 L1339.0,681.3 L1340.0,680.1 L1341.0,678.9 L1342.0,677.6 L1343.0,676.4 L1344.0,675.1 L1345.0,673.8 L1346.0,672.4 L1347.0,671.1 L1348.0,669.7 L1349.0,668.3 L1350.0,666.9 L1351.0,665.4 L1352.0,664.0 L1353.0,662.5 L1354.0,661.0 L1355.0,659.5 L1356.0,658.0 L1357.0,656.5 L1358.0,655.0 L1359.0,653.5 L1360.0,651.9 L1361.0,650.4 L1362.0,648.8 L1363.0,647.3 L1364.0,645.7 L1365.0,644.2 L1366.0,642.6 L1367.0,641.1 L1368.0,639.6 L1369.0,638.0 L1370.0,636.5 L1371.0,634.9 L1372.0,633.4 L1373.0,631.9 L1374.0,630.4 L1375.0,628.9 L1376.0,627.5 L1377.0,626.0 L1378.0,624.5 L1379.0,623.1 L1380.0,621.7 L1381.0,620.3 L1382.0,618.9 L1383.0,617.6 L1384.0,616.2 L1385.0,614.9 L1386.0,613.7 L1387.0,612.4 L1388.0,611.2 L1389.0,609.9 L1390.0,608.8 L1391.0,607.6 L1392.0,606.4 L1393.0,605.3 L1394.0,604.2 L1395.0,603.1 L1396.0,602.1 L1397.0,601.0 L1398.0,600.0 L1399.0,599.0 L1400.0,598.0 L1401.0,597.1 L1402.0,596.1 L1403.0,595.2 L1404.0,594.3 L1405.0,593.4 L1406.0,592.5 L1407.0,591.6 L1408.0,590.8 L1409.0,589.9 L1410.0,589.1 L1411.0,588.3 L1412.0,587.5 L1413.0,586.7 L1414.0,586.0 L1415.0,585.2 L1416.0,584.5 L1417.0,583.7 L1418.0,583.0 L1419.0,582.3 L1420.0,581.6 L1421.0,580.9 L1422.0,580.2 L1423.0,579.5 L1424.0,578.9 L1425.0,578.2 L1426.0,577.6 L1427.0,576.9 L1428.0,576.3 L1429.0,575.6 L1430.0,575.0 L1431.0,574.4 L1432.0,573.8 L1433.0,573.2 L1434.0,572.5 L1435.0,571.9 L1436.0,571.3 L1437.0,570.7 L1438.0,570.1 L1439.0,569.5 L1440.0,568.9 L1441.0,568.4 L1442.0,567.8 L1443.0,567.2 L1444.0,566.6 L1445.0,566.0 L1446.0,565.4 L1447.0,564.8 L1448.0,564.2 L1449.0,563.6 L1450.0,563.0 L1451.0,562.4 L1452.0,561.8 L1453.0,561.1 L1454.0,560.5 L1455.0,559.9 L1456.0,559.3 L1457.0,558.6 L1458.0,558.0 L1459.0,557.3 L1460.0,556.7 L1461.0,556.0 L1462.0,555.4 L1463.0,554.7 L1464.0,554.0 L1465.0,553.3 L1466.0,552.7 L1467.0,552.0 L1468.0,551.3 L1469.0,550.6 L1470.0,549.9 L1471.0,549.2 L1472.0,548.5 L1473.0,547.8 L1474.0,547.0 L1475.0,546.3 L1476.0,545.6 L1477.0,544.9 L1478.0,544.1 L1479.0,543.4 L1480.0,542.7 L1481.0,541.9 L1482.0,541.2 L1483.0,540.4 L1484.0,539.7 L1485.0,538.9 L1486.0,538.1 L1487.0,537.4 L1488.0,536.6 L1489.0,535.8 L1490.0,535.1 L1491.0,534.3 L1492.0,533.5 L1493.0,532.7 L1494.0,531.9 L1495.0,531.1 L1496.0,530.3 L1497.0,529.5 L1498.0,528.7 L1499.0,527.9 L1500.0,527.1 L1501.0,526.3 L1502.0,525.5 L1503.0,524.7 L1504.0,523.9 L1505.0,523.0 L1506.0,522.2 L1507.0,521.4 L1508.0,520.6 L1509.0,519.7 L1510.0,518.9 L1511.0,518.1 L1512.0,517.2 L1513.0,516.4 L1514.0,515.6 L1515.0,514.7 L1516.0,513.9 L1517.0,513.0 L1518.0,512.2 L1519.0,511.3 L1520.0,510.5 L1521.0,509.6 L1522.0,508.8 L1523.0,507.9 L1524.0,507.0 L1525.0,506.2 L1526.0,505.3 L1527.0,504.4 L1528.0,503.6 L1529.0,502.7 L1530.0,501.8 L1531.0,500.9 L1532.0,500.0 L1533.0,499.1 L1534.0,498.2 L1535.0,497.3 L1536.0,496.4 L1537.0,495.5 L1538.0,494.6 L1539.0,493.7 L1540.0,492.8 L1541.0,491.9 L1542.0,490.9 L1543.0,490.0 L1544.0,489.1 L1545.0,488.2 L1546.0,487.2 L1547.0,486.3 L1548.0,485.3 L1549.0,484.4 L1550.0,483.4 L1551.0,482.5 L1552.0,481.5 L1553.0,480.5 L1554.0,479.5 L1555.0,478.6 L1556.0,477.6 L1557.0,476.6 L1558.0,475.6 L1559.0,474.6 L1560.0,473.6 L1561.0,472.6 L1562.0,471.6 L1563.0,470.5 L1564.0,469.5 L1565.0,468.5 L1566.0,467.5 L1567.0,466.4 L1568.0,465.4 L1569.0,464.3 L1570.0,463.3 L1571.0,462.2 L1572.0,461.1 L1573.0,460.0 L1574.0,459.0 L1575.0,457.9 L1576.0,456.8 L1577.0,455.7 L1578.0,454.6 L1579.0,453.5 L1580.0,452.3 L1581.0,451.2 L1582.0,450.1 L1583.0,449.0 L1584.0,447.8 L1585.0,446.7 L1586.0,445.5 L1587.0,444.3 L1588.0,443.2 L1589.0,442.0 L1590.0,440.8 L1591.0,439.6 L1592.0,438.4 L1593.0,437.2 L1594.0,436.0 L1595.0,434.8 L1596.0,433.5 L1597.0,432.3 L1598.0,431.1 L1599.0,429.8 L1600.0,428.6 L1601.0,427.3 L1602.0,426.0 L1603.0,424.7 L1604.0,423.5 L1605.0,422.2 L1606.0,420.9 L1607.0,419.5 L1608.0,418.2 L1609.0,416.9 L1610.0,415.6 L1611.0,414.2 L1612.0,412.9 L1613.0,411.5 L1614.0,410.1 L1615.0,408.7 L1616.0,407.4 L1617.0,406.0 L1618.0,404.6 L1619.0,403.1 L1620.0,401.7 L1621.0,400.3 L1622.0,398.8 L1623.0,397.4 L1624.0,395.9 L1625.0,394.5 L1626.0,393.0 L1627.0,391.5 L1628.0,390.0 L1629.0,388.5 L1630.0,387.0 L1631.0,385.5 L1632.0,383.9 L1633.0,382.4 L1634.0,380.8 L1635.0,379.3 L1636.0,377.7 L1637.0,376.1 L1638.0,374.5 L1639.0,372.9 L1640.0,371.3 L1641.0,369.7 L1642.0,368.0 L1643.0,366.4 L1644.0,364.7 L1645.0,363.1 L1646.0,361.4 L1647.0,359.7 L1648.0,358.0 L1649.0,356.3 L1650.0,354.6 L1651.0,352.9 L1652.0,351.1 L1653.0,349.4 L1654.0,347.6 L1655.0,345.8 L1656.0,344.0 L1657.0,342.2 L1658.0,340.4 L1659.0,338.6 L1660.0,336.8 L1661.0,334.9 L1662.0,333.1 L1663.0,331.2 L1664.0,329.4 L1665.0,327.5 L1666.0,325.6 L1667.0,323.6 L1668.0,321.7 L1669.0,319.8 L1670.0,317.8 L1671.0,315.9 L1672.0,313.9 L1673.0,311.9 L1674.0,309.9 L1675.0,307.9 L1676.0,305.9 L1677.0,303.9 L1678.0,301.8 L1679.0,299.8 L1680.0,297.7 L1681.0,295.6 L1682.0,293.5 L1683.0,291.4 L1684.0,289.3 L1685.0,287.1 L1686.0,285.0 L1687.0,282.8 L1688.0,280.6 L1689.0,278.4 L1690.0,276.2 L1691.0,274.0 L1692.0,271.8 L1693.0,269.5 L1694.0,267.3 L1695.0,265.0 L1696.0,262.7 L1697.0,260.4 L1698.0,258.1 L1699.0,255.8 L1700.0,253.5 L1701.0,251.1 L1702.0,248.7 L1703.0,246.3 L1704.0,244.0 L1705.0,241.5 L1706.0,239.1" fill="none" stroke="#1a0606" stroke-width="3.48" stroke-dasharray="3.48 5.74" stroke-linecap="butt" stroke-linejoin="round"/>
<path d="M1229.50,710.60 L1325.0,710.6 L1326.0,710.6 L1327.0,710.6 L1328.0,710.6 L1329.0,710.6 L1330.0,710.6 L1331.0,710.6 L1332.0,710.6 L1333.0,710.6 L1334.0,710.6 L1335.0,710.6 L1336.0,710.6 L1337.0,710.6 L1338.0,710.6 L1339.0,710.6 L1340.0,710.6 L1341.0,710.6 L1342.0,710.1 L1343.0,709.5 L1344.0,708.8 L1345.0,708.0 L1346.0,707.2 L1347.0,706.3 L1348.0,705.3 L1349.0,704.4 L1350.0,703.4 L1351.0,702.3 L1352.0,701.2 L1353.0,700.0 L1354.0,698.9 L1355.0,697.7 L1356.0,696.4 L1357.0,695.1 L1358.0,693.9 L1359.0,692.5 L1360.0,691.2 L1361.0,689.8 L1362.0,688.5 L1363.0,687.1 L1364.0,685.7 L1365.0,684.3 L1366.0,682.8 L1367.0,681.4 L1368.0,680.0 L1369.0,678.6 L1370.0,677.1 L1371.0,675.7 L1372.0,674.3 L1373.0,672.9 L1374.0,671.5 L1375.0,670.2 L1376.0,668.8 L1377.0,667.5 L1378.0,666.2 L1379.0,664.9 L1380.0,663.7 L1381.0,662.4 L1382.0,661.3 L1383.0,660.1 L1384.0,659.0 L1385.0,657.9 L1386.0,656.9 L1387.0,655.9 L1388.0,654.9 L1389.0,654.0 L1390.0,653.1 L1391.0,652.3 L1392.0,651.5 L1393.0,650.7 L1394.0,649.9 L1395.0,649.2 L1396.0,648.5 L1397.0,647.8 L1398.0,647.1 L1399.0,646.5 L1400.0,645.9 L1401.0,645.3 L1402.0,644.7 L1403.0,644.1 L1404.0,643.6 L1405.0,643.0 L1406.0,642.5 L1407.0,642.0 L1408.0,641.5 L1409.0,641.0 L1410.0,640.5 L1411.0,640.0 L1412.0,639.6 L1413.0,639.1 L1414.0,638.6 L1415.0,638.2 L1416.0,637.7 L1417.0,637.3 L1418.0,636.8 L1419.0,636.4 L1420.0,635.9 L1421.0,635.5 L1422.0,635.0 L1423.0,634.6 L1424.0,634.1 L1425.0,633.7 L1426.0,633.2 L1427.0,632.8 L1428.0,632.3 L1429.0,631.8 L1430.0,631.4 L1431.0,630.9 L1432.0,630.4 L1433.0,629.9 L1434.0,629.4 L1435.0,628.9 L1436.0,628.4 L1437.0,627.9 L1438.0,627.3 L1439.0,626.8 L1440.0,626.2 L1441.0,625.7 L1442.0,625.1 L1443.0,624.5 L1444.0,624.0 L1445.0,623.4 L1446.0,622.8 L1447.0,622.2 L1448.0,621.5 L1449.0,620.9 L1450.0,620.3 L1451.0,619.7 L1452.0,619.0 L1453.0,618.4 L1454.0,617.7 L1455.0,617.1 L1456.0,616.4 L1457.0,615.7 L1458.0,615.1 L1459.0,614.4 L1460.0,613.7 L1461.0,613.0 L1462.0,612.3 L1463.0,611.6 L1464.0,610.9 L1465.0,610.2 L1466.0,609.5 L1467.0,608.8 L1468.0,608.1 L1469.0,607.4 L1470.0,606.7 L1471.0,606.0 L1472.0,605.3 L1473.0,604.6 L1474.0,603.9 L1475.0,603.1 L1476.0,602.4 L1477.0,601.7 L1478.0,601.0 L1479.0,600.3 L1480.0,599.6 L1481.0,598.9 L1482.0,598.2 L1483.0,597.5 L1484.0,596.7 L1485.0,596.0 L1486.0,595.3 L1487.0,594.6 L1488.0,593.9 L1489.0,593.3 L1490.0,592.6 L1491.0,591.9 L1492.0,591.2 L1493.0,590.5 L1494.0,589.9 L1495.0,589.2 L1496.0,588.5 L1497.0,587.9 L1498.0,587.2 L1499.0,586.6 L1500.0,585.9 L1501.0,585.3 L1502.0,584.7 L1503.0,584.0 L1504.0,583.4 L1505.0,582.8 L1506.0,582.2 L1507.0,581.6 L1508.0,581.0 L1509.0,580.4 L1510.0,579.8 L1511.0,579.2 L1512.0,578.6 L1513.0,578.0 L1514.0,577.5 L1515.0,576.9 L1516.0,576.3 L1517.0,575.8 L1518.0,575.2 L1519.0,574.6 L1520.0,574.1 L1521.0,573.5 L1522.0,573.0 L1523.0,572.4 L1524.0,571.9 L1525.0,571.3 L1526.0,570.8 L1527.0,570.3 L1528.0,569.7 L1529.0,569.2 L1530.0,568.7 L1531.0,568.1 L1532.0,567.6 L1533.0,567.1 L1534.0,566.6 L1535.0,566.0 L1536.0,565.5 L1537.0,565.0 L1538.0,564.5 L1539.0,563.9 L1540.0,563.4 L1541.0,562.9 L1542.0,562.4 L1543.0,561.8 L1544.0,561.3 L1545.0,560.8 L1546.0,560.3 L1547.0,559.7 L1548.0,559.2 L1549.0,558.7 L1550.0,558.2 L1551.0,557.6 L1552.0,557.1 L1553.0,556.6 L1554.0,556.0 L1555.0,555.5 L1556.0,555.0 L1557.0,554.4 L1558.0,553.9 L1559.0,553.4 L1560.0,552.8 L1561.0,552.3 L1562.0,551.7 L1563.0,551.2 L1564.0,550.6 L1565.0,550.1 L1566.0,549.5 L1567.0,548.9 L1568.0,548.4 L1569.0,547.8 L1570.0,547.2 L1571.0,546.6 L1572.0,546.1 L1573.0,545.5 L1574.0,544.9 L1575.0,544.3 L1576.0,543.7 L1577.0,543.1 L1578.0,542.5 L1579.0,541.9 L1580.0,541.2 L1581.0,540.6 L1582.0,540.0 L1583.0,539.4 L1584.0,538.7 L1585.0,538.1 L1586.0,537.4 L1587.0,536.8 L1588.0,536.1 L1589.0,535.4 L1590.0,534.8 L1591.0,534.1 L1592.0,533.4 L1593.0,532.7 L1594.0,532.0 L1595.0,531.3 L1596.0,530.6 L1597.0,529.8 L1598.0,529.1 L1599.0,528.4 L1600.0,527.6 L1601.0,526.9 L1602.0,526.1 L1603.0,525.3 L1604.0,524.6 L1605.0,523.8 L1606.0,523.0 L1607.0,522.2 L1608.0,521.4 L1609.0,520.6 L1610.0,519.7 L1611.0,518.9 L1612.0,518.0 L1613.0,517.2 L1614.0,516.3 L1615.0,515.4 L1616.0,514.6 L1617.0,513.7 L1618.0,512.8 L1619.0,511.8 L1620.0,510.9 L1621.0,510.0 L1622.0,509.0 L1623.0,508.1 L1624.0,507.1 L1625.0,506.1 L1626.0,505.1 L1627.0,504.1 L1628.0,503.1 L1629.0,502.1 L1630.0,501.1 L1631.0,500.0 L1632.0,499.0 L1633.0,497.9 L1634.0,496.8 L1635.0,495.8 L1636.0,494.7 L1637.0,493.6 L1638.0,492.5 L1639.0,491.4 L1640.0,490.3 L1641.0,489.2 L1642.0,488.1 L1643.0,486.9 L1644.0,485.8 L1645.0,484.7 L1646.0,483.5 L1647.0,482.4 L1648.0,481.2 L1649.0,480.1 L1650.0,478.9 L1651.0,477.7 L1652.0,476.6 L1653.0,475.4 L1654.0,474.2 L1655.0,473.1 L1656.0,471.9 L1657.0,470.7 L1658.0,469.5 L1659.0,468.3 L1660.0,467.2 L1661.0,466.0 L1662.0,464.8 L1663.0,463.6 L1664.0,462.4 L1665.0,461.3 L1666.0,460.1 L1667.0,458.9 L1668.0,457.7 L1669.0,456.6 L1670.0,455.4 L1671.0,454.2 L1672.0,453.0 L1673.0,451.9 L1674.0,450.7 L1675.0,449.6 L1676.0,448.4 L1677.0,447.2 L1678.0,446.1 L1679.0,444.9 L1680.0,443.7 L1681.0,442.6 L1682.0,441.4 L1683.0,440.2 L1684.0,439.0 L1685.0,437.8 L1686.0,436.6 L1687.0,435.4 L1688.0,434.1 L1689.0,432.9 L1690.0,431.6 L1691.0,430.4 L1692.0,429.1 L1693.0,427.8 L1694.0,426.5 L1695.0,425.1 L1696.0,423.8 L1697.0,422.4 L1698.0,421.0 L1699.0,419.6 L1700.0,418.1 L1701.0,416.7 L1702.0,415.2 L1703.0,413.7 L1704.0,412.1 L1705.0,410.6 L1706.0,409.0" fill="none" stroke="#000000" stroke-width="3.48" stroke-dasharray="22.3 5.57 3.48 5.57" stroke-linecap="butt" stroke-linejoin="round"/>
</g>
<rect x="1229.50" y="26.80" width="473.50" height="716.60" fill="none" stroke="#000" stroke-width="1.4" stroke-linejoin="miter"/>
<line x1="1229.50" y1="743.40" x2="1229.50" y2="749.70" stroke="#000" stroke-width="1.4"/>
<text x="1229.50" y="769.6" text-anchor="middle" font-size="17.60">1900</text>
<line x1="1288.69" y1="743.40" x2="1288.69" y2="749.70" stroke="#000" stroke-width="1.4"/>
<text x="1288.69" y="769.6" text-anchor="middle" font-size="17.60">1950</text>
<line x1="1347.88" y1="743.40" x2="1347.88" y2="749.70" stroke="#000" stroke-width="1.4"/>
<text x="1347.88" y="769.6" text-anchor="middle" font-size="17.60">2000</text>
<line x1="1407.06" y1="743.40" x2="1407.06" y2="749.70" stroke="#000" stroke-width="1.4"/>
<text x="1407.06" y="769.6" text-anchor="middle" font-size="17.60">2050</text>
<line x1="1466.25" y1="743.40" x2="1466.25" y2="749.70" stroke="#000" stroke-width="1.4"/>
<text x="1466.25" y="769.6" text-anchor="middle" font-size="17.60">2100</text>
<line x1="1525.44" y1="743.40" x2="1525.44" y2="749.70" stroke="#000" stroke-width="1.4"/>
<text x="1525.44" y="769.6" text-anchor="middle" font-size="17.60">2150</text>
<line x1="1584.62" y1="743.40" x2="1584.62" y2="749.70" stroke="#000" stroke-width="1.4"/>
<text x="1584.62" y="769.6" text-anchor="middle" font-size="17.60">2200</text>
<line x1="1643.81" y1="743.40" x2="1643.81" y2="749.70" stroke="#000" stroke-width="1.4"/>
<text x="1643.81" y="769.6" text-anchor="middle" font-size="17.60">2250</text>
<line x1="1703.00" y1="743.40" x2="1703.00" y2="749.70" stroke="#000" stroke-width="1.4"/>
<text x="1703.00" y="769.6" text-anchor="middle" font-size="17.60">2300</text>
<line x1="1223.20" y1="710.60" x2="1229.50" y2="710.60" stroke="#000" stroke-width="1.4"/>
<text x="1216.90" y="717.05" text-anchor="end" font-size="17.60">0.0</text>
<line x1="1223.20" y1="575.04" x2="1229.50" y2="575.04" stroke="#000" stroke-width="1.4"/>
<text x="1216.90" y="581.49" text-anchor="end" font-size="17.60">0.1</text>
<line x1="1223.20" y1="439.48" x2="1229.50" y2="439.48" stroke="#000" stroke-width="1.4"/>
<text x="1216.90" y="445.93" text-anchor="end" font-size="17.60">0.2</text>
<line x1="1223.20" y1="303.92" x2="1229.50" y2="303.92" stroke="#000" stroke-width="1.4"/>
<text x="1216.90" y="310.37" text-anchor="end" font-size="17.60">0.3</text>
<line x1="1223.20" y1="168.36" x2="1229.50" y2="168.36" stroke="#000" stroke-width="1.4"/>
<text x="1216.90" y="174.81" text-anchor="end" font-size="17.60">0.4</text>
<line x1="1223.20" y1="32.80" x2="1229.50" y2="32.80" stroke="#000" stroke-width="1.4"/>
<text x="1216.90" y="39.25" text-anchor="end" font-size="17.60">0.5</text>
<text x="1466.25" y="794.0" text-anchor="middle" font-size="17.60">Year</text>
<text transform="translate(1177.90,385.10) rotate(-90)" text-anchor="middle" font-size="17.60"><tspan font-style="italic">&#948;</tspan>GMSLR since 1900 (m)</text>
<text x="1229.30" y="16.80" font-size="21.00" font-weight="bold">c</text>
<rect x="1235.90" y="33.60" width="297.40" height="66.60" rx="3.5" ry="3.5" fill="#fff" fill-opacity="0.8" stroke="#cccccc" stroke-width="1.4"/>
<line x1="1241.80" y1="45.40" x2="1284.00" y2="45.40" stroke="#5e0a14" stroke-width="3.48" stroke-dasharray="12.9 5.57"/>
<text x="1294.50" y="50.50" font-size="14.10">SSP585 Control - SSP585 CF1854</text>
<line x1="1241.80" y1="66.20" x2="1284.00" y2="66.20" stroke="#1a0606" stroke-width="3.48" stroke-dasharray="3.48 5.74"/>
<text x="1294.50" y="71.30" font-size="14.10">SSP585 Control - SSP585 CF1950</text>
<line x1="1241.80" y1="86.90" x2="1284.00" y2="86.90" stroke="#000000" stroke-width="3.48" stroke-dasharray="22.3 5.57 3.48 5.57"/>
<text x="1294.50" y="92.00" font-size="14.10">SSP585 Control - SSP585 CF1990</text>
</svg>
</body></html>
